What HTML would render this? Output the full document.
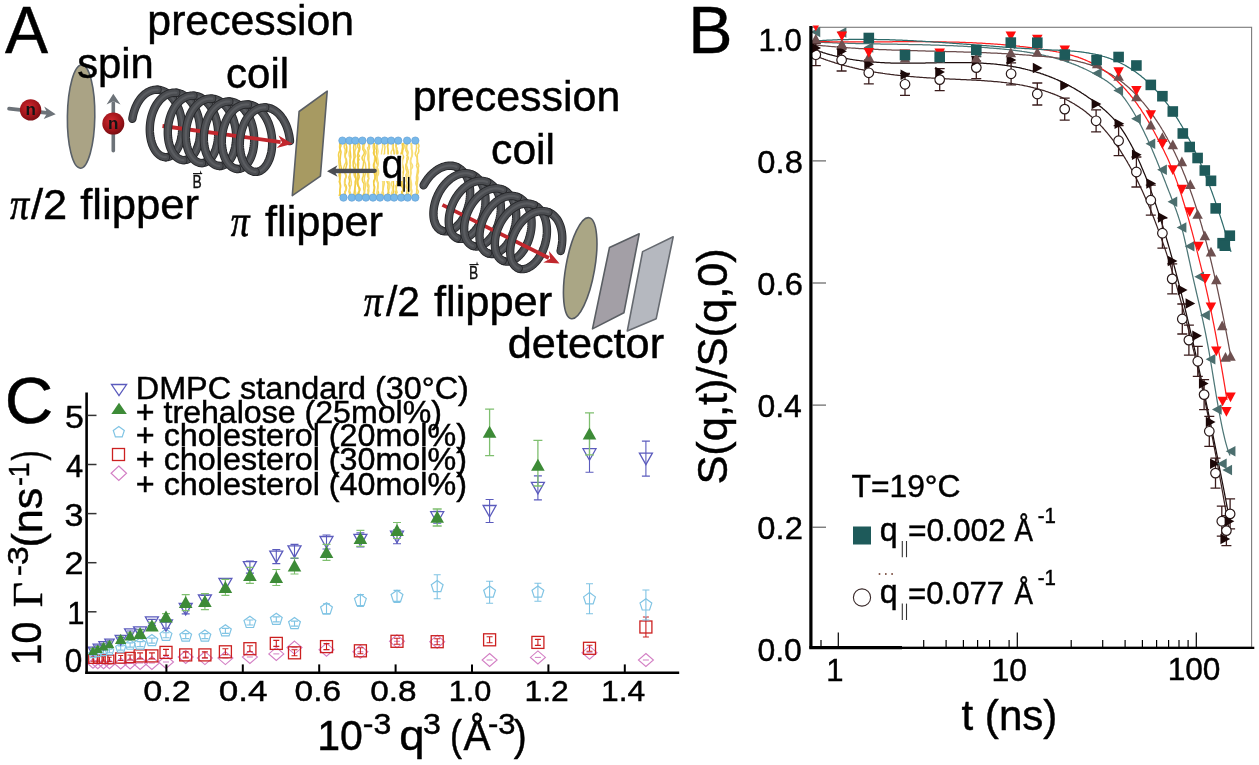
<!DOCTYPE html>
<html><head><meta charset="utf-8"><style>
html,body{margin:0;padding:0;background:#fff;}
body{width:1259px;height:765px;overflow:hidden;font-family:"Liberation Sans",sans-serif;}
svg{display:block;will-change:transform;}
</style></head><body>
<svg width="1259" height="765" viewBox="0 0 1259 765">
<defs>
<radialGradient id="ng" cx="0.42" cy="0.38" r="0.62"><stop offset="0" stop-color="#cf2a30"/><stop offset="0.65" stop-color="#a3151b"/><stop offset="1" stop-color="#7a0d12"/></radialGradient>
</defs>
<rect width="1259" height="765" fill="#fff"/>
<line x1="9" y1="108.6" x2="47" y2="112.9" stroke="#6d7379" stroke-width="3.6" stroke-linecap="round"/>
<polygon points="55.7,114.2 44.2,106.4 47.3,113 43.7,119" fill="#6d7379"/>
<circle cx="30.6" cy="109.9" r="10.7" fill="url(#ng)"/>
<text x="30.60" y="115.30" font-size="17" font-family="Liberation Sans" font-weight="bold" fill="#141414" text-anchor="middle">n</text>
<ellipse cx="81.1" cy="116.5" rx="13.7" ry="51.7" transform="rotate(0.8 81.1 116.5)" fill="#aaa385" stroke="#596068" stroke-width="1.6"/>
<line x1="113.3" y1="150.8" x2="113.3" y2="103" stroke="#6d7379" stroke-width="3.6" stroke-linecap="round"/>
<polygon points="113.3,93.7 106.6,104.4 113.3,101.3 120.5,104.4" fill="#6d7379"/>
<circle cx="113.3" cy="123.6" r="11" fill="url(#ng)"/>
<text x="113.30" y="129.00" font-size="17" font-family="Liberation Sans" font-weight="bold" fill="#141414" text-anchor="middle">n</text>
<text x="192.60" y="188.20" font-size="17.5" font-family="Liberation Sans" fill="#111" stroke="#111" stroke-width="0.35" textLength="9.2" lengthAdjust="spacingAndGlyphs">B</text>
<line x1="193.0" y1="173.6" x2="202.2" y2="173.6" stroke="#111" stroke-width="1.1"/>
<polygon points="199.79999999999998,174.0 200.6,170.2 201.6,174.0" fill="#111"/>
<text x="469.00" y="279.20" font-size="17.5" font-family="Liberation Sans" fill="#111" stroke="#111" stroke-width="0.35" textLength="9.2" lengthAdjust="spacingAndGlyphs">B</text>
<line x1="469.40000000000003" y1="264.59999999999997" x2="478.6" y2="264.59999999999997" stroke="#111" stroke-width="1.1"/>
<polygon points="476.20000000000005,265.0 477.0,261.2 478.0,265.0" fill="#111"/>
<g transform="translate(152.5,122) rotate(0)">
<path d="M5.04,-32.25 L6.62,-32.09 L8.20,-31.78 L9.76,-31.31 L11.30,-30.71 L12.81,-29.95 L14.29,-29.05 L15.73,-28.02 L17.12,-26.85 L18.46,-25.55 L19.75,-24.13 L20.98,-22.60 L22.14,-20.95 L23.23,-19.21 L24.24,-17.36 L25.18,-15.44 L26.04,-13.44 L26.81,-11.37 L27.49,-9.24 L28.09,-7.06 L28.59,-4.84 L29.00,-2.60 L29.32,-0.33 L29.54,1.94 L29.67,4.21 L29.70,6.46 L29.64,8.70 L29.49,10.90 L29.25,13.06 L28.91,15.16 L28.50,17.21 L28.00,19.18 L27.41,21.07 L26.76,22.88 L26.03,24.58 L25.23,26.18 L24.37,27.67 L23.44,29.04 L22.47,30.29 L21.44,31.40 L20.38,32.38 L19.27,33.22 L18.14,33.91 L16.98,34.46 L15.80,34.86 L14.61,35.11 L13.41,35.21" fill="none" stroke="#26272a" stroke-width="8.4" stroke-linecap="round" stroke-linejoin="round"/>
<path d="M5.04,-32.25 L6.62,-32.09 L8.20,-31.78 L9.76,-31.31 L11.30,-30.71 L12.81,-29.95 L14.29,-29.05 L15.73,-28.02 L17.12,-26.85 L18.46,-25.55 L19.75,-24.13 L20.98,-22.60 L22.14,-20.95 L23.23,-19.21 L24.24,-17.36 L25.18,-15.44 L26.04,-13.44 L26.81,-11.37 L27.49,-9.24 L28.09,-7.06 L28.59,-4.84 L29.00,-2.60 L29.32,-0.33 L29.54,1.94 L29.67,4.21 L29.70,6.46 L29.64,8.70 L29.49,10.90 L29.25,13.06 L28.91,15.16 L28.50,17.21 L28.00,19.18 L27.41,21.07 L26.76,22.88 L26.03,24.58 L25.23,26.18 L24.37,27.67 L23.44,29.04 L22.47,30.29 L21.44,31.40 L20.38,32.38 L19.27,33.22 L18.14,33.91 L16.98,34.46 L15.80,34.86 L14.61,35.11 L13.41,35.21" fill="none" stroke="#4a4c50" stroke-width="6.6000000000000005" stroke-linecap="round" stroke-linejoin="round"/>
<path d="M5.04,-32.25 L6.62,-32.09 L8.20,-31.78 L9.76,-31.31 L11.30,-30.71 L12.81,-29.95 L14.29,-29.05 L15.73,-28.02 L17.12,-26.85 L18.46,-25.55 L19.75,-24.13 L20.98,-22.60 L22.14,-20.95 L23.23,-19.21 L24.24,-17.36 L25.18,-15.44 L26.04,-13.44 L26.81,-11.37 L27.49,-9.24 L28.09,-7.06 L28.59,-4.84 L29.00,-2.60 L29.32,-0.33 L29.54,1.94 L29.67,4.21 L29.70,6.46 L29.64,8.70 L29.49,10.90 L29.25,13.06 L28.91,15.16 L28.50,17.21 L28.00,19.18 L27.41,21.07 L26.76,22.88 L26.03,24.58 L25.23,26.18 L24.37,27.67 L23.44,29.04 L22.47,30.29 L21.44,31.40 L20.38,32.38 L19.27,33.22 L18.14,33.91 L16.98,34.46 L15.80,34.86 L14.61,35.11 L13.41,35.21" fill="none" stroke="#5a5c60" stroke-width="2.22" stroke-linecap="round" stroke-linejoin="round"/>
<path d="M23.78,-29.25 L25.36,-29.02 L26.93,-28.64 L28.48,-28.11 L30.00,-27.43 L31.50,-26.61 L32.96,-25.65 L34.38,-24.55 L35.75,-23.32 L37.07,-21.97 L38.33,-20.49 L39.52,-18.90 L40.65,-17.21 L41.71,-15.42 L42.69,-13.54 L43.59,-11.58 L44.41,-9.54 L45.14,-7.44 L45.78,-5.29 L46.33,-3.09 L46.79,-0.86 L47.16,1.39 L47.43,3.66 L47.61,5.94 L47.69,8.20 L47.68,10.45 L47.58,12.67 L47.39,14.85 L47.10,16.99 L46.73,19.06 L46.27,21.08 L45.73,23.01 L45.12,24.86 L44.43,26.62 L43.66,28.28 L42.83,29.83 L41.94,31.26 L41.00,32.58 L40.00,33.76 L38.95,34.81 L37.87,35.73 L36.75,36.50 L35.60,37.13 L34.43,37.61 L33.25,37.94 L32.05,38.11 L30.86,38.14" fill="none" stroke="#26272a" stroke-width="8.4" stroke-linecap="round" stroke-linejoin="round"/>
<path d="M23.78,-29.25 L25.36,-29.02 L26.93,-28.64 L28.48,-28.11 L30.00,-27.43 L31.50,-26.61 L32.96,-25.65 L34.38,-24.55 L35.75,-23.32 L37.07,-21.97 L38.33,-20.49 L39.52,-18.90 L40.65,-17.21 L41.71,-15.42 L42.69,-13.54 L43.59,-11.58 L44.41,-9.54 L45.14,-7.44 L45.78,-5.29 L46.33,-3.09 L46.79,-0.86 L47.16,1.39 L47.43,3.66 L47.61,5.94 L47.69,8.20 L47.68,10.45 L47.58,12.67 L47.39,14.85 L47.10,16.99 L46.73,19.06 L46.27,21.08 L45.73,23.01 L45.12,24.86 L44.43,26.62 L43.66,28.28 L42.83,29.83 L41.94,31.26 L41.00,32.58 L40.00,33.76 L38.95,34.81 L37.87,35.73 L36.75,36.50 L35.60,37.13 L34.43,37.61 L33.25,37.94 L32.05,38.11 L30.86,38.14" fill="none" stroke="#4a4c50" stroke-width="6.6000000000000005" stroke-linecap="round" stroke-linejoin="round"/>
<path d="M23.78,-29.25 L25.36,-29.02 L26.93,-28.64 L28.48,-28.11 L30.00,-27.43 L31.50,-26.61 L32.96,-25.65 L34.38,-24.55 L35.75,-23.32 L37.07,-21.97 L38.33,-20.49 L39.52,-18.90 L40.65,-17.21 L41.71,-15.42 L42.69,-13.54 L43.59,-11.58 L44.41,-9.54 L45.14,-7.44 L45.78,-5.29 L46.33,-3.09 L46.79,-0.86 L47.16,1.39 L47.43,3.66 L47.61,5.94 L47.69,8.20 L47.68,10.45 L47.58,12.67 L47.39,14.85 L47.10,16.99 L46.73,19.06 L46.27,21.08 L45.73,23.01 L45.12,24.86 L44.43,26.62 L43.66,28.28 L42.83,29.83 L41.94,31.26 L41.00,32.58 L40.00,33.76 L38.95,34.81 L37.87,35.73 L36.75,36.50 L35.60,37.13 L34.43,37.61 L33.25,37.94 L32.05,38.11 L30.86,38.14" fill="none" stroke="#5a5c60" stroke-width="2.22" stroke-linecap="round" stroke-linejoin="round"/>
<path d="M40.93,-26.37 L42.51,-26.22 L44.09,-25.92 L45.65,-25.47 L47.19,-24.87 L48.71,-24.13 L50.19,-23.24 L51.63,-22.21 L53.03,-21.05 L54.37,-19.77 L55.66,-18.35 L56.89,-16.83 L58.06,-15.19 L59.15,-13.45 L60.17,-11.61 L61.12,-9.69 L61.98,-7.70 L62.76,-5.63 L63.45,-3.50 L64.05,-1.33 L64.56,0.88 L64.97,3.13 L65.30,5.39 L65.53,7.66 L65.66,9.93 L65.70,12.19 L65.65,14.43 L65.50,16.63 L65.26,18.79 L64.94,20.90 L64.53,22.95 L64.03,24.93 L63.46,26.83 L62.80,28.63 L62.08,30.35 L61.28,31.96 L60.43,33.45 L59.51,34.83 L58.54,36.08 L57.52,37.21 L56.45,38.20 L55.35,39.05 L54.22,39.75 L53.06,40.31 L51.88,40.72 L50.69,40.98 L49.50,41.09" fill="none" stroke="#26272a" stroke-width="8.4" stroke-linecap="round" stroke-linejoin="round"/>
<path d="M40.93,-26.37 L42.51,-26.22 L44.09,-25.92 L45.65,-25.47 L47.19,-24.87 L48.71,-24.13 L50.19,-23.24 L51.63,-22.21 L53.03,-21.05 L54.37,-19.77 L55.66,-18.35 L56.89,-16.83 L58.06,-15.19 L59.15,-13.45 L60.17,-11.61 L61.12,-9.69 L61.98,-7.70 L62.76,-5.63 L63.45,-3.50 L64.05,-1.33 L64.56,0.88 L64.97,3.13 L65.30,5.39 L65.53,7.66 L65.66,9.93 L65.70,12.19 L65.65,14.43 L65.50,16.63 L65.26,18.79 L64.94,20.90 L64.53,22.95 L64.03,24.93 L63.46,26.83 L62.80,28.63 L62.08,30.35 L61.28,31.96 L60.43,33.45 L59.51,34.83 L58.54,36.08 L57.52,37.21 L56.45,38.20 L55.35,39.05 L54.22,39.75 L53.06,40.31 L51.88,40.72 L50.69,40.98 L49.50,41.09" fill="none" stroke="#4a4c50" stroke-width="6.6000000000000005" stroke-linecap="round" stroke-linejoin="round"/>
<path d="M40.93,-26.37 L42.51,-26.22 L44.09,-25.92 L45.65,-25.47 L47.19,-24.87 L48.71,-24.13 L50.19,-23.24 L51.63,-22.21 L53.03,-21.05 L54.37,-19.77 L55.66,-18.35 L56.89,-16.83 L58.06,-15.19 L59.15,-13.45 L60.17,-11.61 L61.12,-9.69 L61.98,-7.70 L62.76,-5.63 L63.45,-3.50 L64.05,-1.33 L64.56,0.88 L64.97,3.13 L65.30,5.39 L65.53,7.66 L65.66,9.93 L65.70,12.19 L65.65,14.43 L65.50,16.63 L65.26,18.79 L64.94,20.90 L64.53,22.95 L64.03,24.93 L63.46,26.83 L62.80,28.63 L62.08,30.35 L61.28,31.96 L60.43,33.45 L59.51,34.83 L58.54,36.08 L57.52,37.21 L56.45,38.20 L55.35,39.05 L54.22,39.75 L53.06,40.31 L51.88,40.72 L50.69,40.98 L49.50,41.09" fill="none" stroke="#5a5c60" stroke-width="2.22" stroke-linecap="round" stroke-linejoin="round"/>
<path d="M59.67,-23.38 L61.25,-23.16 L62.82,-22.79 L64.37,-22.27 L65.90,-21.60 L67.40,-20.79 L68.86,-19.84 L70.29,-18.75 L71.66,-17.53 L72.98,-16.18 L74.24,-14.72 L75.44,-13.14 L76.58,-11.45 L77.64,-9.67 L78.62,-7.79 L79.53,-5.83 L80.35,-3.80 L81.09,-1.71 L81.74,0.44 L82.30,2.64 L82.76,4.87 L83.14,7.12 L83.42,9.39 L83.60,11.66 L83.69,13.93 L83.69,16.17 L83.59,18.40 L83.40,20.58 L83.12,22.72 L82.76,24.80 L82.31,26.82 L81.77,28.76 L81.16,30.62 L80.48,32.39 L79.72,34.05 L78.89,35.61 L78.01,37.05 L77.06,38.37 L76.07,39.56 L75.03,40.63 L73.94,41.55 L72.83,42.33 L71.68,42.97 L70.51,43.46 L69.33,43.80 L68.14,43.99 L66.94,44.02" fill="none" stroke="#26272a" stroke-width="8.4" stroke-linecap="round" stroke-linejoin="round"/>
<path d="M59.67,-23.38 L61.25,-23.16 L62.82,-22.79 L64.37,-22.27 L65.90,-21.60 L67.40,-20.79 L68.86,-19.84 L70.29,-18.75 L71.66,-17.53 L72.98,-16.18 L74.24,-14.72 L75.44,-13.14 L76.58,-11.45 L77.64,-9.67 L78.62,-7.79 L79.53,-5.83 L80.35,-3.80 L81.09,-1.71 L81.74,0.44 L82.30,2.64 L82.76,4.87 L83.14,7.12 L83.42,9.39 L83.60,11.66 L83.69,13.93 L83.69,16.17 L83.59,18.40 L83.40,20.58 L83.12,22.72 L82.76,24.80 L82.31,26.82 L81.77,28.76 L81.16,30.62 L80.48,32.39 L79.72,34.05 L78.89,35.61 L78.01,37.05 L77.06,38.37 L76.07,39.56 L75.03,40.63 L73.94,41.55 L72.83,42.33 L71.68,42.97 L70.51,43.46 L69.33,43.80 L68.14,43.99 L66.94,44.02" fill="none" stroke="#4a4c50" stroke-width="6.6000000000000005" stroke-linecap="round" stroke-linejoin="round"/>
<path d="M59.67,-23.38 L61.25,-23.16 L62.82,-22.79 L64.37,-22.27 L65.90,-21.60 L67.40,-20.79 L68.86,-19.84 L70.29,-18.75 L71.66,-17.53 L72.98,-16.18 L74.24,-14.72 L75.44,-13.14 L76.58,-11.45 L77.64,-9.67 L78.62,-7.79 L79.53,-5.83 L80.35,-3.80 L81.09,-1.71 L81.74,0.44 L82.30,2.64 L82.76,4.87 L83.14,7.12 L83.42,9.39 L83.60,11.66 L83.69,13.93 L83.69,16.17 L83.59,18.40 L83.40,20.58 L83.12,22.72 L82.76,24.80 L82.31,26.82 L81.77,28.76 L81.16,30.62 L80.48,32.39 L79.72,34.05 L78.89,35.61 L78.01,37.05 L77.06,38.37 L76.07,39.56 L75.03,40.63 L73.94,41.55 L72.83,42.33 L71.68,42.97 L70.51,43.46 L69.33,43.80 L68.14,43.99 L66.94,44.02" fill="none" stroke="#5a5c60" stroke-width="2.22" stroke-linecap="round" stroke-linejoin="round"/>
<path d="M76.82,-20.50 L78.41,-20.36 L79.98,-20.07 L81.55,-19.63 L83.09,-19.04 L84.60,-18.30 L86.09,-17.42 L87.53,-16.41 L88.93,-15.26 L90.28,-13.98 L91.58,-12.57 L92.81,-11.05 L93.98,-9.42 L95.08,-7.69 L96.11,-5.86 L97.06,-3.95 L97.92,-1.95 L98.71,0.11 L99.40,2.23 L100.01,4.40 L100.52,6.61 L100.95,8.85 L101.28,11.11 L101.51,13.39 L101.65,15.66 L101.70,17.92 L101.65,20.15 L101.51,22.36 L101.28,24.53 L100.96,26.64 L100.56,28.69 L100.07,30.67 L99.50,32.58 L98.85,34.39 L98.13,36.11 L97.34,37.73 L96.49,39.23 L95.57,40.62 L94.60,41.88 L93.59,43.02 L92.53,44.01 L91.43,44.87 L90.30,45.59 L89.14,46.16 L87.96,46.58 L86.77,46.84 L85.58,46.96 L84.38,46.93" fill="none" stroke="#26272a" stroke-width="8.4" stroke-linecap="round" stroke-linejoin="round"/>
<path d="M76.82,-20.50 L78.41,-20.36 L79.98,-20.07 L81.55,-19.63 L83.09,-19.04 L84.60,-18.30 L86.09,-17.42 L87.53,-16.41 L88.93,-15.26 L90.28,-13.98 L91.58,-12.57 L92.81,-11.05 L93.98,-9.42 L95.08,-7.69 L96.11,-5.86 L97.06,-3.95 L97.92,-1.95 L98.71,0.11 L99.40,2.23 L100.01,4.40 L100.52,6.61 L100.95,8.85 L101.28,11.11 L101.51,13.39 L101.65,15.66 L101.70,17.92 L101.65,20.15 L101.51,22.36 L101.28,24.53 L100.96,26.64 L100.56,28.69 L100.07,30.67 L99.50,32.58 L98.85,34.39 L98.13,36.11 L97.34,37.73 L96.49,39.23 L95.57,40.62 L94.60,41.88 L93.59,43.02 L92.53,44.01 L91.43,44.87 L90.30,45.59 L89.14,46.16 L87.96,46.58 L86.77,46.84 L85.58,46.96 L84.38,46.93" fill="none" stroke="#4a4c50" stroke-width="6.6000000000000005" stroke-linecap="round" stroke-linejoin="round"/>
<path d="M76.82,-20.50 L78.41,-20.36 L79.98,-20.07 L81.55,-19.63 L83.09,-19.04 L84.60,-18.30 L86.09,-17.42 L87.53,-16.41 L88.93,-15.26 L90.28,-13.98 L91.58,-12.57 L92.81,-11.05 L93.98,-9.42 L95.08,-7.69 L96.11,-5.86 L97.06,-3.95 L97.92,-1.95 L98.71,0.11 L99.40,2.23 L100.01,4.40 L100.52,6.61 L100.95,8.85 L101.28,11.11 L101.51,13.39 L101.65,15.66 L101.70,17.92 L101.65,20.15 L101.51,22.36 L101.28,24.53 L100.96,26.64 L100.56,28.69 L100.07,30.67 L99.50,32.58 L98.85,34.39 L98.13,36.11 L97.34,37.73 L96.49,39.23 L95.57,40.62 L94.60,41.88 L93.59,43.02 L92.53,44.01 L91.43,44.87 L90.30,45.59 L89.14,46.16 L87.96,46.58 L86.77,46.84 L85.58,46.96 L84.38,46.93" fill="none" stroke="#5a5c60" stroke-width="2.22" stroke-linecap="round" stroke-linejoin="round"/>
<path d="M95.56,-17.51 L97.14,-17.30 L98.71,-16.94 L100.27,-16.43 L101.80,-15.77 L103.30,-14.97 L104.76,-14.03 L106.19,-12.95 L107.57,-11.74 L108.89,-10.40 L110.16,-8.94 L111.36,-7.37 L112.50,-5.69 L113.57,-3.91 L114.56,-2.04 L115.47,-0.09 L116.30,1.94 L117.04,4.03 L117.70,6.17 L118.26,8.37 L118.73,10.59 L119.11,12.84 L119.40,15.11 L119.59,17.38 L119.69,19.65 L119.69,21.90 L119.60,24.13 L119.42,26.31 L119.15,28.46 L118.79,30.54 L118.34,32.56 L117.81,34.51 L117.21,36.38 L116.52,38.15 L115.77,39.82 L114.95,41.38 L114.07,42.83 L113.13,44.16 L112.14,45.37 L111.10,46.44 L110.02,47.37 L108.90,48.16 L107.76,48.81 L106.59,49.31 L105.41,49.66 L104.22,49.86 L103.02,49.91" fill="none" stroke="#26272a" stroke-width="8.4" stroke-linecap="round" stroke-linejoin="round"/>
<path d="M95.56,-17.51 L97.14,-17.30 L98.71,-16.94 L100.27,-16.43 L101.80,-15.77 L103.30,-14.97 L104.76,-14.03 L106.19,-12.95 L107.57,-11.74 L108.89,-10.40 L110.16,-8.94 L111.36,-7.37 L112.50,-5.69 L113.57,-3.91 L114.56,-2.04 L115.47,-0.09 L116.30,1.94 L117.04,4.03 L117.70,6.17 L118.26,8.37 L118.73,10.59 L119.11,12.84 L119.40,15.11 L119.59,17.38 L119.69,19.65 L119.69,21.90 L119.60,24.13 L119.42,26.31 L119.15,28.46 L118.79,30.54 L118.34,32.56 L117.81,34.51 L117.21,36.38 L116.52,38.15 L115.77,39.82 L114.95,41.38 L114.07,42.83 L113.13,44.16 L112.14,45.37 L111.10,46.44 L110.02,47.37 L108.90,48.16 L107.76,48.81 L106.59,49.31 L105.41,49.66 L104.22,49.86 L103.02,49.91" fill="none" stroke="#4a4c50" stroke-width="6.6000000000000005" stroke-linecap="round" stroke-linejoin="round"/>
<path d="M95.56,-17.51 L97.14,-17.30 L98.71,-16.94 L100.27,-16.43 L101.80,-15.77 L103.30,-14.97 L104.76,-14.03 L106.19,-12.95 L107.57,-11.74 L108.89,-10.40 L110.16,-8.94 L111.36,-7.37 L112.50,-5.69 L113.57,-3.91 L114.56,-2.04 L115.47,-0.09 L116.30,1.94 L117.04,4.03 L117.70,6.17 L118.26,8.37 L118.73,10.59 L119.11,12.84 L119.40,15.11 L119.59,17.38 L119.69,19.65 L119.69,21.90 L119.60,24.13 L119.42,26.31 L119.15,28.46 L118.79,30.54 L118.34,32.56 L117.81,34.51 L117.21,36.38 L116.52,38.15 L115.77,39.82 L114.95,41.38 L114.07,42.83 L113.13,44.16 L112.14,45.37 L111.10,46.44 L110.02,47.37 L108.90,48.16 L107.76,48.81 L106.59,49.31 L105.41,49.66 L104.22,49.86 L103.02,49.91" fill="none" stroke="#5a5c60" stroke-width="2.22" stroke-linecap="round" stroke-linejoin="round"/>
<path d="M112.71,-14.62 L114.30,-14.49 L115.87,-14.21 L117.44,-13.78 L118.98,-13.20 L120.50,-12.48 L121.99,-11.61 L123.43,-10.60 L124.84,-9.46 L126.19,-8.19 L127.49,-6.79 L128.73,-5.28 L129.90,-3.66 L131.01,-1.93 L132.04,-0.11 L132.99,1.80 L133.87,3.79 L134.65,5.84 L135.36,7.96 L135.97,10.13 L136.49,12.34 L136.92,14.58 L137.26,16.84 L137.50,19.11" fill="none" stroke="#26272a" stroke-width="8.4" stroke-linecap="round" stroke-linejoin="round"/>
<path d="M112.71,-14.62 L114.30,-14.49 L115.87,-14.21 L117.44,-13.78 L118.98,-13.20 L120.50,-12.48 L121.99,-11.61 L123.43,-10.60 L124.84,-9.46 L126.19,-8.19 L127.49,-6.79 L128.73,-5.28 L129.90,-3.66 L131.01,-1.93 L132.04,-0.11 L132.99,1.80 L133.87,3.79 L134.65,5.84 L135.36,7.96 L135.97,10.13 L136.49,12.34 L136.92,14.58 L137.26,16.84 L137.50,19.11" fill="none" stroke="#4a4c50" stroke-width="6.6000000000000005" stroke-linecap="round" stroke-linejoin="round"/>
<path d="M112.71,-14.62 L114.30,-14.49 L115.87,-14.21 L117.44,-13.78 L118.98,-13.20 L120.50,-12.48 L121.99,-11.61 L123.43,-10.60 L124.84,-9.46 L126.19,-8.19 L127.49,-6.79 L128.73,-5.28 L129.90,-3.66 L131.01,-1.93 L132.04,-0.11 L132.99,1.80 L133.87,3.79 L134.65,5.84 L135.36,7.96 L135.97,10.13 L136.49,12.34 L136.92,14.58 L137.26,16.84 L137.50,19.11" fill="none" stroke="#5a5c60" stroke-width="2.22" stroke-linecap="round" stroke-linejoin="round"/>
<line x1="10" y1="4" x2="128.12" y2="20.04" stroke="#c1272d" stroke-width="3.8"/>
<path d="M-20.11,-3.25 L-19.73,-5.44 L-19.26,-7.60 L-18.69,-9.73 L-18.04,-11.81 L-17.29,-13.84 L-16.46,-15.80 L-15.55,-17.69 L-14.56,-19.49 L-13.49,-21.21 L-12.36,-22.82 L-11.15,-24.33 L-9.88,-25.72 L-8.56,-27.00 L-7.18,-28.14 L-5.75,-29.16 L-4.29,-30.04 L-2.79,-30.77 L-1.26,-31.37 L0.30,-31.81 L1.87,-32.11 L3.45,-32.25 L5.04,-32.25" fill="none" stroke="#26272a" stroke-width="8.4" stroke-linecap="round" stroke-linejoin="round"/>
<path d="M-20.11,-3.25 L-19.73,-5.44 L-19.26,-7.60 L-18.69,-9.73 L-18.04,-11.81 L-17.29,-13.84 L-16.46,-15.80 L-15.55,-17.69 L-14.56,-19.49 L-13.49,-21.21 L-12.36,-22.82 L-11.15,-24.33 L-9.88,-25.72 L-8.56,-27.00 L-7.18,-28.14 L-5.75,-29.16 L-4.29,-30.04 L-2.79,-30.77 L-1.26,-31.37 L0.30,-31.81 L1.87,-32.11 L3.45,-32.25 L5.04,-32.25" fill="none" stroke="#4a4c50" stroke-width="6.6000000000000005" stroke-linecap="round" stroke-linejoin="round"/>
<path d="M-20.11,-3.25 L-19.73,-5.44 L-19.26,-7.60 L-18.69,-9.73 L-18.04,-11.81 L-17.29,-13.84 L-16.46,-15.80 L-15.55,-17.69 L-14.56,-19.49 L-13.49,-21.21 L-12.36,-22.82 L-11.15,-24.33 L-9.88,-25.72 L-8.56,-27.00 L-7.18,-28.14 L-5.75,-29.16 L-4.29,-30.04 L-2.79,-30.77 L-1.26,-31.37 L0.30,-31.81 L1.87,-32.11 L3.45,-32.25 L5.04,-32.25" fill="none" stroke="#5a5c60" stroke-width="2.22" stroke-linecap="round" stroke-linejoin="round"/>
<path d="M13.41,35.21 L12.22,35.15 L11.03,34.94 L9.85,34.59 L8.70,34.08 L7.57,33.43 L6.47,32.63 L5.41,31.70 L4.39,30.63 L3.42,29.43 L2.51,28.10 L1.65,26.66 L0.86,25.11 L0.14,23.45 L-0.50,21.70 L-1.07,19.86 L-1.56,17.94 L-1.97,15.95 L-2.29,13.90 L-2.52,11.80 L-2.65,9.65 L-2.70,7.48 L-2.65,5.28 L-2.51,3.08 L-2.28,0.87 L-1.95,-1.33 L-1.52,-3.51 L-1.01,-5.66 L-0.40,-7.76 L0.30,-9.82 L1.08,-11.82 L1.95,-13.75 L2.90,-15.60 L3.93,-17.36 L5.03,-19.03 L6.20,-20.60 L7.43,-22.05 L8.73,-23.39 L10.08,-24.61 L11.48,-25.69 L12.92,-26.64 L14.41,-27.46 L15.92,-28.13 L17.47,-28.65 L19.03,-29.03 L20.61,-29.25 L22.19,-29.33 L23.78,-29.25" fill="none" stroke="#26272a" stroke-width="8.4" stroke-linecap="round" stroke-linejoin="round"/>
<path d="M13.41,35.21 L12.22,35.15 L11.03,34.94 L9.85,34.59 L8.70,34.08 L7.57,33.43 L6.47,32.63 L5.41,31.70 L4.39,30.63 L3.42,29.43 L2.51,28.10 L1.65,26.66 L0.86,25.11 L0.14,23.45 L-0.50,21.70 L-1.07,19.86 L-1.56,17.94 L-1.97,15.95 L-2.29,13.90 L-2.52,11.80 L-2.65,9.65 L-2.70,7.48 L-2.65,5.28 L-2.51,3.08 L-2.28,0.87 L-1.95,-1.33 L-1.52,-3.51 L-1.01,-5.66 L-0.40,-7.76 L0.30,-9.82 L1.08,-11.82 L1.95,-13.75 L2.90,-15.60 L3.93,-17.36 L5.03,-19.03 L6.20,-20.60 L7.43,-22.05 L8.73,-23.39 L10.08,-24.61 L11.48,-25.69 L12.92,-26.64 L14.41,-27.46 L15.92,-28.13 L17.47,-28.65 L19.03,-29.03 L20.61,-29.25 L22.19,-29.33 L23.78,-29.25" fill="none" stroke="#4a4c50" stroke-width="6.6000000000000005" stroke-linecap="round" stroke-linejoin="round"/>
<path d="M13.41,35.21 L12.22,35.15 L11.03,34.94 L9.85,34.59 L8.70,34.08 L7.57,33.43 L6.47,32.63 L5.41,31.70 L4.39,30.63 L3.42,29.43 L2.51,28.10 L1.65,26.66 L0.86,25.11 L0.14,23.45 L-0.50,21.70 L-1.07,19.86 L-1.56,17.94 L-1.97,15.95 L-2.29,13.90 L-2.52,11.80 L-2.65,9.65 L-2.70,7.48 L-2.65,5.28 L-2.51,3.08 L-2.28,0.87 L-1.95,-1.33 L-1.52,-3.51 L-1.01,-5.66 L-0.40,-7.76 L0.30,-9.82 L1.08,-11.82 L1.95,-13.75 L2.90,-15.60 L3.93,-17.36 L5.03,-19.03 L6.20,-20.60 L7.43,-22.05 L8.73,-23.39 L10.08,-24.61 L11.48,-25.69 L12.92,-26.64 L14.41,-27.46 L15.92,-28.13 L17.47,-28.65 L19.03,-29.03 L20.61,-29.25 L22.19,-29.33 L23.78,-29.25" fill="none" stroke="#5a5c60" stroke-width="2.22" stroke-linecap="round" stroke-linejoin="round"/>
<path d="M30.86,38.14 L29.66,38.01 L28.48,37.74 L27.31,37.31 L26.17,36.74 L25.05,36.02 L23.97,35.15 L22.93,34.16 L21.93,33.02 L20.99,31.77 L20.10,30.39 L19.28,28.89 L18.52,27.29 L17.83,25.59 L17.22,23.79 L16.69,21.91 L16.24,19.96 L15.87,17.94 L15.60,15.87 L15.41,13.74 L15.31,11.58 L15.31,9.40 L15.40,7.20 L15.59,4.99 L15.87,2.78 L16.24,0.59 L16.71,-1.57 L17.27,-3.70 L17.92,-5.79 L18.65,-7.82 L19.48,-9.79 L20.38,-11.68 L21.37,-13.49 L22.43,-15.21 L23.56,-16.83 L24.76,-18.35 L26.03,-19.75 L27.35,-21.03 L28.72,-22.19 L30.15,-23.21 L31.61,-24.10 L33.11,-24.85 L34.64,-25.45 L36.19,-25.91 L37.76,-26.21 L39.34,-26.37 L40.93,-26.37" fill="none" stroke="#26272a" stroke-width="8.4" stroke-linecap="round" stroke-linejoin="round"/>
<path d="M30.86,38.14 L29.66,38.01 L28.48,37.74 L27.31,37.31 L26.17,36.74 L25.05,36.02 L23.97,35.15 L22.93,34.16 L21.93,33.02 L20.99,31.77 L20.10,30.39 L19.28,28.89 L18.52,27.29 L17.83,25.59 L17.22,23.79 L16.69,21.91 L16.24,19.96 L15.87,17.94 L15.60,15.87 L15.41,13.74 L15.31,11.58 L15.31,9.40 L15.40,7.20 L15.59,4.99 L15.87,2.78 L16.24,0.59 L16.71,-1.57 L17.27,-3.70 L17.92,-5.79 L18.65,-7.82 L19.48,-9.79 L20.38,-11.68 L21.37,-13.49 L22.43,-15.21 L23.56,-16.83 L24.76,-18.35 L26.03,-19.75 L27.35,-21.03 L28.72,-22.19 L30.15,-23.21 L31.61,-24.10 L33.11,-24.85 L34.64,-25.45 L36.19,-25.91 L37.76,-26.21 L39.34,-26.37 L40.93,-26.37" fill="none" stroke="#4a4c50" stroke-width="6.6000000000000005" stroke-linecap="round" stroke-linejoin="round"/>
<path d="M30.86,38.14 L29.66,38.01 L28.48,37.74 L27.31,37.31 L26.17,36.74 L25.05,36.02 L23.97,35.15 L22.93,34.16 L21.93,33.02 L20.99,31.77 L20.10,30.39 L19.28,28.89 L18.52,27.29 L17.83,25.59 L17.22,23.79 L16.69,21.91 L16.24,19.96 L15.87,17.94 L15.60,15.87 L15.41,13.74 L15.31,11.58 L15.31,9.40 L15.40,7.20 L15.59,4.99 L15.87,2.78 L16.24,0.59 L16.71,-1.57 L17.27,-3.70 L17.92,-5.79 L18.65,-7.82 L19.48,-9.79 L20.38,-11.68 L21.37,-13.49 L22.43,-15.21 L23.56,-16.83 L24.76,-18.35 L26.03,-19.75 L27.35,-21.03 L28.72,-22.19 L30.15,-23.21 L31.61,-24.10 L33.11,-24.85 L34.64,-25.45 L36.19,-25.91 L37.76,-26.21 L39.34,-26.37 L40.93,-26.37" fill="none" stroke="#5a5c60" stroke-width="2.22" stroke-linecap="round" stroke-linejoin="round"/>
<path d="M49.50,41.09 L48.30,41.04 L47.11,40.84 L45.93,40.50 L44.77,40.00 L43.64,39.36 L42.54,38.57 L41.48,37.65 L40.46,36.59 L39.48,35.39 L38.57,34.08 L37.71,32.64 L36.92,31.10 L36.19,29.45 L35.54,27.70 L34.96,25.87 L34.47,23.95 L34.06,21.97 L33.73,19.92 L33.50,17.82 L33.35,15.68 L33.30,13.51 L33.34,11.31 L33.48,9.11 L33.70,6.90 L34.03,4.70 L34.45,2.52 L34.96,0.37 L35.56,-1.74 L36.25,-3.80 L37.03,-5.80 L37.89,-7.74 L38.83,-9.59 L39.85,-11.36 L40.95,-13.04 L42.11,-14.61 L43.35,-16.08 L44.64,-17.42 L45.98,-18.65 L47.38,-19.74 L48.82,-20.70 L50.30,-21.53 L51.82,-22.21 L53.36,-22.74 L54.92,-23.13 L56.50,-23.36 L58.08,-23.45 L59.67,-23.38" fill="none" stroke="#26272a" stroke-width="8.4" stroke-linecap="round" stroke-linejoin="round"/>
<path d="M49.50,41.09 L48.30,41.04 L47.11,40.84 L45.93,40.50 L44.77,40.00 L43.64,39.36 L42.54,38.57 L41.48,37.65 L40.46,36.59 L39.48,35.39 L38.57,34.08 L37.71,32.64 L36.92,31.10 L36.19,29.45 L35.54,27.70 L34.96,25.87 L34.47,23.95 L34.06,21.97 L33.73,19.92 L33.50,17.82 L33.35,15.68 L33.30,13.51 L33.34,11.31 L33.48,9.11 L33.70,6.90 L34.03,4.70 L34.45,2.52 L34.96,0.37 L35.56,-1.74 L36.25,-3.80 L37.03,-5.80 L37.89,-7.74 L38.83,-9.59 L39.85,-11.36 L40.95,-13.04 L42.11,-14.61 L43.35,-16.08 L44.64,-17.42 L45.98,-18.65 L47.38,-19.74 L48.82,-20.70 L50.30,-21.53 L51.82,-22.21 L53.36,-22.74 L54.92,-23.13 L56.50,-23.36 L58.08,-23.45 L59.67,-23.38" fill="none" stroke="#4a4c50" stroke-width="6.6000000000000005" stroke-linecap="round" stroke-linejoin="round"/>
<path d="M49.50,41.09 L48.30,41.04 L47.11,40.84 L45.93,40.50 L44.77,40.00 L43.64,39.36 L42.54,38.57 L41.48,37.65 L40.46,36.59 L39.48,35.39 L38.57,34.08 L37.71,32.64 L36.92,31.10 L36.19,29.45 L35.54,27.70 L34.96,25.87 L34.47,23.95 L34.06,21.97 L33.73,19.92 L33.50,17.82 L33.35,15.68 L33.30,13.51 L33.34,11.31 L33.48,9.11 L33.70,6.90 L34.03,4.70 L34.45,2.52 L34.96,0.37 L35.56,-1.74 L36.25,-3.80 L37.03,-5.80 L37.89,-7.74 L38.83,-9.59 L39.85,-11.36 L40.95,-13.04 L42.11,-14.61 L43.35,-16.08 L44.64,-17.42 L45.98,-18.65 L47.38,-19.74 L48.82,-20.70 L50.30,-21.53 L51.82,-22.21 L53.36,-22.74 L54.92,-23.13 L56.50,-23.36 L58.08,-23.45 L59.67,-23.38" fill="none" stroke="#5a5c60" stroke-width="2.22" stroke-linecap="round" stroke-linejoin="round"/>
<path d="M66.94,44.02 L65.74,43.91 L64.56,43.64 L63.39,43.22 L62.24,42.66 L61.12,41.95 L60.04,41.10 L59.00,40.11 L58.00,38.99 L57.05,37.74 L56.16,36.36 L55.33,34.88 L54.57,33.28 L53.88,31.59 L53.26,29.80 L52.72,27.93 L52.27,25.98 L51.90,23.96 L51.61,21.89 L51.42,19.77 L51.32,17.61 L51.31,15.43 L51.39,13.23 L51.57,11.02 L51.84,8.81 L52.21,6.62 L52.67,4.46 L53.23,2.32 L53.87,0.23 L54.60,-1.80 L55.42,-3.77 L56.32,-5.67 L57.30,-7.49 L58.36,-9.22 L59.48,-10.85 L60.68,-12.37 L61.94,-13.78 L63.26,-15.07 L64.63,-16.23 L66.05,-17.27 L67.51,-18.16 L69.01,-18.92 L70.53,-19.53 L72.08,-20.00 L73.65,-20.32 L75.23,-20.48 L76.82,-20.50" fill="none" stroke="#26272a" stroke-width="8.4" stroke-linecap="round" stroke-linejoin="round"/>
<path d="M66.94,44.02 L65.74,43.91 L64.56,43.64 L63.39,43.22 L62.24,42.66 L61.12,41.95 L60.04,41.10 L59.00,40.11 L58.00,38.99 L57.05,37.74 L56.16,36.36 L55.33,34.88 L54.57,33.28 L53.88,31.59 L53.26,29.80 L52.72,27.93 L52.27,25.98 L51.90,23.96 L51.61,21.89 L51.42,19.77 L51.32,17.61 L51.31,15.43 L51.39,13.23 L51.57,11.02 L51.84,8.81 L52.21,6.62 L52.67,4.46 L53.23,2.32 L53.87,0.23 L54.60,-1.80 L55.42,-3.77 L56.32,-5.67 L57.30,-7.49 L58.36,-9.22 L59.48,-10.85 L60.68,-12.37 L61.94,-13.78 L63.26,-15.07 L64.63,-16.23 L66.05,-17.27 L67.51,-18.16 L69.01,-18.92 L70.53,-19.53 L72.08,-20.00 L73.65,-20.32 L75.23,-20.48 L76.82,-20.50" fill="none" stroke="#4a4c50" stroke-width="6.6000000000000005" stroke-linecap="round" stroke-linejoin="round"/>
<path d="M66.94,44.02 L65.74,43.91 L64.56,43.64 L63.39,43.22 L62.24,42.66 L61.12,41.95 L60.04,41.10 L59.00,40.11 L58.00,38.99 L57.05,37.74 L56.16,36.36 L55.33,34.88 L54.57,33.28 L53.88,31.59 L53.26,29.80 L52.72,27.93 L52.27,25.98 L51.90,23.96 L51.61,21.89 L51.42,19.77 L51.32,17.61 L51.31,15.43 L51.39,13.23 L51.57,11.02 L51.84,8.81 L52.21,6.62 L52.67,4.46 L53.23,2.32 L53.87,0.23 L54.60,-1.80 L55.42,-3.77 L56.32,-5.67 L57.30,-7.49 L58.36,-9.22 L59.48,-10.85 L60.68,-12.37 L61.94,-13.78 L63.26,-15.07 L64.63,-16.23 L66.05,-17.27 L67.51,-18.16 L69.01,-18.92 L70.53,-19.53 L72.08,-20.00 L73.65,-20.32 L75.23,-20.48 L76.82,-20.50" fill="none" stroke="#5a5c60" stroke-width="2.22" stroke-linecap="round" stroke-linejoin="round"/>
<path d="M84.38,46.93 L83.19,46.74 L82.01,46.41 L80.85,45.92 L79.72,45.29 L78.61,44.51 L77.55,43.59 L76.52,42.54 L75.55,41.36 L74.63,40.05 L73.77,38.63 L72.97,37.09 L72.24,35.45 L71.58,33.71 L71.00,31.88 L70.50,29.97 L70.08,27.99 L69.75,25.94 L69.51,23.85 L69.36,21.71 L69.30,19.54 L69.33,17.34 L69.46,15.14 L69.69,12.93 L70.00,10.73 L70.41,8.55 L70.92,6.40 L71.51,4.28 L72.20,2.22 L72.97,0.21 L73.83,-1.73 L74.77,-3.59 L75.78,-5.37 L76.87,-7.05 L78.03,-8.63 L79.26,-10.10 L80.55,-11.45 L81.89,-12.69 L83.28,-13.79 L84.72,-14.76 L86.20,-15.59 L87.71,-16.29 L89.25,-16.83 L90.81,-17.23 L92.39,-17.47 L93.97,-17.57 L95.56,-17.51" fill="none" stroke="#26272a" stroke-width="8.4" stroke-linecap="round" stroke-linejoin="round"/>
<path d="M84.38,46.93 L83.19,46.74 L82.01,46.41 L80.85,45.92 L79.72,45.29 L78.61,44.51 L77.55,43.59 L76.52,42.54 L75.55,41.36 L74.63,40.05 L73.77,38.63 L72.97,37.09 L72.24,35.45 L71.58,33.71 L71.00,31.88 L70.50,29.97 L70.08,27.99 L69.75,25.94 L69.51,23.85 L69.36,21.71 L69.30,19.54 L69.33,17.34 L69.46,15.14 L69.69,12.93 L70.00,10.73 L70.41,8.55 L70.92,6.40 L71.51,4.28 L72.20,2.22 L72.97,0.21 L73.83,-1.73 L74.77,-3.59 L75.78,-5.37 L76.87,-7.05 L78.03,-8.63 L79.26,-10.10 L80.55,-11.45 L81.89,-12.69 L83.28,-13.79 L84.72,-14.76 L86.20,-15.59 L87.71,-16.29 L89.25,-16.83 L90.81,-17.23 L92.39,-17.47 L93.97,-17.57 L95.56,-17.51" fill="none" stroke="#4a4c50" stroke-width="6.6000000000000005" stroke-linecap="round" stroke-linejoin="round"/>
<path d="M84.38,46.93 L83.19,46.74 L82.01,46.41 L80.85,45.92 L79.72,45.29 L78.61,44.51 L77.55,43.59 L76.52,42.54 L75.55,41.36 L74.63,40.05 L73.77,38.63 L72.97,37.09 L72.24,35.45 L71.58,33.71 L71.00,31.88 L70.50,29.97 L70.08,27.99 L69.75,25.94 L69.51,23.85 L69.36,21.71 L69.30,19.54 L69.33,17.34 L69.46,15.14 L69.69,12.93 L70.00,10.73 L70.41,8.55 L70.92,6.40 L71.51,4.28 L72.20,2.22 L72.97,0.21 L73.83,-1.73 L74.77,-3.59 L75.78,-5.37 L76.87,-7.05 L78.03,-8.63 L79.26,-10.10 L80.55,-11.45 L81.89,-12.69 L83.28,-13.79 L84.72,-14.76 L86.20,-15.59 L87.71,-16.29 L89.25,-16.83 L90.81,-17.23 L92.39,-17.47 L93.97,-17.57 L95.56,-17.51" fill="none" stroke="#5a5c60" stroke-width="2.22" stroke-linecap="round" stroke-linejoin="round"/>
<path d="M103.02,49.91 L101.83,49.80 L100.64,49.54 L99.47,49.14 L98.32,48.58 L97.20,47.88 L96.11,47.04 L95.07,46.06 L94.06,44.95 L93.11,43.71 L92.22,42.34 L91.39,40.86 L90.62,39.28 L89.92,37.59 L89.30,35.80 L88.76,33.94 L88.30,31.99 L87.92,29.98 L87.63,27.91 L87.43,25.80 L87.32,23.64 L87.30,21.46 L87.38,19.26 L87.56,17.05 L87.82,14.84 L88.18,12.65 L88.64,10.48 L89.18,8.35 L89.82,6.26 L90.55,4.22 L91.36,2.24 L92.25,0.34 L93.23,-1.49 L94.28,-3.22 L95.40,-4.86 L96.60,-6.39 L97.85,-7.81 L99.17,-9.10 L100.53,-10.28 L101.95,-11.32 L103.41,-12.23 L104.90,-12.99 L106.43,-13.62 L107.98,-14.09 L109.55,-14.42 L111.13,-14.60 L112.71,-14.62" fill="none" stroke="#26272a" stroke-width="8.4" stroke-linecap="round" stroke-linejoin="round"/>
<path d="M103.02,49.91 L101.83,49.80 L100.64,49.54 L99.47,49.14 L98.32,48.58 L97.20,47.88 L96.11,47.04 L95.07,46.06 L94.06,44.95 L93.11,43.71 L92.22,42.34 L91.39,40.86 L90.62,39.28 L89.92,37.59 L89.30,35.80 L88.76,33.94 L88.30,31.99 L87.92,29.98 L87.63,27.91 L87.43,25.80 L87.32,23.64 L87.30,21.46 L87.38,19.26 L87.56,17.05 L87.82,14.84 L88.18,12.65 L88.64,10.48 L89.18,8.35 L89.82,6.26 L90.55,4.22 L91.36,2.24 L92.25,0.34 L93.23,-1.49 L94.28,-3.22 L95.40,-4.86 L96.60,-6.39 L97.85,-7.81 L99.17,-9.10 L100.53,-10.28 L101.95,-11.32 L103.41,-12.23 L104.90,-12.99 L106.43,-13.62 L107.98,-14.09 L109.55,-14.42 L111.13,-14.60 L112.71,-14.62" fill="none" stroke="#4a4c50" stroke-width="6.6000000000000005" stroke-linecap="round" stroke-linejoin="round"/>
<path d="M103.02,49.91 L101.83,49.80 L100.64,49.54 L99.47,49.14 L98.32,48.58 L97.20,47.88 L96.11,47.04 L95.07,46.06 L94.06,44.95 L93.11,43.71 L92.22,42.34 L91.39,40.86 L90.62,39.28 L89.92,37.59 L89.30,35.80 L88.76,33.94 L88.30,31.99 L87.92,29.98 L87.63,27.91 L87.43,25.80 L87.32,23.64 L87.30,21.46 L87.38,19.26 L87.56,17.05 L87.82,14.84 L88.18,12.65 L88.64,10.48 L89.18,8.35 L89.82,6.26 L90.55,4.22 L91.36,2.24 L92.25,0.34 L93.23,-1.49 L94.28,-3.22 L95.40,-4.86 L96.60,-6.39 L97.85,-7.81 L99.17,-9.10 L100.53,-10.28 L101.95,-11.32 L103.41,-12.23 L104.90,-12.99 L106.43,-13.62 L107.98,-14.09 L109.55,-14.42 L111.13,-14.60 L112.71,-14.62" fill="none" stroke="#5a5c60" stroke-width="2.22" stroke-linecap="round" stroke-linejoin="round"/>
<polygon points="140.00,21.80 124.27,26.11 129.60,20.38 126.01,13.42" fill="#c1272d"/>
</g>
<polygon points="299.1,111.5 327.2,91.1 320.4,176.1 292.3,195.6" fill="#a79a62" stroke="#5b5f64" stroke-width="1.6" stroke-linejoin="round"/>
<path d="M339.9,143 Q339.2,146.6 340.1,150.2 Q337.7,153.9 338.9,157.7 Q338.7,161.9 339.3,166.0 Q339.7,170.5 340.5,175.0 Q340.6,178.5 339.2,181.9 Q341.7,185.7 339.9,189.5 Q340.7,192.7 339.0,196.0 " fill="none" stroke="#f4d24e" stroke-width="1.5"/>
<path d="M340.0,143 Q341.9,145.6 340.0,148.1 Q341.9,152.1 340.5,156.0 Q339.5,160.3 340.6,164.7 Q342.2,168.1 340.8,171.5 Q338.2,174.2 339.5,176.9 Q339.7,181.3 340.3,185.7 Q340.1,188.8 339.8,191.9 Q340.4,194.0 340.2,196.0 " fill="none" stroke="#f1cb45" stroke-width="1.5"/>
<path d="M345.7,143 Q347.5,147.4 346.7,151.7 Q344.0,155.6 346.4,159.4 Q347.7,163.8 345.8,168.3 Q344.2,172.2 346.3,176.1 Q344.6,179.8 344.8,183.4 Q348.1,187.6 344.9,191.8 Q345.2,193.9 345.0,196.0 " fill="none" stroke="#f1cb45" stroke-width="1.5"/>
<path d="M345.1,143 Q343.2,146.3 345.3,149.7 Q344.5,153.7 345.2,157.7 Q347.2,161.3 344.6,164.9 Q342.8,167.9 344.1,170.9 Q345.3,173.6 346.0,176.3 Q344.0,180.7 344.6,185.2 Q347.5,189.1 344.8,192.9 Q343.3,194.5 345.8,196.0 " fill="none" stroke="#f6d865" stroke-width="1.5"/>
<path d="M349.9,143 Q350.6,146.5 350.1,150.1 Q350.5,153.7 350.8,157.3 Q349.6,160.8 350.3,164.3 Q348.9,167.3 350.9,170.3 Q350.1,173.8 348.9,177.4 Q350.3,180.7 348.9,184.0 Q350.6,187.8 349.0,191.5 Q349.7,193.8 350.3,196.0 " fill="none" stroke="#f1cb45" stroke-width="1.5"/>
<path d="M350.3,143 Q350.2,146.1 350.4,149.1 Q347.9,153.5 350.0,157.9 Q349.3,161.7 350.5,165.4 Q348.7,168.3 350.8,171.2 Q349.1,175.3 350.8,179.5 Q351.8,182.2 351.2,185.0 Q348.4,188.8 350.3,192.7 Q349.1,194.3 349.9,196.0 " fill="none" stroke="#f6d865" stroke-width="1.5"/>
<path d="M355.1,143 Q355.6,145.7 356.0,148.4 Q353.7,152.2 355.7,156.1 Q353.0,160.5 355.6,164.9 Q355.5,167.9 354.7,170.8 Q352.8,174.9 356.0,179.0 Q356.8,182.1 355.3,185.2 Q354.3,189.4 355.8,193.7 Q355.7,194.8 355.3,196.0 " fill="none" stroke="#f6d865" stroke-width="1.5"/>
<path d="M354.3,143 Q353.1,147.1 353.9,151.2 Q353.8,154.5 354.1,157.8 Q352.5,162.2 353.3,166.5 Q356.2,170.9 355.2,175.3 Q356.5,178.7 355.1,182.0 Q355.5,185.0 354.9,187.9 Q354.3,191.8 353.8,195.6 Q352.9,195.8 353.4,196.0 " fill="none" stroke="#f1cb45" stroke-width="1.5"/>
<path d="M358.6,143 Q356.3,146.0 359.2,149.0 Q357.1,152.5 359.4,156.0 Q356.3,159.4 358.6,162.7 Q358.6,165.5 358.1,168.2 Q358.8,170.8 357.7,173.3 Q356.7,177.6 357.8,182.0 Q358.8,186.4 359.2,190.8 Q357.2,193.4 357.8,196.0 " fill="none" stroke="#f4d24e" stroke-width="1.5"/>
<path d="M358.7,143 Q360.8,147.1 359.3,151.2 Q356.2,155.3 359.0,159.5 Q356.5,163.7 358.3,167.9 Q358.8,170.9 358.6,174.0 Q360.1,177.4 357.7,180.9 Q356.8,183.5 358.0,186.1 Q361.1,188.7 359.4,191.4 Q358.7,193.7 358.3,196.0 " fill="none" stroke="#f1cb45" stroke-width="1.5"/>
<path d="M363.2,143 Q362.7,146.3 362.8,149.5 Q365.7,152.6 363.1,155.6 Q360.7,158.4 363.7,161.1 Q363.6,165.2 362.3,169.3 Q364.0,172.7 363.3,176.1 Q360.9,179.9 364.0,183.7 Q363.9,186.3 363.7,188.9 Q365.5,192.0 363.1,195.2 Q361.8,195.6 362.8,196.0 " fill="none" stroke="#f4d24e" stroke-width="1.5"/>
<path d="M365.0,143 Q363.1,145.9 364.0,148.9 Q367.3,152.0 365.1,155.2 Q363.1,159.4 365.4,163.7 Q366.1,168.1 365.7,172.4 Q364.4,176.0 364.2,179.6 Q365.1,182.7 365.6,185.8 Q364.8,189.8 364.4,193.7 Q365.1,194.8 365.1,196.0 " fill="none" stroke="#f6d865" stroke-width="1.5"/>
<path d="M368.2,143 Q369.9,145.5 367.5,148.1 Q369.1,152.3 368.9,156.5 Q368.6,160.9 368.8,165.3 Q369.6,167.9 368.3,170.4 Q366.3,174.4 368.7,178.3 Q366.0,182.7 367.9,187.0 Q369.9,190.7 367.7,194.3 Q367.0,195.1 368.5,196.0 " fill="none" stroke="#f6d865" stroke-width="1.5"/>
<path d="M368.4,143 Q370.6,146.7 368.5,150.4 Q367.8,154.8 367.9,159.3 Q370.1,163.6 369.3,168.0 Q368.7,171.3 368.6,174.6 Q369.3,179.0 367.7,183.3 Q370.3,186.6 367.7,189.9 Q368.3,193.0 368.8,196.0 " fill="none" stroke="#f6d865" stroke-width="1.5"/>
<path d="M374.0,143 Q372.1,147.2 374.5,151.4 Q374.0,154.2 374.8,157.0 Q374.1,161.2 374.5,165.4 Q375.7,169.3 374.1,173.1 Q376.4,176.8 374.7,180.4 Q372.8,183.6 374.6,186.7 Q374.3,189.6 373.4,192.5 Q375.8,194.2 373.8,196.0 " fill="none" stroke="#f6d865" stroke-width="1.5"/>
<path d="M374.2,143 Q374.6,145.9 375.0,148.8 Q371.9,152.6 375.2,156.4 Q376.5,159.1 374.8,161.7 Q372.0,166.0 375.1,170.2 Q375.0,174.5 374.8,178.8 Q372.8,181.5 373.7,184.1 Q375.6,188.4 373.5,192.7 Q375.1,194.3 373.3,196.0 " fill="none" stroke="#f1cb45" stroke-width="1.5"/>
<path d="M377.7,143 Q376.1,145.6 376.9,148.2 Q375.8,152.3 377.2,156.4 Q375.4,160.7 377.6,165.0 Q376.9,169.0 376.8,173.0 Q377.1,176.1 376.9,179.3 Q378.9,183.1 377.7,186.9 Q376.8,189.6 378.5,192.4 Q377.4,194.2 377.6,196.0 " fill="none" stroke="#f1cb45" stroke-width="1.5"/>
<path d="M377.5,143 Q376.9,147.4 378.1,151.8 Q376.5,155.8 377.9,159.8 Q379.1,163.6 377.1,167.4 Q379.8,171.4 377.9,175.4 Q375.6,179.0 377.5,182.6 Q378.6,185.8 377.9,189.0 Q375.9,192.5 377.8,196.0 " fill="none" stroke="#f8df78" stroke-width="1.5"/>
<path d="M382.5,143 Q383.3,147.3 381.7,151.6 Q380.7,155.9 382.1,160.3 Q383.0,164.2 382.6,168.2 Q382.3,172.0 382.1,175.8 Q380.3,178.6 382.9,181.5 Q382.7,185.5 383.0,189.5 Q381.3,192.7 382.2,195.9 Q380.2,196.0 382.5,196.0 " fill="none" stroke="#f8df78" stroke-width="1.5"/>
<path d="M383.7,143 Q385.6,146.5 384.6,150.1 Q385.3,153.5 382.9,156.9 Q386.2,160.3 383.0,163.8 Q384.6,167.5 383.8,171.2 Q381.8,175.5 384.1,179.8 Q384.6,183.5 383.5,187.1 Q381.9,191.6 383.9,196.0 " fill="none" stroke="#f6d865" stroke-width="1.5"/>
<path d="M388.7,143 Q387.1,146.6 388.1,150.2 Q388.1,154.4 388.3,158.7 Q388.4,162.8 388.5,167.0 Q387.8,171.2 389.5,175.3 Q388.7,178.4 388.8,181.5 Q390.7,185.4 389.1,189.3 Q387.2,191.9 389.0,194.5 Q390.0,195.2 388.2,196.0 " fill="none" stroke="#f8df78" stroke-width="1.5"/>
<path d="M388.1,143 Q386.5,146.4 388.1,149.8 Q388.1,152.4 388.3,155.0 Q388.4,158.4 389.0,161.8 Q386.2,166.1 388.6,170.3 Q385.8,174.1 387.8,177.8 Q385.9,180.8 388.1,183.8 Q387.2,188.1 388.8,192.5 Q386.2,194.2 388.8,196.0 " fill="none" stroke="#f4d24e" stroke-width="1.5"/>
<path d="M393.3,143 Q392.5,147.0 393.9,151.0 Q395.1,155.3 393.1,159.7 Q393.2,163.7 392.5,167.7 Q391.2,170.3 392.7,172.9 Q393.3,175.7 393.7,178.5 Q392.9,182.1 393.6,185.7 Q393.1,188.8 393.8,191.9 Q391.7,193.9 394.1,196.0 " fill="none" stroke="#f1cb45" stroke-width="1.5"/>
<path d="M392.4,143 Q392.6,146.2 392.6,149.5 Q389.9,152.4 391.8,155.4 Q390.6,159.4 392.4,163.5 Q391.0,166.4 391.8,169.3 Q390.8,172.6 391.5,175.9 Q390.8,178.6 392.4,181.3 Q390.0,184.0 392.3,186.6 Q393.4,189.9 391.5,193.2 Q391.9,194.6 391.5,196.0 " fill="none" stroke="#f8df78" stroke-width="1.5"/>
<path d="M396.9,143 Q395.3,146.3 396.5,149.6 Q398.9,152.3 397.1,155.0 Q395.8,159.1 397.8,163.3 Q398.3,167.6 397.8,172.0 Q397.2,175.5 395.9,179.0 Q399.3,182.1 396.5,185.3 Q396.6,187.9 396.1,190.5 Q394.9,193.3 397.2,196.0 " fill="none" stroke="#f4d24e" stroke-width="1.5"/>
<path d="M396.7,143 Q394.5,145.6 397.0,148.1 Q395.2,152.4 397.7,156.7 Q398.2,160.2 397.5,163.7 Q394.4,168.0 396.3,172.4 Q398.9,176.1 395.9,179.8 Q398.5,182.9 395.9,186.0 Q395.9,189.3 397.1,192.6 Q395.1,194.3 397.2,196.0 " fill="none" stroke="#f6d865" stroke-width="1.5"/>
<path d="M403.1,143 Q405.2,146.6 402.8,150.2 Q401.7,153.5 403.6,156.9 Q401.9,160.3 402.4,163.8 Q403.6,167.7 403.5,171.7 Q403.0,175.0 402.4,178.2 Q400.7,182.1 403.0,186.1 Q403.9,190.1 402.2,194.1 Q404.8,195.1 403.3,196.0 " fill="none" stroke="#f4d24e" stroke-width="1.5"/>
<path d="M402.1,143 Q403.3,147.3 401.8,151.6 Q400.0,154.8 401.9,158.1 Q400.2,162.5 402.3,166.9 Q400.0,169.6 402.4,172.3 Q399.9,175.3 401.4,178.3 Q402.6,182.1 401.2,185.9 Q404.5,188.8 401.6,191.8 Q401.7,193.9 402.7,196.0 " fill="none" stroke="#f1cb45" stroke-width="1.5"/>
<path d="M407.7,143 Q406.1,146.6 407.0,150.1 Q409.3,152.8 406.9,155.5 Q410.0,158.0 407.1,160.6 Q405.6,164.8 407.6,169.1 Q409.3,172.1 407.9,175.0 Q409.0,178.8 408.4,182.6 Q408.2,185.8 407.6,189.0 Q409.4,191.7 407.9,194.4 Q406.2,195.2 407.8,196.0 " fill="none" stroke="#f6d865" stroke-width="1.5"/>
<path d="M406.5,143 Q405.7,146.8 405.9,150.6 Q408.6,154.6 406.9,158.6 Q407.9,161.8 405.7,165.0 Q405.3,168.6 407.2,172.1 Q405.2,174.7 406.4,177.4 Q405.6,180.4 407.0,183.4 Q405.1,186.3 407.3,189.2 Q406.3,192.6 406.9,196.0 " fill="none" stroke="#f6d865" stroke-width="1.5"/>
<path d="M411.4,143 Q412.1,145.9 411.3,148.8 Q413.8,153.1 411.4,157.3 Q409.1,161.0 412.3,164.7 Q413.4,167.2 410.5,169.8 Q411.5,172.6 410.6,175.4 Q409.9,178.8 410.8,182.3 Q409.1,185.7 411.4,189.2 Q412.8,192.1 410.7,195.0 Q413.5,195.5 411.3,196.0 " fill="none" stroke="#f8df78" stroke-width="1.5"/>
<path d="M410.9,143 Q411.9,147.0 411.9,151.1 Q412.8,155.5 410.7,160.0 Q410.0,162.8 410.8,165.6 Q411.1,169.2 410.6,172.7 Q409.8,176.9 410.8,181.1 Q412.5,185.4 410.5,189.7 Q412.5,192.7 409.9,195.6 Q411.1,195.8 411.0,196.0 " fill="none" stroke="#f8df78" stroke-width="1.5"/>
<path d="M417.6,143 Q420.0,145.5 418.2,148.0 Q419.9,151.2 417.3,154.4 Q417.5,158.0 417.1,161.6 Q419.6,164.7 418.3,167.7 Q419.1,171.5 417.5,175.2 Q418.4,178.2 417.6,181.2 Q416.8,185.2 416.6,189.1 Q420.1,191.7 416.9,194.2 Q417.9,195.1 418.5,196.0 " fill="none" stroke="#f6d865" stroke-width="1.5"/>
<path d="M416.5,143 Q416.8,147.2 416.1,151.3 Q414.1,154.2 416.8,157.0 Q418.6,161.3 416.5,165.6 Q418.7,169.4 417.1,173.2 Q416.1,177.0 416.6,180.7 Q414.9,183.5 416.9,186.3 Q416.8,190.8 416.3,195.3 Q416.3,195.7 417.1,196.0 " fill="none" stroke="#f6d865" stroke-width="1.5"/>
<circle cx="342.4" cy="140.6" r="3.7" fill="#78b9ea" stroke="#5a9ad2" stroke-width="0.6"/>
<circle cx="349.4" cy="140.6" r="3.7" fill="#78b9ea" stroke="#5a9ad2" stroke-width="0.6"/>
<circle cx="355.3" cy="140.6" r="3.7" fill="#78b9ea" stroke="#5a9ad2" stroke-width="0.6"/>
<circle cx="362.4" cy="140.6" r="3.7" fill="#78b9ea" stroke="#5a9ad2" stroke-width="0.6"/>
<circle cx="370.6" cy="140.6" r="3.7" fill="#78b9ea" stroke="#5a9ad2" stroke-width="0.6"/>
<circle cx="378.2" cy="140.6" r="3.7" fill="#78b9ea" stroke="#5a9ad2" stroke-width="0.6"/>
<circle cx="384.7" cy="140.6" r="3.7" fill="#78b9ea" stroke="#5a9ad2" stroke-width="0.6"/>
<circle cx="391.2" cy="140.6" r="3.7" fill="#78b9ea" stroke="#5a9ad2" stroke-width="0.6"/>
<circle cx="398.2" cy="140.6" r="3.7" fill="#78b9ea" stroke="#5a9ad2" stroke-width="0.6"/>
<circle cx="407.1" cy="140.6" r="3.7" fill="#78b9ea" stroke="#5a9ad2" stroke-width="0.6"/>
<circle cx="415.3" cy="140.6" r="3.7" fill="#78b9ea" stroke="#5a9ad2" stroke-width="0.6"/>
<circle cx="343.5" cy="197.6" r="3.7" fill="#78b9ea" stroke="#5a9ad2" stroke-width="0.6"/>
<circle cx="351.8" cy="197.6" r="3.7" fill="#78b9ea" stroke="#5a9ad2" stroke-width="0.6"/>
<circle cx="358.8" cy="197.6" r="3.7" fill="#78b9ea" stroke="#5a9ad2" stroke-width="0.6"/>
<circle cx="365.9" cy="197.6" r="3.7" fill="#78b9ea" stroke="#5a9ad2" stroke-width="0.6"/>
<circle cx="373" cy="197.6" r="3.7" fill="#78b9ea" stroke="#5a9ad2" stroke-width="0.6"/>
<circle cx="380" cy="197.6" r="3.7" fill="#78b9ea" stroke="#5a9ad2" stroke-width="0.6"/>
<circle cx="387.6" cy="197.6" r="3.7" fill="#78b9ea" stroke="#5a9ad2" stroke-width="0.6"/>
<circle cx="394.1" cy="197.6" r="3.7" fill="#78b9ea" stroke="#5a9ad2" stroke-width="0.6"/>
<circle cx="401.2" cy="197.6" r="3.7" fill="#78b9ea" stroke="#5a9ad2" stroke-width="0.6"/>
<circle cx="407.6" cy="197.6" r="3.7" fill="#78b9ea" stroke="#5a9ad2" stroke-width="0.6"/>
<circle cx="415.3" cy="197.6" r="3.7" fill="#78b9ea" stroke="#5a9ad2" stroke-width="0.6"/>
<line x1="374.7" y1="170.8" x2="335" y2="171" stroke="#4b4d52" stroke-width="4.3" stroke-linecap="round"/>
<polygon points="327,171.2 337.5,165.3 334.5,171.1 337.5,176.8" fill="#4b4d52"/>
<rect x="380" y="154.5" width="22.4" height="26.5" fill="#fff"/>
<text x="381.41" y="178.40" font-family="Liberation Sans" font-size="40" fill="#000" stroke="#000" stroke-width="0.45" textLength="22.02" lengthAdjust="spacingAndGlyphs" >q</text>
<line x1="404.1" y1="177" x2="404.1" y2="191.8" stroke="#000" stroke-width="1.5"/>
<line x1="408.7" y1="177" x2="408.7" y2="191.8" stroke="#000" stroke-width="1.5"/>
<g transform="translate(441.5,195) rotate(19.5)">
<path d="M4.78,-31.48 L6.36,-31.34 L7.92,-31.05 L9.47,-30.61 L11.00,-30.03 L12.50,-29.30 L13.97,-28.44 L15.40,-27.45 L16.78,-26.33 L18.11,-25.08 L19.39,-23.71 L20.60,-22.23 L21.75,-20.64 L22.83,-18.96 L23.84,-17.18 L24.76,-15.32 L25.61,-13.39 L26.37,-11.39 L27.04,-9.34 L27.63,-7.24 L28.12,-5.10 L28.52,-2.93 L28.82,-0.74 L29.04,1.45 L29.15,3.64 L29.18,5.82 L29.11,7.98 L28.94,10.11 L28.69,12.19 L28.35,14.22 L27.92,16.20 L27.41,18.10 L26.82,19.92 L26.15,21.66 L25.41,23.31 L24.60,24.85 L23.72,26.29 L22.79,27.60 L21.80,28.80 L20.77,29.87 L19.69,30.81 L18.58,31.62 L17.43,32.28 L16.26,32.81 L15.07,33.18 L13.87,33.42 L12.66,33.50" fill="none" stroke="#26272a" stroke-width="8.4" stroke-linecap="round" stroke-linejoin="round"/>
<path d="M4.78,-31.48 L6.36,-31.34 L7.92,-31.05 L9.47,-30.61 L11.00,-30.03 L12.50,-29.30 L13.97,-28.44 L15.40,-27.45 L16.78,-26.33 L18.11,-25.08 L19.39,-23.71 L20.60,-22.23 L21.75,-20.64 L22.83,-18.96 L23.84,-17.18 L24.76,-15.32 L25.61,-13.39 L26.37,-11.39 L27.04,-9.34 L27.63,-7.24 L28.12,-5.10 L28.52,-2.93 L28.82,-0.74 L29.04,1.45 L29.15,3.64 L29.18,5.82 L29.11,7.98 L28.94,10.11 L28.69,12.19 L28.35,14.22 L27.92,16.20 L27.41,18.10 L26.82,19.92 L26.15,21.66 L25.41,23.31 L24.60,24.85 L23.72,26.29 L22.79,27.60 L21.80,28.80 L20.77,29.87 L19.69,30.81 L18.58,31.62 L17.43,32.28 L16.26,32.81 L15.07,33.18 L13.87,33.42 L12.66,33.50" fill="none" stroke="#4a4c50" stroke-width="6.6000000000000005" stroke-linecap="round" stroke-linejoin="round"/>
<path d="M4.78,-31.48 L6.36,-31.34 L7.92,-31.05 L9.47,-30.61 L11.00,-30.03 L12.50,-29.30 L13.97,-28.44 L15.40,-27.45 L16.78,-26.33 L18.11,-25.08 L19.39,-23.71 L20.60,-22.23 L21.75,-20.64 L22.83,-18.96 L23.84,-17.18 L24.76,-15.32 L25.61,-13.39 L26.37,-11.39 L27.04,-9.34 L27.63,-7.24 L28.12,-5.10 L28.52,-2.93 L28.82,-0.74 L29.04,1.45 L29.15,3.64 L29.18,5.82 L29.11,7.98 L28.94,10.11 L28.69,12.19 L28.35,14.22 L27.92,16.20 L27.41,18.10 L26.82,19.92 L26.15,21.66 L25.41,23.31 L24.60,24.85 L23.72,26.29 L22.79,27.60 L21.80,28.80 L20.77,29.87 L19.69,30.81 L18.58,31.62 L17.43,32.28 L16.26,32.81 L15.07,33.18 L13.87,33.42 L12.66,33.50" fill="none" stroke="#5a5c60" stroke-width="2.22" stroke-linecap="round" stroke-linejoin="round"/>
<path d="M22.52,-29.43 L24.09,-29.22 L25.65,-28.86 L27.19,-28.36 L28.70,-27.71 L30.19,-26.92 L31.64,-26.00 L33.05,-24.94 L34.41,-23.76 L35.71,-22.45 L36.96,-21.03 L38.15,-19.50 L39.26,-17.87 L40.31,-16.14 L41.28,-14.33 L42.17,-12.43 L42.97,-10.47 L43.69,-8.44 L44.33,-6.36 L44.87,-4.24 L45.32,-2.09 L45.67,0.09 L45.93,2.28 L46.10,4.47 L46.18,6.66 L46.15,8.83 L46.04,10.97 L45.84,13.08 L45.54,15.14 L45.16,17.15 L44.69,19.09 L44.14,20.96 L43.51,22.75 L42.81,24.44 L42.04,26.04 L41.20,27.53 L40.30,28.91 L39.34,30.18 L38.33,31.32 L37.27,32.33 L36.18,33.21 L35.05,33.95 L33.89,34.54 L32.71,35.00 L31.51,35.31 L30.31,35.47 L29.10,35.49" fill="none" stroke="#26272a" stroke-width="8.4" stroke-linecap="round" stroke-linejoin="round"/>
<path d="M22.52,-29.43 L24.09,-29.22 L25.65,-28.86 L27.19,-28.36 L28.70,-27.71 L30.19,-26.92 L31.64,-26.00 L33.05,-24.94 L34.41,-23.76 L35.71,-22.45 L36.96,-21.03 L38.15,-19.50 L39.26,-17.87 L40.31,-16.14 L41.28,-14.33 L42.17,-12.43 L42.97,-10.47 L43.69,-8.44 L44.33,-6.36 L44.87,-4.24 L45.32,-2.09 L45.67,0.09 L45.93,2.28 L46.10,4.47 L46.18,6.66 L46.15,8.83 L46.04,10.97 L45.84,13.08 L45.54,15.14 L45.16,17.15 L44.69,19.09 L44.14,20.96 L43.51,22.75 L42.81,24.44 L42.04,26.04 L41.20,27.53 L40.30,28.91 L39.34,30.18 L38.33,31.32 L37.27,32.33 L36.18,33.21 L35.05,33.95 L33.89,34.54 L32.71,35.00 L31.51,35.31 L30.31,35.47 L29.10,35.49" fill="none" stroke="#4a4c50" stroke-width="6.6000000000000005" stroke-linecap="round" stroke-linejoin="round"/>
<path d="M22.52,-29.43 L24.09,-29.22 L25.65,-28.86 L27.19,-28.36 L28.70,-27.71 L30.19,-26.92 L31.64,-26.00 L33.05,-24.94 L34.41,-23.76 L35.71,-22.45 L36.96,-21.03 L38.15,-19.50 L39.26,-17.87 L40.31,-16.14 L41.28,-14.33 L42.17,-12.43 L42.97,-10.47 L43.69,-8.44 L44.33,-6.36 L44.87,-4.24 L45.32,-2.09 L45.67,0.09 L45.93,2.28 L46.10,4.47 L46.18,6.66 L46.15,8.83 L46.04,10.97 L45.84,13.08 L45.54,15.14 L45.16,17.15 L44.69,19.09 L44.14,20.96 L43.51,22.75 L42.81,24.44 L42.04,26.04 L41.20,27.53 L40.30,28.91 L39.34,30.18 L38.33,31.32 L37.27,32.33 L36.18,33.21 L35.05,33.95 L33.89,34.54 L32.71,35.00 L31.51,35.31 L30.31,35.47 L29.10,35.49" fill="none" stroke="#5a5c60" stroke-width="2.22" stroke-linecap="round" stroke-linejoin="round"/>
<path d="M38.68,-27.49 L40.25,-27.35 L41.82,-27.07 L43.37,-26.64 L44.90,-26.07 L46.40,-25.36 L47.87,-24.51 L49.30,-23.52 L50.69,-22.41 L52.02,-21.17 L53.30,-19.81 L54.52,-18.33 L55.68,-16.76 L56.76,-15.08 L57.77,-13.31 L58.70,-11.45 L59.55,-9.53 L60.32,-7.53 L61.00,-5.48 L61.59,-3.38 L62.09,-1.24 L62.49,0.92 L62.81,3.11 L63.02,5.30 L63.15,7.49 L63.18,9.67 L63.11,11.83 L62.96,13.96 L62.71,16.05 L62.37,18.08 L61.95,20.06 L61.44,21.97 L60.86,23.80 L60.19,25.55 L59.46,27.20 L58.65,28.75 L57.78,30.19 L56.86,31.52 L55.87,32.72 L54.84,33.81 L53.77,34.75 L52.65,35.57 L51.51,36.24 L50.34,36.78 L49.15,37.16 L47.95,37.41 L46.75,37.50" fill="none" stroke="#26272a" stroke-width="8.4" stroke-linecap="round" stroke-linejoin="round"/>
<path d="M38.68,-27.49 L40.25,-27.35 L41.82,-27.07 L43.37,-26.64 L44.90,-26.07 L46.40,-25.36 L47.87,-24.51 L49.30,-23.52 L50.69,-22.41 L52.02,-21.17 L53.30,-19.81 L54.52,-18.33 L55.68,-16.76 L56.76,-15.08 L57.77,-13.31 L58.70,-11.45 L59.55,-9.53 L60.32,-7.53 L61.00,-5.48 L61.59,-3.38 L62.09,-1.24 L62.49,0.92 L62.81,3.11 L63.02,5.30 L63.15,7.49 L63.18,9.67 L63.11,11.83 L62.96,13.96 L62.71,16.05 L62.37,18.08 L61.95,20.06 L61.44,21.97 L60.86,23.80 L60.19,25.55 L59.46,27.20 L58.65,28.75 L57.78,30.19 L56.86,31.52 L55.87,32.72 L54.84,33.81 L53.77,34.75 L52.65,35.57 L51.51,36.24 L50.34,36.78 L49.15,37.16 L47.95,37.41 L46.75,37.50" fill="none" stroke="#4a4c50" stroke-width="6.6000000000000005" stroke-linecap="round" stroke-linejoin="round"/>
<path d="M38.68,-27.49 L40.25,-27.35 L41.82,-27.07 L43.37,-26.64 L44.90,-26.07 L46.40,-25.36 L47.87,-24.51 L49.30,-23.52 L50.69,-22.41 L52.02,-21.17 L53.30,-19.81 L54.52,-18.33 L55.68,-16.76 L56.76,-15.08 L57.77,-13.31 L58.70,-11.45 L59.55,-9.53 L60.32,-7.53 L61.00,-5.48 L61.59,-3.38 L62.09,-1.24 L62.49,0.92 L62.81,3.11 L63.02,5.30 L63.15,7.49 L63.18,9.67 L63.11,11.83 L62.96,13.96 L62.71,16.05 L62.37,18.08 L61.95,20.06 L61.44,21.97 L60.86,23.80 L60.19,25.55 L59.46,27.20 L58.65,28.75 L57.78,30.19 L56.86,31.52 L55.87,32.72 L54.84,33.81 L53.77,34.75 L52.65,35.57 L51.51,36.24 L50.34,36.78 L49.15,37.16 L47.95,37.41 L46.75,37.50" fill="none" stroke="#5a5c60" stroke-width="2.22" stroke-linecap="round" stroke-linejoin="round"/>
<path d="M56.41,-25.44 L57.98,-25.24 L59.54,-24.89 L61.08,-24.39 L62.60,-23.76 L64.09,-22.98 L65.54,-22.06 L66.95,-21.02 L68.32,-19.84 L69.63,-18.55 L70.88,-17.13 L72.07,-15.61 L73.19,-13.99 L74.24,-12.26 L75.21,-10.45 L76.11,-8.57 L76.92,-6.61 L77.65,-4.58 L78.29,-2.51 L78.83,-0.39 L79.29,1.76 L79.65,3.94 L79.92,6.13 L80.09,8.32 L80.17,10.51 L80.16,12.68 L80.05,14.83 L79.85,16.94 L79.56,19.00 L79.19,21.01 L78.73,22.96 L78.18,24.83 L77.56,26.63 L76.86,28.33 L76.09,29.93 L75.26,31.43 L74.36,32.82 L73.40,34.10 L72.40,35.24 L71.35,36.26 L70.25,37.15 L69.13,37.90 L67.97,38.51 L66.79,38.97 L65.60,39.29 L64.39,39.47 L63.18,39.49" fill="none" stroke="#26272a" stroke-width="8.4" stroke-linecap="round" stroke-linejoin="round"/>
<path d="M56.41,-25.44 L57.98,-25.24 L59.54,-24.89 L61.08,-24.39 L62.60,-23.76 L64.09,-22.98 L65.54,-22.06 L66.95,-21.02 L68.32,-19.84 L69.63,-18.55 L70.88,-17.13 L72.07,-15.61 L73.19,-13.99 L74.24,-12.26 L75.21,-10.45 L76.11,-8.57 L76.92,-6.61 L77.65,-4.58 L78.29,-2.51 L78.83,-0.39 L79.29,1.76 L79.65,3.94 L79.92,6.13 L80.09,8.32 L80.17,10.51 L80.16,12.68 L80.05,14.83 L79.85,16.94 L79.56,19.00 L79.19,21.01 L78.73,22.96 L78.18,24.83 L77.56,26.63 L76.86,28.33 L76.09,29.93 L75.26,31.43 L74.36,32.82 L73.40,34.10 L72.40,35.24 L71.35,36.26 L70.25,37.15 L69.13,37.90 L67.97,38.51 L66.79,38.97 L65.60,39.29 L64.39,39.47 L63.18,39.49" fill="none" stroke="#4a4c50" stroke-width="6.6000000000000005" stroke-linecap="round" stroke-linejoin="round"/>
<path d="M56.41,-25.44 L57.98,-25.24 L59.54,-24.89 L61.08,-24.39 L62.60,-23.76 L64.09,-22.98 L65.54,-22.06 L66.95,-21.02 L68.32,-19.84 L69.63,-18.55 L70.88,-17.13 L72.07,-15.61 L73.19,-13.99 L74.24,-12.26 L75.21,-10.45 L76.11,-8.57 L76.92,-6.61 L77.65,-4.58 L78.29,-2.51 L78.83,-0.39 L79.29,1.76 L79.65,3.94 L79.92,6.13 L80.09,8.32 L80.17,10.51 L80.16,12.68 L80.05,14.83 L79.85,16.94 L79.56,19.00 L79.19,21.01 L78.73,22.96 L78.18,24.83 L77.56,26.63 L76.86,28.33 L76.09,29.93 L75.26,31.43 L74.36,32.82 L73.40,34.10 L72.40,35.24 L71.35,36.26 L70.25,37.15 L69.13,37.90 L67.97,38.51 L66.79,38.97 L65.60,39.29 L64.39,39.47 L63.18,39.49" fill="none" stroke="#5a5c60" stroke-width="2.22" stroke-linecap="round" stroke-linejoin="round"/>
<path d="M72.57,-23.49 L74.14,-23.37 L75.71,-23.10 L77.26,-22.68 L78.79,-22.12 L80.30,-21.41 L81.77,-20.57 L83.20,-19.59 L84.59,-18.49 L85.93,-17.26 L87.22,-15.90 L88.44,-14.44 L89.60,-12.87 L90.69,-11.20 L91.70,-9.43 L92.64,-7.58 L93.50,-5.66 L94.27,-3.67 L94.96,-1.62 L95.55,0.47 L96.06,2.61 L96.47,4.77 L96.79,6.96 L97.01,9.15 L97.14,11.34 L97.18,13.52 L97.12,15.69 L96.97,17.82 L96.73,19.91 L96.40,21.95 L95.98,23.93 L95.48,25.84 L94.90,27.68 L94.24,29.43 L93.51,31.09 L92.71,32.65 L91.85,34.10 L90.92,35.43 L89.94,36.65 L88.91,37.74 L87.84,38.69 L86.73,39.52 L85.59,40.20 L84.42,40.74 L83.24,41.14 L82.04,41.39 L80.83,41.50 L79.62,41.46" fill="none" stroke="#26272a" stroke-width="8.4" stroke-linecap="round" stroke-linejoin="round"/>
<path d="M72.57,-23.49 L74.14,-23.37 L75.71,-23.10 L77.26,-22.68 L78.79,-22.12 L80.30,-21.41 L81.77,-20.57 L83.20,-19.59 L84.59,-18.49 L85.93,-17.26 L87.22,-15.90 L88.44,-14.44 L89.60,-12.87 L90.69,-11.20 L91.70,-9.43 L92.64,-7.58 L93.50,-5.66 L94.27,-3.67 L94.96,-1.62 L95.55,0.47 L96.06,2.61 L96.47,4.77 L96.79,6.96 L97.01,9.15 L97.14,11.34 L97.18,13.52 L97.12,15.69 L96.97,17.82 L96.73,19.91 L96.40,21.95 L95.98,23.93 L95.48,25.84 L94.90,27.68 L94.24,29.43 L93.51,31.09 L92.71,32.65 L91.85,34.10 L90.92,35.43 L89.94,36.65 L88.91,37.74 L87.84,38.69 L86.73,39.52 L85.59,40.20 L84.42,40.74 L83.24,41.14 L82.04,41.39 L80.83,41.50 L79.62,41.46" fill="none" stroke="#4a4c50" stroke-width="6.6000000000000005" stroke-linecap="round" stroke-linejoin="round"/>
<path d="M72.57,-23.49 L74.14,-23.37 L75.71,-23.10 L77.26,-22.68 L78.79,-22.12 L80.30,-21.41 L81.77,-20.57 L83.20,-19.59 L84.59,-18.49 L85.93,-17.26 L87.22,-15.90 L88.44,-14.44 L89.60,-12.87 L90.69,-11.20 L91.70,-9.43 L92.64,-7.58 L93.50,-5.66 L94.27,-3.67 L94.96,-1.62 L95.55,0.47 L96.06,2.61 L96.47,4.77 L96.79,6.96 L97.01,9.15 L97.14,11.34 L97.18,13.52 L97.12,15.69 L96.97,17.82 L96.73,19.91 L96.40,21.95 L95.98,23.93 L95.48,25.84 L94.90,27.68 L94.24,29.43 L93.51,31.09 L92.71,32.65 L91.85,34.10 L90.92,35.43 L89.94,36.65 L88.91,37.74 L87.84,38.69 L86.73,39.52 L85.59,40.20 L84.42,40.74 L83.24,41.14 L82.04,41.39 L80.83,41.50 L79.62,41.46" fill="none" stroke="#5a5c60" stroke-width="2.22" stroke-linecap="round" stroke-linejoin="round"/>
<path d="M90.30,-21.45 L91.87,-21.26 L93.43,-20.92 L94.98,-20.43 L96.50,-19.81 L97.99,-19.04 L99.44,-18.13 L100.86,-17.09 L102.22,-15.93 L103.54,-14.64 L104.79,-13.24 L105.99,-11.72 L107.12,-10.10 L108.17,-8.38 L109.15,-6.58 L110.05,-4.70 L110.87,-2.74 L111.60,-0.72 L112.24,1.35 L112.80,3.46 L113.26,5.61 L113.63,7.79 L113.90,9.98 L114.08,12.17 L114.17,14.36 L114.16,16.53 L114.06,18.68 L113.87,20.80 L113.59,22.86 L113.22,24.88 L112.76,26.83 L112.22,28.71 L111.60,30.51 L110.91,32.21 L110.15,33.83 L109.32,35.33 L108.42,36.73 L107.47,38.01 L106.47,39.17 L105.42,40.20 L104.33,41.09 L103.20,41.85 L102.05,42.47 L100.87,42.95 L99.68,43.28 L98.47,43.46 L97.27,43.50" fill="none" stroke="#26272a" stroke-width="8.4" stroke-linecap="round" stroke-linejoin="round"/>
<path d="M90.30,-21.45 L91.87,-21.26 L93.43,-20.92 L94.98,-20.43 L96.50,-19.81 L97.99,-19.04 L99.44,-18.13 L100.86,-17.09 L102.22,-15.93 L103.54,-14.64 L104.79,-13.24 L105.99,-11.72 L107.12,-10.10 L108.17,-8.38 L109.15,-6.58 L110.05,-4.70 L110.87,-2.74 L111.60,-0.72 L112.24,1.35 L112.80,3.46 L113.26,5.61 L113.63,7.79 L113.90,9.98 L114.08,12.17 L114.17,14.36 L114.16,16.53 L114.06,18.68 L113.87,20.80 L113.59,22.86 L113.22,24.88 L112.76,26.83 L112.22,28.71 L111.60,30.51 L110.91,32.21 L110.15,33.83 L109.32,35.33 L108.42,36.73 L107.47,38.01 L106.47,39.17 L105.42,40.20 L104.33,41.09 L103.20,41.85 L102.05,42.47 L100.87,42.95 L99.68,43.28 L98.47,43.46 L97.27,43.50" fill="none" stroke="#4a4c50" stroke-width="6.6000000000000005" stroke-linecap="round" stroke-linejoin="round"/>
<path d="M90.30,-21.45 L91.87,-21.26 L93.43,-20.92 L94.98,-20.43 L96.50,-19.81 L97.99,-19.04 L99.44,-18.13 L100.86,-17.09 L102.22,-15.93 L103.54,-14.64 L104.79,-13.24 L105.99,-11.72 L107.12,-10.10 L108.17,-8.38 L109.15,-6.58 L110.05,-4.70 L110.87,-2.74 L111.60,-0.72 L112.24,1.35 L112.80,3.46 L113.26,5.61 L113.63,7.79 L113.90,9.98 L114.08,12.17 L114.17,14.36 L114.16,16.53 L114.06,18.68 L113.87,20.80 L113.59,22.86 L113.22,24.88 L112.76,26.83 L112.22,28.71 L111.60,30.51 L110.91,32.21 L110.15,33.83 L109.32,35.33 L108.42,36.73 L107.47,38.01 L106.47,39.17 L105.42,40.20 L104.33,41.09 L103.20,41.85 L102.05,42.47 L100.87,42.95 L99.68,43.28 L98.47,43.46 L97.27,43.50" fill="none" stroke="#5a5c60" stroke-width="2.22" stroke-linecap="round" stroke-linejoin="round"/>
<path d="M106.46,-19.50 L108.03,-19.38 L109.60,-19.12 L111.15,-18.71 L112.69,-18.16 L114.20,-17.46 L115.67,-16.63 L117.11,-15.66 L118.50,-14.57 L119.84,-13.34 L121.13,-12.00 L122.36,-10.54 L123.52,-8.98 L124.62,-7.31 L125.64,-5.56 L126.58,-3.71 L127.44,-1.79 L128.22,0.19 L128.91,2.24 L129.51,4.33 L130.02,6.46 L130.44,8.62 L130.77,10.81 L131.00,13.00" fill="none" stroke="#26272a" stroke-width="8.4" stroke-linecap="round" stroke-linejoin="round"/>
<path d="M106.46,-19.50 L108.03,-19.38 L109.60,-19.12 L111.15,-18.71 L112.69,-18.16 L114.20,-17.46 L115.67,-16.63 L117.11,-15.66 L118.50,-14.57 L119.84,-13.34 L121.13,-12.00 L122.36,-10.54 L123.52,-8.98 L124.62,-7.31 L125.64,-5.56 L126.58,-3.71 L127.44,-1.79 L128.22,0.19 L128.91,2.24 L129.51,4.33 L130.02,6.46 L130.44,8.62 L130.77,10.81 L131.00,13.00" fill="none" stroke="#4a4c50" stroke-width="6.6000000000000005" stroke-linecap="round" stroke-linejoin="round"/>
<path d="M106.46,-19.50 L108.03,-19.38 L109.60,-19.12 L111.15,-18.71 L112.69,-18.16 L114.20,-17.46 L115.67,-16.63 L117.11,-15.66 L118.50,-14.57 L119.84,-13.34 L121.13,-12.00 L122.36,-10.54 L123.52,-8.98 L124.62,-7.31 L125.64,-5.56 L126.58,-3.71 L127.44,-1.79 L128.22,0.19 L128.91,2.24 L129.51,4.33 L130.02,6.46 L130.44,8.62 L130.77,10.81 L131.00,13.00" fill="none" stroke="#5a5c60" stroke-width="2.22" stroke-linecap="round" stroke-linejoin="round"/>
<line x1="4.2" y1="9" x2="122.20" y2="23.50" stroke="#c1272d" stroke-width="3.8"/>
<path d="M-20.13,-3.16 L-19.76,-5.29 L-19.29,-7.40 L-18.74,-9.47 L-18.10,-11.50 L-17.36,-13.48 L-16.54,-15.39 L-15.64,-17.23 L-14.66,-18.99 L-13.61,-20.66 L-12.48,-22.23 L-11.29,-23.71 L-10.03,-25.07 L-8.71,-26.31 L-7.35,-27.43 L-5.93,-28.43 L-4.48,-29.29 L-2.99,-30.01 L-1.47,-30.60 L0.08,-31.04 L1.64,-31.33 L3.21,-31.48 L4.78,-31.48" fill="none" stroke="#26272a" stroke-width="8.4" stroke-linecap="round" stroke-linejoin="round"/>
<path d="M-20.13,-3.16 L-19.76,-5.29 L-19.29,-7.40 L-18.74,-9.47 L-18.10,-11.50 L-17.36,-13.48 L-16.54,-15.39 L-15.64,-17.23 L-14.66,-18.99 L-13.61,-20.66 L-12.48,-22.23 L-11.29,-23.71 L-10.03,-25.07 L-8.71,-26.31 L-7.35,-27.43 L-5.93,-28.43 L-4.48,-29.29 L-2.99,-30.01 L-1.47,-30.60 L0.08,-31.04 L1.64,-31.33 L3.21,-31.48 L4.78,-31.48" fill="none" stroke="#4a4c50" stroke-width="6.6000000000000005" stroke-linecap="round" stroke-linejoin="round"/>
<path d="M-20.13,-3.16 L-19.76,-5.29 L-19.29,-7.40 L-18.74,-9.47 L-18.10,-11.50 L-17.36,-13.48 L-16.54,-15.39 L-15.64,-17.23 L-14.66,-18.99 L-13.61,-20.66 L-12.48,-22.23 L-11.29,-23.71 L-10.03,-25.07 L-8.71,-26.31 L-7.35,-27.43 L-5.93,-28.43 L-4.48,-29.29 L-2.99,-30.01 L-1.47,-30.60 L0.08,-31.04 L1.64,-31.33 L3.21,-31.48 L4.78,-31.48" fill="none" stroke="#5a5c60" stroke-width="2.22" stroke-linecap="round" stroke-linejoin="round"/>
<path d="M12.66,33.50 L11.46,33.44 L10.26,33.23 L9.07,32.87 L7.90,32.37 L6.76,31.73 L5.65,30.95 L4.58,30.03 L3.55,28.99 L2.57,27.81 L1.65,26.52 L0.78,25.11 L-0.02,23.60 L-0.75,21.98 L-1.41,20.27 L-1.99,18.48 L-2.49,16.61 L-2.90,14.67 L-3.23,12.67 L-3.47,10.63 L-3.62,8.54 L-3.68,6.42 L-3.64,4.28 L-3.51,2.13 L-3.29,-0.02 L-2.97,-2.16 L-2.55,-4.28 L-2.05,-6.37 L-1.45,-8.42 L-0.76,-10.43 L0.01,-12.37 L0.87,-14.25 L1.80,-16.06 L2.82,-17.78 L3.91,-19.41 L5.07,-20.93 L6.29,-22.35 L7.58,-23.66 L8.92,-24.85 L10.31,-25.91 L11.74,-26.84 L13.21,-27.64 L14.72,-28.30 L16.25,-28.82 L17.80,-29.19 L19.37,-29.42 L20.94,-29.50 L22.52,-29.43" fill="none" stroke="#26272a" stroke-width="8.4" stroke-linecap="round" stroke-linejoin="round"/>
<path d="M12.66,33.50 L11.46,33.44 L10.26,33.23 L9.07,32.87 L7.90,32.37 L6.76,31.73 L5.65,30.95 L4.58,30.03 L3.55,28.99 L2.57,27.81 L1.65,26.52 L0.78,25.11 L-0.02,23.60 L-0.75,21.98 L-1.41,20.27 L-1.99,18.48 L-2.49,16.61 L-2.90,14.67 L-3.23,12.67 L-3.47,10.63 L-3.62,8.54 L-3.68,6.42 L-3.64,4.28 L-3.51,2.13 L-3.29,-0.02 L-2.97,-2.16 L-2.55,-4.28 L-2.05,-6.37 L-1.45,-8.42 L-0.76,-10.43 L0.01,-12.37 L0.87,-14.25 L1.80,-16.06 L2.82,-17.78 L3.91,-19.41 L5.07,-20.93 L6.29,-22.35 L7.58,-23.66 L8.92,-24.85 L10.31,-25.91 L11.74,-26.84 L13.21,-27.64 L14.72,-28.30 L16.25,-28.82 L17.80,-29.19 L19.37,-29.42 L20.94,-29.50 L22.52,-29.43" fill="none" stroke="#4a4c50" stroke-width="6.6000000000000005" stroke-linecap="round" stroke-linejoin="round"/>
<path d="M12.66,33.50 L11.46,33.44 L10.26,33.23 L9.07,32.87 L7.90,32.37 L6.76,31.73 L5.65,30.95 L4.58,30.03 L3.55,28.99 L2.57,27.81 L1.65,26.52 L0.78,25.11 L-0.02,23.60 L-0.75,21.98 L-1.41,20.27 L-1.99,18.48 L-2.49,16.61 L-2.90,14.67 L-3.23,12.67 L-3.47,10.63 L-3.62,8.54 L-3.68,6.42 L-3.64,4.28 L-3.51,2.13 L-3.29,-0.02 L-2.97,-2.16 L-2.55,-4.28 L-2.05,-6.37 L-1.45,-8.42 L-0.76,-10.43 L0.01,-12.37 L0.87,-14.25 L1.80,-16.06 L2.82,-17.78 L3.91,-19.41 L5.07,-20.93 L6.29,-22.35 L7.58,-23.66 L8.92,-24.85 L10.31,-25.91 L11.74,-26.84 L13.21,-27.64 L14.72,-28.30 L16.25,-28.82 L17.80,-29.19 L19.37,-29.42 L20.94,-29.50 L22.52,-29.43" fill="none" stroke="#5a5c60" stroke-width="2.22" stroke-linecap="round" stroke-linejoin="round"/>
<path d="M29.10,35.49 L27.90,35.36 L26.70,35.08 L25.52,34.66 L24.37,34.09 L23.24,33.38 L22.15,32.54 L21.09,31.56 L20.09,30.46 L19.13,29.23 L18.24,27.88 L17.40,26.42 L16.63,24.86 L15.94,23.20 L15.31,21.45 L14.77,19.62 L14.31,17.71 L13.93,15.75 L13.65,13.73 L13.45,11.66 L13.34,9.55 L13.33,7.43 L13.41,5.28 L13.58,3.13 L13.85,0.98 L14.21,-1.15 L14.67,-3.26 L15.22,-5.33 L15.86,-7.36 L16.58,-9.34 L17.40,-11.26 L18.29,-13.10 L19.27,-14.87 L20.32,-16.55 L21.44,-18.13 L22.63,-19.61 L23.88,-20.98 L25.19,-22.23 L26.56,-23.36 L27.97,-24.36 L29.42,-25.23 L30.91,-25.97 L32.43,-26.56 L33.97,-27.01 L35.53,-27.32 L37.10,-27.48 L38.68,-27.49" fill="none" stroke="#26272a" stroke-width="8.4" stroke-linecap="round" stroke-linejoin="round"/>
<path d="M29.10,35.49 L27.90,35.36 L26.70,35.08 L25.52,34.66 L24.37,34.09 L23.24,33.38 L22.15,32.54 L21.09,31.56 L20.09,30.46 L19.13,29.23 L18.24,27.88 L17.40,26.42 L16.63,24.86 L15.94,23.20 L15.31,21.45 L14.77,19.62 L14.31,17.71 L13.93,15.75 L13.65,13.73 L13.45,11.66 L13.34,9.55 L13.33,7.43 L13.41,5.28 L13.58,3.13 L13.85,0.98 L14.21,-1.15 L14.67,-3.26 L15.22,-5.33 L15.86,-7.36 L16.58,-9.34 L17.40,-11.26 L18.29,-13.10 L19.27,-14.87 L20.32,-16.55 L21.44,-18.13 L22.63,-19.61 L23.88,-20.98 L25.19,-22.23 L26.56,-23.36 L27.97,-24.36 L29.42,-25.23 L30.91,-25.97 L32.43,-26.56 L33.97,-27.01 L35.53,-27.32 L37.10,-27.48 L38.68,-27.49" fill="none" stroke="#4a4c50" stroke-width="6.6000000000000005" stroke-linecap="round" stroke-linejoin="round"/>
<path d="M29.10,35.49 L27.90,35.36 L26.70,35.08 L25.52,34.66 L24.37,34.09 L23.24,33.38 L22.15,32.54 L21.09,31.56 L20.09,30.46 L19.13,29.23 L18.24,27.88 L17.40,26.42 L16.63,24.86 L15.94,23.20 L15.31,21.45 L14.77,19.62 L14.31,17.71 L13.93,15.75 L13.65,13.73 L13.45,11.66 L13.34,9.55 L13.33,7.43 L13.41,5.28 L13.58,3.13 L13.85,0.98 L14.21,-1.15 L14.67,-3.26 L15.22,-5.33 L15.86,-7.36 L16.58,-9.34 L17.40,-11.26 L18.29,-13.10 L19.27,-14.87 L20.32,-16.55 L21.44,-18.13 L22.63,-19.61 L23.88,-20.98 L25.19,-22.23 L26.56,-23.36 L27.97,-24.36 L29.42,-25.23 L30.91,-25.97 L32.43,-26.56 L33.97,-27.01 L35.53,-27.32 L37.10,-27.48 L38.68,-27.49" fill="none" stroke="#5a5c60" stroke-width="2.22" stroke-linecap="round" stroke-linejoin="round"/>
<path d="M46.75,37.50 L45.54,37.45 L44.34,37.25 L43.15,36.90 L41.98,36.41 L40.84,35.78 L39.73,35.01 L38.65,34.10 L37.62,33.06 L36.64,31.90 L35.71,30.61 L34.84,29.21 L34.04,27.71 L33.30,26.10 L32.64,24.39 L32.05,22.61 L31.55,20.74 L31.12,18.81 L30.79,16.81 L30.54,14.77 L30.39,12.68 L30.32,10.57 L30.35,8.43 L30.48,6.28 L30.70,4.13 L31.01,1.99 L31.42,-0.13 L31.91,-2.23 L32.51,-4.28 L33.19,-6.29 L33.95,-8.24 L34.80,-10.13 L35.74,-11.94 L36.75,-13.66 L37.83,-15.30 L38.99,-16.83 L40.21,-18.26 L41.49,-19.58 L42.82,-20.77 L44.21,-21.84 L45.64,-22.78 L47.11,-23.59 L48.61,-24.26 L50.14,-24.79 L51.70,-25.17 L53.26,-25.41 L54.83,-25.50 L56.41,-25.44" fill="none" stroke="#26272a" stroke-width="8.4" stroke-linecap="round" stroke-linejoin="round"/>
<path d="M46.75,37.50 L45.54,37.45 L44.34,37.25 L43.15,36.90 L41.98,36.41 L40.84,35.78 L39.73,35.01 L38.65,34.10 L37.62,33.06 L36.64,31.90 L35.71,30.61 L34.84,29.21 L34.04,27.71 L33.30,26.10 L32.64,24.39 L32.05,22.61 L31.55,20.74 L31.12,18.81 L30.79,16.81 L30.54,14.77 L30.39,12.68 L30.32,10.57 L30.35,8.43 L30.48,6.28 L30.70,4.13 L31.01,1.99 L31.42,-0.13 L31.91,-2.23 L32.51,-4.28 L33.19,-6.29 L33.95,-8.24 L34.80,-10.13 L35.74,-11.94 L36.75,-13.66 L37.83,-15.30 L38.99,-16.83 L40.21,-18.26 L41.49,-19.58 L42.82,-20.77 L44.21,-21.84 L45.64,-22.78 L47.11,-23.59 L48.61,-24.26 L50.14,-24.79 L51.70,-25.17 L53.26,-25.41 L54.83,-25.50 L56.41,-25.44" fill="none" stroke="#4a4c50" stroke-width="6.6000000000000005" stroke-linecap="round" stroke-linejoin="round"/>
<path d="M46.75,37.50 L45.54,37.45 L44.34,37.25 L43.15,36.90 L41.98,36.41 L40.84,35.78 L39.73,35.01 L38.65,34.10 L37.62,33.06 L36.64,31.90 L35.71,30.61 L34.84,29.21 L34.04,27.71 L33.30,26.10 L32.64,24.39 L32.05,22.61 L31.55,20.74 L31.12,18.81 L30.79,16.81 L30.54,14.77 L30.39,12.68 L30.32,10.57 L30.35,8.43 L30.48,6.28 L30.70,4.13 L31.01,1.99 L31.42,-0.13 L31.91,-2.23 L32.51,-4.28 L33.19,-6.29 L33.95,-8.24 L34.80,-10.13 L35.74,-11.94 L36.75,-13.66 L37.83,-15.30 L38.99,-16.83 L40.21,-18.26 L41.49,-19.58 L42.82,-20.77 L44.21,-21.84 L45.64,-22.78 L47.11,-23.59 L48.61,-24.26 L50.14,-24.79 L51.70,-25.17 L53.26,-25.41 L54.83,-25.50 L56.41,-25.44" fill="none" stroke="#5a5c60" stroke-width="2.22" stroke-linecap="round" stroke-linejoin="round"/>
<path d="M63.18,39.49 L61.98,39.37 L60.78,39.10 L59.60,38.69 L58.45,38.13 L57.32,37.44 L56.22,36.60 L55.17,35.63 L54.16,34.54 L53.20,33.31 L52.30,31.98 L51.46,30.52 L50.68,28.97 L49.98,27.32 L49.35,25.57 L48.81,23.75 L48.34,21.85 L47.96,19.88 L47.66,17.87 L47.46,15.80 L47.35,13.70 L47.33,11.57 L47.40,9.43 L47.57,7.28 L47.83,5.13 L48.19,3.00 L48.64,0.89 L49.18,-1.19 L49.81,-3.23 L50.53,-5.21 L51.34,-7.13 L52.23,-8.98 L53.20,-10.75 L54.24,-12.44 L55.36,-14.02 L56.55,-15.51 L57.80,-16.89 L59.10,-18.15 L60.46,-19.29 L61.87,-20.30 L63.32,-21.18 L64.81,-21.92 L66.32,-22.52 L67.86,-22.98 L69.42,-23.30 L70.99,-23.47 L72.57,-23.49" fill="none" stroke="#26272a" stroke-width="8.4" stroke-linecap="round" stroke-linejoin="round"/>
<path d="M63.18,39.49 L61.98,39.37 L60.78,39.10 L59.60,38.69 L58.45,38.13 L57.32,37.44 L56.22,36.60 L55.17,35.63 L54.16,34.54 L53.20,33.31 L52.30,31.98 L51.46,30.52 L50.68,28.97 L49.98,27.32 L49.35,25.57 L48.81,23.75 L48.34,21.85 L47.96,19.88 L47.66,17.87 L47.46,15.80 L47.35,13.70 L47.33,11.57 L47.40,9.43 L47.57,7.28 L47.83,5.13 L48.19,3.00 L48.64,0.89 L49.18,-1.19 L49.81,-3.23 L50.53,-5.21 L51.34,-7.13 L52.23,-8.98 L53.20,-10.75 L54.24,-12.44 L55.36,-14.02 L56.55,-15.51 L57.80,-16.89 L59.10,-18.15 L60.46,-19.29 L61.87,-20.30 L63.32,-21.18 L64.81,-21.92 L66.32,-22.52 L67.86,-22.98 L69.42,-23.30 L70.99,-23.47 L72.57,-23.49" fill="none" stroke="#4a4c50" stroke-width="6.6000000000000005" stroke-linecap="round" stroke-linejoin="round"/>
<path d="M63.18,39.49 L61.98,39.37 L60.78,39.10 L59.60,38.69 L58.45,38.13 L57.32,37.44 L56.22,36.60 L55.17,35.63 L54.16,34.54 L53.20,33.31 L52.30,31.98 L51.46,30.52 L50.68,28.97 L49.98,27.32 L49.35,25.57 L48.81,23.75 L48.34,21.85 L47.96,19.88 L47.66,17.87 L47.46,15.80 L47.35,13.70 L47.33,11.57 L47.40,9.43 L47.57,7.28 L47.83,5.13 L48.19,3.00 L48.64,0.89 L49.18,-1.19 L49.81,-3.23 L50.53,-5.21 L51.34,-7.13 L52.23,-8.98 L53.20,-10.75 L54.24,-12.44 L55.36,-14.02 L56.55,-15.51 L57.80,-16.89 L59.10,-18.15 L60.46,-19.29 L61.87,-20.30 L63.32,-21.18 L64.81,-21.92 L66.32,-22.52 L67.86,-22.98 L69.42,-23.30 L70.99,-23.47 L72.57,-23.49" fill="none" stroke="#5a5c60" stroke-width="2.22" stroke-linecap="round" stroke-linejoin="round"/>
<path d="M79.62,41.46 L78.42,41.27 L77.23,40.93 L76.06,40.45 L74.92,39.83 L73.80,39.06 L72.72,38.17 L71.69,37.14 L70.70,35.98 L69.77,34.71 L68.90,33.31 L68.09,31.81 L67.35,30.21 L66.68,28.51 L66.09,26.73 L65.58,24.87 L65.15,22.94 L64.81,20.95 L64.56,18.91 L64.39,16.83 L64.32,14.71 L64.35,12.58 L64.47,10.43 L64.68,8.28 L64.98,6.13 L65.38,4.01 L65.88,1.91 L66.46,-0.15 L67.14,-2.16 L67.90,-4.11 L68.74,-6.00 L69.67,-7.82 L70.68,-9.55 L71.76,-11.19 L72.91,-12.73 L74.12,-14.17 L75.40,-15.49 L76.73,-16.69 L78.11,-17.77 L79.54,-18.72 L81.01,-19.54 L82.51,-20.22 L84.04,-20.76 L85.59,-21.15 L87.15,-21.40 L88.73,-21.50 L90.30,-21.45" fill="none" stroke="#26272a" stroke-width="8.4" stroke-linecap="round" stroke-linejoin="round"/>
<path d="M79.62,41.46 L78.42,41.27 L77.23,40.93 L76.06,40.45 L74.92,39.83 L73.80,39.06 L72.72,38.17 L71.69,37.14 L70.70,35.98 L69.77,34.71 L68.90,33.31 L68.09,31.81 L67.35,30.21 L66.68,28.51 L66.09,26.73 L65.58,24.87 L65.15,22.94 L64.81,20.95 L64.56,18.91 L64.39,16.83 L64.32,14.71 L64.35,12.58 L64.47,10.43 L64.68,8.28 L64.98,6.13 L65.38,4.01 L65.88,1.91 L66.46,-0.15 L67.14,-2.16 L67.90,-4.11 L68.74,-6.00 L69.67,-7.82 L70.68,-9.55 L71.76,-11.19 L72.91,-12.73 L74.12,-14.17 L75.40,-15.49 L76.73,-16.69 L78.11,-17.77 L79.54,-18.72 L81.01,-19.54 L82.51,-20.22 L84.04,-20.76 L85.59,-21.15 L87.15,-21.40 L88.73,-21.50 L90.30,-21.45" fill="none" stroke="#4a4c50" stroke-width="6.6000000000000005" stroke-linecap="round" stroke-linejoin="round"/>
<path d="M79.62,41.46 L78.42,41.27 L77.23,40.93 L76.06,40.45 L74.92,39.83 L73.80,39.06 L72.72,38.17 L71.69,37.14 L70.70,35.98 L69.77,34.71 L68.90,33.31 L68.09,31.81 L67.35,30.21 L66.68,28.51 L66.09,26.73 L65.58,24.87 L65.15,22.94 L64.81,20.95 L64.56,18.91 L64.39,16.83 L64.32,14.71 L64.35,12.58 L64.47,10.43 L64.68,8.28 L64.98,6.13 L65.38,4.01 L65.88,1.91 L66.46,-0.15 L67.14,-2.16 L67.90,-4.11 L68.74,-6.00 L69.67,-7.82 L70.68,-9.55 L71.76,-11.19 L72.91,-12.73 L74.12,-14.17 L75.40,-15.49 L76.73,-16.69 L78.11,-17.77 L79.54,-18.72 L81.01,-19.54 L82.51,-20.22 L84.04,-20.76 L85.59,-21.15 L87.15,-21.40 L88.73,-21.50 L90.30,-21.45" fill="none" stroke="#5a5c60" stroke-width="2.22" stroke-linecap="round" stroke-linejoin="round"/>
<path d="M97.27,43.50 L96.06,43.39 L94.86,43.13 L93.68,42.72 L92.52,42.18 L91.39,41.49 L90.29,40.66 L89.24,39.70 L88.22,38.62 L87.26,37.40 L86.36,36.07 L85.51,34.63 L84.74,33.08 L84.03,31.43 L83.40,29.69 L82.84,27.87 L82.37,25.98 L81.98,24.02 L81.68,22.01 L81.47,19.94 L81.35,17.84 L81.32,15.72 L81.39,13.58 L81.55,11.43 L81.81,9.28 L82.16,7.14 L82.60,5.03 L83.14,2.95 L83.76,0.91 L84.48,-1.07 L85.28,-3.00 L86.16,-4.86 L87.13,-6.63 L88.17,-8.32 L89.28,-9.92 L90.46,-11.41 L91.71,-12.80 L93.01,-14.07 L94.37,-15.21 L95.77,-16.23 L97.22,-17.12 L98.70,-17.87 L100.22,-18.49 L101.76,-18.96 L103.32,-19.28 L104.89,-19.46 L106.46,-19.50" fill="none" stroke="#26272a" stroke-width="8.4" stroke-linecap="round" stroke-linejoin="round"/>
<path d="M97.27,43.50 L96.06,43.39 L94.86,43.13 L93.68,42.72 L92.52,42.18 L91.39,41.49 L90.29,40.66 L89.24,39.70 L88.22,38.62 L87.26,37.40 L86.36,36.07 L85.51,34.63 L84.74,33.08 L84.03,31.43 L83.40,29.69 L82.84,27.87 L82.37,25.98 L81.98,24.02 L81.68,22.01 L81.47,19.94 L81.35,17.84 L81.32,15.72 L81.39,13.58 L81.55,11.43 L81.81,9.28 L82.16,7.14 L82.60,5.03 L83.14,2.95 L83.76,0.91 L84.48,-1.07 L85.28,-3.00 L86.16,-4.86 L87.13,-6.63 L88.17,-8.32 L89.28,-9.92 L90.46,-11.41 L91.71,-12.80 L93.01,-14.07 L94.37,-15.21 L95.77,-16.23 L97.22,-17.12 L98.70,-17.87 L100.22,-18.49 L101.76,-18.96 L103.32,-19.28 L104.89,-19.46 L106.46,-19.50" fill="none" stroke="#4a4c50" stroke-width="6.6000000000000005" stroke-linecap="round" stroke-linejoin="round"/>
<path d="M97.27,43.50 L96.06,43.39 L94.86,43.13 L93.68,42.72 L92.52,42.18 L91.39,41.49 L90.29,40.66 L89.24,39.70 L88.22,38.62 L87.26,37.40 L86.36,36.07 L85.51,34.63 L84.74,33.08 L84.03,31.43 L83.40,29.69 L82.84,27.87 L82.37,25.98 L81.98,24.02 L81.68,22.01 L81.47,19.94 L81.35,17.84 L81.32,15.72 L81.39,13.58 L81.55,11.43 L81.81,9.28 L82.16,7.14 L82.60,5.03 L83.14,2.95 L83.76,0.91 L84.48,-1.07 L85.28,-3.00 L86.16,-4.86 L87.13,-6.63 L88.17,-8.32 L89.28,-9.92 L90.46,-11.41 L91.71,-12.80 L93.01,-14.07 L94.37,-15.21 L95.77,-16.23 L97.22,-17.12 L98.70,-17.87 L100.22,-18.49 L101.76,-18.96 L103.32,-19.28 L104.89,-19.46 L106.46,-19.50" fill="none" stroke="#5a5c60" stroke-width="2.22" stroke-linecap="round" stroke-linejoin="round"/>
<polygon points="134.10,25.10 118.43,29.61 123.68,23.81 120.00,16.90" fill="#c1272d"/>
</g>
<ellipse cx="580.2" cy="268.2" rx="14.4" ry="51.3" transform="rotate(10 580.2 268.2)" fill="#aaa685" stroke="#555a60" stroke-width="1.6"/>
<polygon points="609.5,247.4 639.2,233.8 623.9,312.8 592.5,328.9" fill="#a39fa6" stroke="#5a5e63" stroke-width="1.6" stroke-linejoin="round"/>
<polygon points="642.6,251.6 673.2,236.8 656.2,318.7 627.3,331" fill="#b5b8bf" stroke="#666a70" stroke-width="1.6" stroke-linejoin="round"/>
<text x="5.00" y="52.70" font-family="Liberation Sans" font-size="67" fill="#000" stroke="#000" stroke-width="0.45" textLength="43.11" lengthAdjust="spacingAndGlyphs" >A</text>
<text x="77.21" y="77.90" font-family="Liberation Sans" font-size="42" fill="#000" stroke="#000" stroke-width="0.45" textLength="76.65" lengthAdjust="spacingAndGlyphs" >spin</text>
<text x="147.36" y="34.90" font-family="Liberation Sans" font-size="42" fill="#000" stroke="#000" stroke-width="0.45" textLength="206.68" lengthAdjust="spacingAndGlyphs" >precession</text>
<text x="226.10" y="87.80" font-family="Liberation Sans" font-size="42" fill="#000" stroke="#000" stroke-width="0.45" textLength="62.93" lengthAdjust="spacingAndGlyphs" >coil</text>
<text x="412.65" y="110.70" font-family="Liberation Sans" font-size="42" fill="#000" stroke="#000" stroke-width="0.45" textLength="207.70" lengthAdjust="spacingAndGlyphs" >precession</text>
<text x="491.09" y="163.60" font-family="Liberation Sans" font-size="42" fill="#000" stroke="#000" stroke-width="0.45" textLength="63.98" lengthAdjust="spacingAndGlyphs" >coil</text>
<text x="8.40" y="218.90" font-family="Liberation Serif" font-size="44" fill="#000" stroke="#000" stroke-width="0.6" textLength="19.69" lengthAdjust="spacingAndGlyphs" transform="matrix(1,0,-0.1228,1,26.881,0)">π</text>
<text x="31.00" y="218.90" font-family="Liberation Sans" font-size="42" fill="#000" stroke="#000" stroke-width="0.45" textLength="36.20" lengthAdjust="spacingAndGlyphs" >/2</text>
<text x="80.20" y="218.90" font-family="Liberation Sans" font-size="42" fill="#000" stroke="#000" stroke-width="0.45" textLength="118.82" lengthAdjust="spacingAndGlyphs" >flipper</text>
<text x="229.30" y="235.70" font-family="Liberation Serif" font-size="44" fill="#000" stroke="#000" stroke-width="0.6" textLength="19.19" lengthAdjust="spacingAndGlyphs" transform="matrix(1,0,-0.1228,1,28.944,0)">π</text>
<text x="265.00" y="235.60" font-family="Liberation Sans" font-size="42" fill="#000" stroke="#000" stroke-width="0.45" textLength="118.02" lengthAdjust="spacingAndGlyphs" >flipper</text>
<text x="362.20" y="316.40" font-family="Liberation Serif" font-size="44" fill="#000" stroke="#000" stroke-width="0.6" textLength="19.29" lengthAdjust="spacingAndGlyphs" transform="matrix(1,0,-0.1228,1,38.854,0)">π</text>
<text x="386.00" y="316.20" font-family="Liberation Sans" font-size="42" fill="#000" stroke="#000" stroke-width="0.45" textLength="34.08" lengthAdjust="spacingAndGlyphs" >/2</text>
<text x="434.00" y="315.80" font-family="Liberation Sans" font-size="42" fill="#000" stroke="#000" stroke-width="0.45" textLength="118.22" lengthAdjust="spacingAndGlyphs" >flipper</text>
<text x="507.77" y="357.50" font-family="Liberation Sans" font-size="42" fill="#000" stroke="#000" stroke-width="0.45" textLength="156.32" lengthAdjust="spacingAndGlyphs" >detector</text>
<text x="688.17" y="52.60" font-family="Liberation Sans" font-size="66" fill="#000" stroke="#000" stroke-width="0.45" textLength="44.28" lengthAdjust="spacingAndGlyphs" >B</text>
<rect x="811" y="27.3" width="440.6" height="620" fill="none" stroke="#7a7a7a" stroke-width="1.1"/>
<clipPath id="bclip"><rect x="812" y="25.5" width="430" height="621"/></clipPath>
<g clip-path="url(#bclip)">
<path d="M812.0,54.4 L813.0,54.8 L814.0,55.3 L815.0,55.7 L816.0,56.1 L817.0,56.5 L818.0,56.8 L819.0,57.2 L820.0,57.6 L821.0,58.0 L822.0,58.4 L823.0,58.7 L824.0,59.1 L825.0,59.4 L826.0,59.8 L827.0,60.1 L828.0,60.5 L829.0,60.8 L830.0,61.2 L831.0,61.5 L832.0,61.8 L833.0,62.1 L834.0,62.4 L835.0,62.8 L836.0,63.1 L837.0,63.4 L838.0,63.7 L839.0,64.0 L840.0,64.3 L841.0,64.5 L842.0,64.8 L843.0,65.1 L844.0,65.4 L845.0,65.7 L846.0,65.9 L847.0,66.2 L848.0,66.4 L849.0,66.7 L850.0,67.0 L851.0,67.2 L852.0,67.4 L853.0,67.7 L854.0,67.9 L855.0,68.2 L856.0,68.4 L857.0,68.6 L858.0,68.8 L859.0,69.1 L860.0,69.3 L861.0,69.5 L862.0,69.7 L863.0,69.9 L864.0,70.1 L865.0,70.3 L866.0,70.5 L867.0,70.7 L868.0,70.9 L869.0,71.1 L870.0,71.3 L871.0,71.4 L872.0,71.6 L873.0,71.8 L874.0,72.0 L875.0,72.1 L876.0,72.3 L877.0,72.5 L878.0,72.6 L879.0,72.8 L880.0,72.9 L881.0,73.1 L882.0,73.2 L883.0,73.4 L884.0,73.5 L885.0,73.7 L886.0,73.8 L887.0,74.0 L888.0,74.1 L889.0,74.2 L890.0,74.3 L891.0,74.5 L892.0,74.6 L893.0,74.7 L894.0,74.8 L895.0,75.0 L896.0,75.1 L897.0,75.2 L898.0,75.3 L899.0,75.4 L900.0,75.5 L901.0,75.6 L902.0,75.7 L903.0,75.8 L904.0,75.9 L905.0,76.0 L906.0,76.1 L907.0,76.2 L908.0,76.3 L909.0,76.4 L910.0,76.5 L911.0,76.6 L912.0,76.7 L913.0,76.7 L914.0,76.8 L915.0,76.9 L916.0,77.0 L917.0,77.1 L918.0,77.1 L919.0,77.2 L920.0,77.3 L921.0,77.3 L922.0,77.4 L923.0,77.5 L924.0,77.6 L925.0,77.6 L926.0,77.7 L927.0,77.8 L928.0,77.8 L929.0,77.9 L930.0,77.9 L931.0,78.0 L932.0,78.1 L933.0,78.1 L934.0,78.2 L935.0,78.2 L936.0,78.3 L937.0,78.3 L938.0,78.4 L939.0,78.4 L940.0,78.5 L941.0,78.5 L942.0,78.6 L943.0,78.6 L944.0,78.7 L945.0,78.7 L946.0,78.8 L947.0,78.8 L948.0,78.9 L949.0,78.9 L950.0,79.0 L951.0,79.0 L952.0,79.1 L953.0,79.1 L954.0,79.2 L955.0,79.2 L956.0,79.3 L957.0,79.3 L958.0,79.3 L959.0,79.4 L960.0,79.4 L961.0,79.5 L962.0,79.5 L963.0,79.6 L964.0,79.6 L965.0,79.7 L966.0,79.7 L967.0,79.8 L968.0,79.8 L969.0,79.8 L970.0,79.9 L971.0,79.9 L972.0,80.0 L973.0,80.0 L974.0,80.1 L975.0,80.1 L976.0,80.2 L977.0,80.3 L978.0,80.3 L979.0,80.4 L980.0,80.4 L981.0,80.5 L982.0,80.6 L983.0,80.6 L984.0,80.7 L985.0,80.8 L986.0,80.8 L987.0,80.9 L988.0,81.0 L989.0,81.0 L990.0,81.1 L991.0,81.2 L992.0,81.3 L993.0,81.4 L994.0,81.5 L995.0,81.5 L996.0,81.6 L997.0,81.7 L998.0,81.8 L999.0,81.9 L1000.0,82.0 L1001.0,82.1 L1002.0,82.3 L1003.0,82.4 L1004.0,82.5 L1005.0,82.6 L1006.0,82.7 L1007.0,82.9 L1008.0,83.0 L1009.0,83.1 L1010.0,83.3 L1011.0,83.4 L1012.0,83.5 L1013.0,83.7 L1014.0,83.8 L1015.0,84.0 L1016.0,84.2 L1017.0,84.3 L1018.0,84.5 L1019.0,84.7 L1020.0,84.9 L1021.0,85.0 L1022.0,85.2 L1023.0,85.4 L1024.0,85.6 L1025.0,85.8 L1026.0,86.0 L1027.0,86.2 L1028.0,86.5 L1029.0,86.7 L1030.0,86.9 L1031.0,87.2 L1032.0,87.4 L1033.0,87.6 L1034.0,87.9 L1035.0,88.1 L1036.0,88.4 L1037.0,88.7 L1038.0,89.0 L1039.0,89.2 L1040.0,89.5 L1041.0,89.8 L1042.0,90.1 L1043.0,90.4 L1044.0,90.7 L1045.0,91.0 L1046.0,91.4 L1047.0,91.7 L1048.0,92.0 L1049.0,92.4 L1050.0,92.7 L1051.0,93.1 L1052.0,93.4 L1053.0,93.8 L1054.0,94.2 L1055.0,94.6 L1056.0,95.0 L1057.0,95.4 L1058.0,95.8 L1059.0,96.2 L1060.0,96.7 L1061.0,97.1 L1062.0,97.5 L1063.0,98.0 L1064.0,98.5 L1065.0,99.0 L1066.0,99.5 L1067.0,100.0 L1068.0,100.5 L1069.0,101.0 L1070.0,101.6 L1071.0,102.1 L1072.0,102.7 L1073.0,103.3 L1074.0,103.8 L1075.0,104.5 L1076.0,105.1 L1077.0,105.7 L1078.0,106.4 L1079.0,107.0 L1080.0,107.7 L1081.0,108.4 L1082.0,109.1 L1083.0,109.8 L1084.0,110.6 L1085.0,111.3 L1086.0,112.1 L1087.0,112.9 L1088.0,113.7 L1089.0,114.5 L1090.0,115.4 L1091.0,116.2 L1092.0,117.1 L1093.0,118.0 L1094.0,118.9 L1095.0,119.8 L1096.0,120.8 L1097.0,121.8 L1098.0,122.8 L1099.0,123.8 L1100.0,124.8 L1101.0,125.9 L1102.0,126.9 L1103.0,128.0 L1104.0,129.2 L1105.0,130.3 L1106.0,131.5 L1107.0,132.6 L1108.0,133.9 L1109.0,135.1 L1110.0,136.3 L1111.0,137.6 L1112.0,138.9 L1113.0,140.2 L1114.0,141.6 L1115.0,143.0 L1116.0,144.4 L1117.0,145.8 L1118.0,147.2 L1119.0,148.7 L1120.0,150.2 L1121.0,151.7 L1122.0,153.3 L1123.0,154.9 L1124.0,156.5 L1125.0,158.1 L1126.0,159.8 L1127.0,161.4 L1128.0,163.2 L1129.0,164.9 L1130.0,166.7 L1131.0,168.5 L1132.0,170.3 L1133.0,172.2 L1134.0,174.1 L1135.0,176.0 L1136.0,177.9 L1137.0,179.9 L1138.0,181.9 L1139.0,184.0 L1140.0,186.1 L1141.0,188.2 L1142.0,190.3 L1143.0,192.5 L1144.0,194.7 L1145.0,196.9 L1146.0,199.2 L1147.0,201.5 L1148.0,203.8 L1149.0,206.2 L1150.0,208.6 L1151.0,211.0 L1152.0,213.5 L1153.0,216.0 L1154.0,218.5 L1155.0,221.1 L1156.0,223.7 L1157.0,226.4 L1158.0,229.1 L1159.0,231.8 L1160.0,234.6 L1161.0,237.4 L1162.0,240.2 L1163.0,243.1 L1164.0,246.0 L1165.0,248.9 L1166.0,251.9 L1167.0,254.9 L1168.0,258.0 L1169.0,261.1 L1170.0,264.2 L1171.0,267.4 L1172.0,270.6 L1173.0,273.9 L1174.0,277.2 L1175.0,280.6 L1176.0,283.9 L1177.0,287.4 L1178.0,290.8 L1179.0,294.3 L1180.0,297.9 L1181.0,301.5 L1182.0,305.1 L1183.0,308.8 L1184.0,312.5 L1185.0,316.3 L1186.0,320.1 L1187.0,324.0 L1188.0,327.9 L1189.0,331.8 L1190.0,335.8 L1191.0,339.9 L1192.0,343.9 L1193.0,348.1 L1194.0,352.2 L1195.0,356.5 L1196.0,360.7 L1197.0,365.1 L1198.0,369.4 L1199.0,373.8 L1200.0,378.3 L1201.0,382.8 L1202.0,387.3 L1203.0,391.9 L1204.0,396.6 L1205.0,401.3 L1206.0,406.0 L1207.0,410.8 L1208.0,415.7 L1209.0,420.6 L1210.0,425.5 L1211.0,430.5 L1212.0,435.6 L1213.0,440.7 L1214.0,445.9 L1215.0,451.1 L1216.0,456.3 L1217.0,461.6 L1218.0,467.0 L1219.0,472.4 L1220.0,477.9 L1221.0,483.4 L1222.0,489.0 L1223.0,494.6 L1224.0,500.3 L1225.0,506.0 L1226.0,511.8 L1227.0,517.7 L1228.0,523.6 L1229.0,529.6" fill="none" stroke="#3c2424" stroke-width="1.25"/>
<path d="M812.0,48.6 L813.0,49.0 L814.0,49.4 L815.0,49.8 L816.0,50.1 L817.0,50.5 L818.0,50.9 L819.0,51.2 L820.0,51.6 L821.0,51.9 L822.0,52.2 L823.0,52.6 L824.0,52.9 L825.0,53.2 L826.0,53.5 L827.0,53.8 L828.0,54.1 L829.0,54.4 L830.0,54.7 L831.0,54.9 L832.0,55.2 L833.0,55.5 L834.0,55.7 L835.0,56.0 L836.0,56.2 L837.0,56.5 L838.0,56.7 L839.0,56.9 L840.0,57.2 L841.0,57.4 L842.0,57.6 L843.0,57.8 L844.0,58.0 L845.0,58.2 L846.0,58.4 L847.0,58.6 L848.0,58.8 L849.0,59.0 L850.0,59.2 L851.0,59.3 L852.0,59.5 L853.0,59.7 L854.0,59.8 L855.0,60.0 L856.0,60.1 L857.0,60.3 L858.0,60.4 L859.0,60.5 L860.0,60.7 L861.0,60.8 L862.0,60.9 L863.0,61.0 L864.0,61.2 L865.0,61.3 L866.0,61.4 L867.0,61.5 L868.0,61.6 L869.0,61.7 L870.0,61.8 L871.0,61.8 L872.0,61.9 L873.0,62.0 L874.0,62.1 L875.0,62.2 L876.0,62.2 L877.0,62.3 L878.0,62.4 L879.0,62.4 L880.0,62.5 L881.0,62.6 L882.0,62.6 L883.0,62.7 L884.0,62.7 L885.0,62.8 L886.0,62.8 L887.0,62.8 L888.0,62.9 L889.0,62.9 L890.0,62.9 L891.0,63.0 L892.0,63.0 L893.0,63.0 L894.0,63.0 L895.0,63.1 L896.0,63.1 L897.0,63.1 L898.0,63.1 L899.0,63.1 L900.0,63.1 L901.0,63.1 L902.0,63.2 L903.0,63.2 L904.0,63.2 L905.0,63.2 L906.0,63.2 L907.0,63.2 L908.0,63.2 L909.0,63.2 L910.0,63.2 L911.0,63.1 L912.0,63.1 L913.0,63.1 L914.0,63.1 L915.0,63.1 L916.0,63.1 L917.0,63.1 L918.0,63.1 L919.0,63.1 L920.0,63.0 L921.0,63.0 L922.0,63.0 L923.0,63.0 L924.0,63.0 L925.0,63.0 L926.0,62.9 L927.0,62.9 L928.0,62.9 L929.0,62.9 L930.0,62.9 L931.0,62.8 L932.0,62.8 L933.0,62.8 L934.0,62.8 L935.0,62.8 L936.0,62.8 L937.0,62.7 L938.0,62.7 L939.0,62.7 L940.0,62.7 L941.0,62.7 L942.0,62.7 L943.0,62.6 L944.0,62.6 L945.0,62.6 L946.0,62.6 L947.0,62.6 L948.0,62.6 L949.0,62.6 L950.0,62.6 L951.0,62.5 L952.0,62.5 L953.0,62.5 L954.0,62.5 L955.0,62.5 L956.0,62.5 L957.0,62.5 L958.0,62.5 L959.0,62.5 L960.0,62.5 L961.0,62.5 L962.0,62.5 L963.0,62.6 L964.0,62.6 L965.0,62.6 L966.0,62.6 L967.0,62.6 L968.0,62.6 L969.0,62.6 L970.0,62.7 L971.0,62.7 L972.0,62.7 L973.0,62.8 L974.0,62.8 L975.0,62.8 L976.0,62.9 L977.0,62.9 L978.0,62.9 L979.0,63.0 L980.0,63.0 L981.0,63.1 L982.0,63.1 L983.0,63.2 L984.0,63.3 L985.0,63.3 L986.0,63.4 L987.0,63.5 L988.0,63.5 L989.0,63.6 L990.0,63.7 L991.0,63.8 L992.0,63.9 L993.0,63.9 L994.0,64.0 L995.0,64.1 L996.0,64.2 L997.0,64.3 L998.0,64.5 L999.0,64.6 L1000.0,64.7 L1001.0,64.8 L1002.0,64.9 L1003.0,65.1 L1004.0,65.2 L1005.0,65.3 L1006.0,65.5 L1007.0,65.6 L1008.0,65.8 L1009.0,65.9 L1010.0,66.1 L1011.0,66.2 L1012.0,66.4 L1013.0,66.6 L1014.0,66.8 L1015.0,66.9 L1016.0,67.1 L1017.0,67.3 L1018.0,67.5 L1019.0,67.7 L1020.0,67.9 L1021.0,68.1 L1022.0,68.4 L1023.0,68.6 L1024.0,68.8 L1025.0,69.0 L1026.0,69.3 L1027.0,69.5 L1028.0,69.8 L1029.0,70.0 L1030.0,70.3 L1031.0,70.6 L1032.0,70.8 L1033.0,71.1 L1034.0,71.4 L1035.0,71.7 L1036.0,72.0 L1037.0,72.3 L1038.0,72.6 L1039.0,72.9 L1040.0,73.2 L1041.0,73.6 L1042.0,73.9 L1043.0,74.2 L1044.0,74.6 L1045.0,74.9 L1046.0,75.3 L1047.0,75.7 L1048.0,76.0 L1049.0,76.4 L1050.0,76.8 L1051.0,77.2 L1052.0,77.6 L1053.0,78.0 L1054.0,78.4 L1055.0,78.8 L1056.0,79.3 L1057.0,79.7 L1058.0,80.1 L1059.0,80.6 L1060.0,81.1 L1061.0,81.5 L1062.0,82.0 L1063.0,82.5 L1064.0,83.0 L1065.0,83.5 L1066.0,84.0 L1067.0,84.5 L1068.0,85.0 L1069.0,85.5 L1070.0,86.1 L1071.0,86.6 L1072.0,87.2 L1073.0,87.7 L1074.0,88.3 L1075.0,88.9 L1076.0,89.5 L1077.0,90.1 L1078.0,90.7 L1079.0,91.3 L1080.0,91.9 L1081.0,92.5 L1082.0,93.2 L1083.0,93.8 L1084.0,94.5 L1085.0,95.1 L1086.0,95.8 L1087.0,96.5 L1088.0,97.2 L1089.0,97.9 L1090.0,98.6 L1091.0,99.3 L1092.0,100.0 L1093.0,100.8 L1094.0,101.5 L1095.0,102.3 L1096.0,103.0 L1097.0,103.8 L1098.0,104.6 L1099.0,105.4 L1100.0,106.2 L1101.0,107.0 L1102.0,107.8 L1103.0,108.7 L1104.0,109.5 L1105.0,110.4 L1106.0,111.3 L1107.0,112.2 L1108.0,113.1 L1109.0,114.1 L1110.0,115.1 L1111.0,116.1 L1112.0,117.1 L1113.0,118.2 L1114.0,119.3 L1115.0,120.4 L1116.0,121.6 L1117.0,122.8 L1118.0,124.1 L1119.0,125.4 L1120.0,126.8 L1121.0,128.2 L1122.0,129.6 L1123.0,131.1 L1124.0,132.6 L1125.0,134.2 L1126.0,135.8 L1127.0,137.5 L1128.0,139.2 L1129.0,141.0 L1130.0,142.8 L1131.0,144.6 L1132.0,146.5 L1133.0,148.4 L1134.0,150.4 L1135.0,152.4 L1136.0,154.5 L1137.0,156.6 L1138.0,158.8 L1139.0,161.0 L1140.0,163.2 L1141.0,165.5 L1142.0,167.9 L1143.0,170.2 L1144.0,172.7 L1145.0,175.1 L1146.0,177.6 L1147.0,180.2 L1148.0,182.8 L1149.0,185.4 L1150.0,188.1 L1151.0,190.9 L1152.0,193.6 L1153.0,196.4 L1154.0,199.3 L1155.0,202.2 L1156.0,205.1 L1157.0,208.1 L1158.0,211.1 L1159.0,214.2 L1160.0,217.3 L1161.0,220.5 L1162.0,223.7 L1163.0,226.9 L1164.0,230.2 L1165.0,233.5 L1166.0,236.9 L1167.0,240.3 L1168.0,243.7 L1169.0,247.2 L1170.0,250.7 L1171.0,254.3 L1172.0,257.9 L1173.0,261.6 L1174.0,265.3 L1175.0,269.0 L1176.0,272.8 L1177.0,276.6 L1178.0,280.4 L1179.0,284.3 L1180.0,288.2 L1181.0,292.2 L1182.0,296.1 L1183.0,300.2 L1184.0,304.2 L1185.0,308.3 L1186.0,312.5 L1187.0,316.6 L1188.0,320.8 L1189.0,325.0 L1190.0,329.3 L1191.0,333.6 L1192.0,337.9 L1193.0,342.3 L1194.0,346.7 L1195.0,351.1 L1196.0,355.5 L1197.0,360.0 L1198.0,364.5 L1199.0,369.0 L1200.0,373.6 L1201.0,378.2 L1202.0,382.8 L1203.0,387.5 L1204.0,392.1 L1205.0,396.8 L1206.0,401.6 L1207.0,406.3 L1208.0,411.1 L1209.0,415.9 L1210.0,420.7 L1211.0,425.6 L1212.0,430.5 L1213.0,435.4 L1214.0,440.3 L1215.0,445.3 L1216.0,450.2 L1217.0,455.2 L1218.0,460.2 L1219.0,465.3 L1220.0,470.3 L1221.0,475.4 L1222.0,480.5 L1223.0,485.6 L1224.0,490.7 L1225.0,495.9 L1226.0,501.1 L1227.0,506.3 L1228.0,511.5 L1229.0,516.7" fill="none" stroke="#1c0d0d" stroke-width="1.25"/>
<path d="M812.0,41.8 L813.0,41.9 L814.0,41.9 L815.0,42.0 L816.0,42.1 L817.0,42.1 L818.0,42.1 L819.0,42.2 L820.0,42.2 L821.0,42.3 L822.0,42.3 L823.0,42.4 L824.0,42.4 L825.0,42.5 L826.0,42.5 L827.0,42.5 L828.0,42.6 L829.0,42.6 L830.0,42.7 L831.0,42.7 L832.0,42.7 L833.0,42.8 L834.0,42.8 L835.0,42.9 L836.0,42.9 L837.0,42.9 L838.0,43.0 L839.0,43.0 L840.0,43.0 L841.0,43.1 L842.0,43.1 L843.0,43.1 L844.0,43.1 L845.0,43.2 L846.0,43.2 L847.0,43.2 L848.0,43.3 L849.0,43.3 L850.0,43.3 L851.0,43.3 L852.0,43.4 L853.0,43.4 L854.0,43.4 L855.0,43.4 L856.0,43.5 L857.0,43.5 L858.0,43.5 L859.0,43.5 L860.0,43.6 L861.0,43.6 L862.0,43.6 L863.0,43.6 L864.0,43.6 L865.0,43.7 L866.0,43.7 L867.0,43.7 L868.0,43.7 L869.0,43.7 L870.0,43.8 L871.0,43.8 L872.0,43.8 L873.0,43.8 L874.0,43.8 L875.0,43.9 L876.0,43.9 L877.0,43.9 L878.0,43.9 L879.0,43.9 L880.0,43.9 L881.0,44.0 L882.0,44.0 L883.0,44.0 L884.0,44.0 L885.0,44.0 L886.0,44.1 L887.0,44.1 L888.0,44.1 L889.0,44.1 L890.0,44.1 L891.0,44.1 L892.0,44.2 L893.0,44.2 L894.0,44.2 L895.0,44.2 L896.0,44.2 L897.0,44.2 L898.0,44.3 L899.0,44.3 L900.0,44.3 L901.0,44.3 L902.0,44.3 L903.0,44.3 L904.0,44.4 L905.0,44.4 L906.0,44.4 L907.0,44.4 L908.0,44.4 L909.0,44.5 L910.0,44.5 L911.0,44.5 L912.0,44.5 L913.0,44.5 L914.0,44.6 L915.0,44.6 L916.0,44.6 L917.0,44.6 L918.0,44.7 L919.0,44.7 L920.0,44.7 L921.0,44.7 L922.0,44.7 L923.0,44.8 L924.0,44.8 L925.0,44.8 L926.0,44.8 L927.0,44.9 L928.0,44.9 L929.0,44.9 L930.0,44.9 L931.0,45.0 L932.0,45.0 L933.0,45.0 L934.0,45.1 L935.0,45.1 L936.0,45.1 L937.0,45.2 L938.0,45.2 L939.0,45.2 L940.0,45.3 L941.0,45.3 L942.0,45.3 L943.0,45.4 L944.0,45.4 L945.0,45.4 L946.0,45.5 L947.0,45.5 L948.0,45.5 L949.0,45.6 L950.0,45.6 L951.0,45.7 L952.0,45.7 L953.0,45.7 L954.0,45.8 L955.0,45.8 L956.0,45.9 L957.0,45.9 L958.0,46.0 L959.0,46.0 L960.0,46.1 L961.0,46.1 L962.0,46.2 L963.0,46.2 L964.0,46.3 L965.0,46.3 L966.0,46.4 L967.0,46.4 L968.0,46.5 L969.0,46.5 L970.0,46.6 L971.0,46.7 L972.0,46.7 L973.0,46.8 L974.0,46.8 L975.0,46.9 L976.0,47.0 L977.0,47.0 L978.0,47.1 L979.0,47.2 L980.0,47.2 L981.0,47.3 L982.0,47.4 L983.0,47.4 L984.0,47.5 L985.0,47.6 L986.0,47.7 L987.0,47.7 L988.0,47.8 L989.0,47.9 L990.0,48.0 L991.0,48.0 L992.0,48.1 L993.0,48.2 L994.0,48.3 L995.0,48.4 L996.0,48.5 L997.0,48.6 L998.0,48.7 L999.0,48.7 L1000.0,48.8 L1001.0,48.9 L1002.0,49.0 L1003.0,49.1 L1004.0,49.2 L1005.0,49.3 L1006.0,49.4 L1007.0,49.5 L1008.0,49.6 L1009.0,49.7 L1010.0,49.9 L1011.0,50.0 L1012.0,50.1 L1013.0,50.2 L1014.0,50.3 L1015.0,50.4 L1016.0,50.6 L1017.0,50.7 L1018.0,50.8 L1019.0,50.9 L1020.0,51.1 L1021.0,51.2 L1022.0,51.4 L1023.0,51.5 L1024.0,51.6 L1025.0,51.8 L1026.0,51.9 L1027.0,52.1 L1028.0,52.3 L1029.0,52.4 L1030.0,52.6 L1031.0,52.8 L1032.0,52.9 L1033.0,53.1 L1034.0,53.3 L1035.0,53.5 L1036.0,53.7 L1037.0,53.8 L1038.0,54.0 L1039.0,54.2 L1040.0,54.4 L1041.0,54.6 L1042.0,54.9 L1043.0,55.1 L1044.0,55.3 L1045.0,55.5 L1046.0,55.8 L1047.0,56.0 L1048.0,56.2 L1049.0,56.5 L1050.0,56.7 L1051.0,57.0 L1052.0,57.2 L1053.0,57.5 L1054.0,57.8 L1055.0,58.0 L1056.0,58.3 L1057.0,58.6 L1058.0,58.9 L1059.0,59.2 L1060.0,59.5 L1061.0,59.8 L1062.0,60.1 L1063.0,60.4 L1064.0,60.7 L1065.0,61.1 L1066.0,61.4 L1067.0,61.8 L1068.0,62.1 L1069.0,62.5 L1070.0,62.8 L1071.0,63.2 L1072.0,63.6 L1073.0,63.9 L1074.0,64.3 L1075.0,64.7 L1076.0,65.1 L1077.0,65.5 L1078.0,65.9 L1079.0,66.4 L1080.0,66.8 L1081.0,67.2 L1082.0,67.7 L1083.0,68.1 L1084.0,68.6 L1085.0,69.0 L1086.0,69.5 L1087.0,70.0 L1088.0,70.5 L1089.0,71.0 L1090.0,71.5 L1091.0,72.0 L1092.0,72.5 L1093.0,73.0 L1094.0,73.5 L1095.0,74.1 L1096.0,74.6 L1097.0,75.2 L1098.0,75.7 L1099.0,76.3 L1100.0,76.9 L1101.0,77.5 L1102.0,78.1 L1103.0,78.7 L1104.0,79.3 L1105.0,80.0 L1106.0,80.6 L1107.0,81.3 L1108.0,82.0 L1109.0,82.8 L1110.0,83.5 L1111.0,84.3 L1112.0,85.1 L1113.0,86.0 L1114.0,86.9 L1115.0,87.8 L1116.0,88.7 L1117.0,89.7 L1118.0,90.8 L1119.0,91.9 L1120.0,93.0 L1121.0,94.2 L1122.0,95.4 L1123.0,96.6 L1124.0,97.9 L1125.0,99.2 L1126.0,100.6 L1127.0,102.0 L1128.0,103.5 L1129.0,105.0 L1130.0,106.5 L1131.0,108.1 L1132.0,109.7 L1133.0,111.3 L1134.0,113.0 L1135.0,114.7 L1136.0,116.5 L1137.0,118.3 L1138.0,120.1 L1139.0,122.0 L1140.0,123.9 L1141.0,125.8 L1142.0,127.8 L1143.0,129.8 L1144.0,131.8 L1145.0,133.9 L1146.0,136.0 L1147.0,138.1 L1148.0,140.3 L1149.0,142.5 L1150.0,144.8 L1151.0,147.0 L1152.0,149.3 L1153.0,151.7 L1154.0,154.0 L1155.0,156.4 L1156.0,158.8 L1157.0,161.2 L1158.0,163.7 L1159.0,166.2 L1160.0,168.7 L1161.0,171.2 L1162.0,173.7 L1163.0,176.2 L1164.0,178.7 L1165.0,181.3 L1166.0,183.9 L1167.0,186.4 L1168.0,189.0 L1169.0,191.6 L1170.0,194.1 L1171.0,196.7 L1172.0,199.3 L1173.0,201.9 L1174.0,204.5 L1175.0,207.1 L1176.0,209.8 L1177.0,212.6 L1178.0,215.5 L1179.0,218.6 L1180.0,221.8 L1181.0,225.2 L1182.0,228.8 L1183.0,232.6 L1184.0,236.7 L1185.0,241.0 L1186.0,245.4 L1187.0,249.9 L1188.0,254.5 L1189.0,259.1 L1190.0,263.7 L1191.0,268.3 L1192.0,272.8 L1193.0,277.3 L1194.0,281.8 L1195.0,286.1 L1196.0,290.5 L1197.0,294.8 L1198.0,299.1 L1199.0,303.4 L1200.0,307.7 L1201.0,312.1 L1202.0,316.6 L1203.0,321.2 L1204.0,325.9 L1205.0,330.7 L1206.0,335.7 L1207.0,340.8 L1208.0,346.2 L1209.0,351.7 L1210.0,357.5 L1211.0,363.4 L1212.0,369.5 L1213.0,375.7 L1214.0,381.8 L1215.0,387.9 L1216.0,394.0 L1217.0,399.9 L1218.0,405.6 L1219.0,411.2 L1220.0,416.5 L1221.0,421.7 L1222.0,426.6 L1223.0,431.3 L1224.0,435.7 L1225.0,439.8 L1226.0,443.6 L1227.0,447.1 L1228.0,450.2 L1229.0,453.0 L1230.0,455.4" fill="none" stroke="#4d7676" stroke-width="1.25"/>
<path d="M812.0,44.6 L813.0,44.7 L814.0,44.8 L815.0,44.9 L816.0,45.1 L817.0,45.2 L818.0,45.3 L819.0,45.4 L820.0,45.5 L821.0,45.6 L822.0,45.7 L823.0,45.8 L824.0,45.9 L825.0,45.9 L826.0,46.0 L827.0,46.1 L828.0,46.2 L829.0,46.3 L830.0,46.4 L831.0,46.5 L832.0,46.6 L833.0,46.7 L834.0,46.7 L835.0,46.8 L836.0,46.9 L837.0,47.0 L838.0,47.1 L839.0,47.1 L840.0,47.2 L841.0,47.3 L842.0,47.4 L843.0,47.4 L844.0,47.5 L845.0,47.6 L846.0,47.6 L847.0,47.7 L848.0,47.8 L849.0,47.9 L850.0,47.9 L851.0,48.0 L852.0,48.1 L853.0,48.1 L854.0,48.2 L855.0,48.2 L856.0,48.3 L857.0,48.4 L858.0,48.4 L859.0,48.5 L860.0,48.5 L861.0,48.6 L862.0,48.6 L863.0,48.7 L864.0,48.8 L865.0,48.8 L866.0,48.9 L867.0,48.9 L868.0,49.0 L869.0,49.0 L870.0,49.1 L871.0,49.1 L872.0,49.2 L873.0,49.2 L874.0,49.2 L875.0,49.3 L876.0,49.3 L877.0,49.4 L878.0,49.4 L879.0,49.5 L880.0,49.5 L881.0,49.5 L882.0,49.6 L883.0,49.6 L884.0,49.7 L885.0,49.7 L886.0,49.7 L887.0,49.8 L888.0,49.8 L889.0,49.9 L890.0,49.9 L891.0,49.9 L892.0,50.0 L893.0,50.0 L894.0,50.0 L895.0,50.1 L896.0,50.1 L897.0,50.1 L898.0,50.2 L899.0,50.2 L900.0,50.2 L901.0,50.3 L902.0,50.3 L903.0,50.3 L904.0,50.4 L905.0,50.4 L906.0,50.4 L907.0,50.4 L908.0,50.5 L909.0,50.5 L910.0,50.5 L911.0,50.6 L912.0,50.6 L913.0,50.6 L914.0,50.6 L915.0,50.7 L916.0,50.7 L917.0,50.7 L918.0,50.8 L919.0,50.8 L920.0,50.8 L921.0,50.8 L922.0,50.9 L923.0,50.9 L924.0,50.9 L925.0,50.9 L926.0,51.0 L927.0,51.0 L928.0,51.0 L929.0,51.0 L930.0,51.1 L931.0,51.1 L932.0,51.1 L933.0,51.1 L934.0,51.2 L935.0,51.2 L936.0,51.2 L937.0,51.2 L938.0,51.3 L939.0,51.3 L940.0,51.3 L941.0,51.3 L942.0,51.4 L943.0,51.4 L944.0,51.4 L945.0,51.4 L946.0,51.5 L947.0,51.5 L948.0,51.5 L949.0,51.5 L950.0,51.6 L951.0,51.6 L952.0,51.6 L953.0,51.7 L954.0,51.7 L955.0,51.7 L956.0,51.7 L957.0,51.8 L958.0,51.8 L959.0,51.8 L960.0,51.9 L961.0,51.9 L962.0,51.9 L963.0,51.9 L964.0,52.0 L965.0,52.0 L966.0,52.0 L967.0,52.1 L968.0,52.1 L969.0,52.1 L970.0,52.2 L971.0,52.2 L972.0,52.2 L973.0,52.3 L974.0,52.3 L975.0,52.3 L976.0,52.4 L977.0,52.4 L978.0,52.4 L979.0,52.5 L980.0,52.5 L981.0,52.5 L982.0,52.6 L983.0,52.6 L984.0,52.7 L985.0,52.7 L986.0,52.7 L987.0,52.8 L988.0,52.8 L989.0,52.9 L990.0,52.9 L991.0,53.0 L992.0,53.0 L993.0,53.0 L994.0,53.1 L995.0,53.1 L996.0,53.2 L997.0,53.2 L998.0,53.3 L999.0,53.3 L1000.0,53.4 L1001.0,53.4 L1002.0,53.5 L1003.0,53.5 L1004.0,53.6 L1005.0,53.6 L1006.0,53.7 L1007.0,53.8 L1008.0,53.8 L1009.0,53.9 L1010.0,53.9 L1011.0,54.0 L1012.0,54.0 L1013.0,54.1 L1014.0,54.2 L1015.0,54.2 L1016.0,54.3 L1017.0,54.4 L1018.0,54.4 L1019.0,54.5 L1020.0,54.6 L1021.0,54.6 L1022.0,54.7 L1023.0,54.8 L1024.0,54.8 L1025.0,54.9 L1026.0,55.0 L1027.0,55.1 L1028.0,55.1 L1029.0,55.2 L1030.0,55.3 L1031.0,55.4 L1032.0,55.5 L1033.0,55.5 L1034.0,55.6 L1035.0,55.7 L1036.0,55.8 L1037.0,55.9 L1038.0,56.0 L1039.0,56.1 L1040.0,56.1 L1041.0,56.2 L1042.0,56.3 L1043.0,56.4 L1044.0,56.5 L1045.0,56.6 L1046.0,56.7 L1047.0,56.8 L1048.0,56.9 L1049.0,57.0 L1050.0,57.1 L1051.0,57.2 L1052.0,57.3 L1053.0,57.4 L1054.0,57.5 L1055.0,57.7 L1056.0,57.8 L1057.0,57.9 L1058.0,58.0 L1059.0,58.1 L1060.0,58.3 L1061.0,58.4 L1062.0,58.5 L1063.0,58.7 L1064.0,58.8 L1065.0,58.9 L1066.0,59.1 L1067.0,59.3 L1068.0,59.4 L1069.0,59.6 L1070.0,59.8 L1071.0,59.9 L1072.0,60.1 L1073.0,60.3 L1074.0,60.5 L1075.0,60.7 L1076.0,60.9 L1077.0,61.1 L1078.0,61.4 L1079.0,61.6 L1080.0,61.8 L1081.0,62.1 L1082.0,62.3 L1083.0,62.6 L1084.0,62.9 L1085.0,63.2 L1086.0,63.5 L1087.0,63.8 L1088.0,64.1 L1089.0,64.4 L1090.0,64.7 L1091.0,65.1 L1092.0,65.4 L1093.0,65.8 L1094.0,66.2 L1095.0,66.5 L1096.0,66.9 L1097.0,67.4 L1098.0,67.8 L1099.0,68.2 L1100.0,68.6 L1101.0,69.1 L1102.0,69.6 L1103.0,70.1 L1104.0,70.5 L1105.0,71.1 L1106.0,71.6 L1107.0,72.1 L1108.0,72.7 L1109.0,73.2 L1110.0,73.8 L1111.0,74.4 L1112.0,75.0 L1113.0,75.6 L1114.0,76.3 L1115.0,76.9 L1116.0,77.6 L1117.0,78.3 L1118.0,79.0 L1119.0,79.7 L1120.0,80.4 L1121.0,81.2 L1122.0,82.0 L1123.0,82.7 L1124.0,83.5 L1125.0,84.4 L1126.0,85.2 L1127.0,86.1 L1128.0,86.9 L1129.0,87.8 L1130.0,88.7 L1131.0,89.7 L1132.0,90.6 L1133.0,91.6 L1134.0,92.6 L1135.0,93.6 L1136.0,94.6 L1137.0,95.7 L1138.0,96.8 L1139.0,97.9 L1140.0,99.0 L1141.0,100.1 L1142.0,101.3 L1143.0,102.4 L1144.0,103.6 L1145.0,104.9 L1146.0,106.1 L1147.0,107.4 L1148.0,108.7 L1149.0,110.0 L1150.0,111.3 L1151.0,112.7 L1152.0,114.1 L1153.0,115.5 L1154.0,116.9 L1155.0,118.4 L1156.0,119.8 L1157.0,121.3 L1158.0,122.9 L1159.0,124.4 L1160.0,126.0 L1161.0,127.6 L1162.0,129.3 L1163.0,130.9 L1164.0,132.6 L1165.0,134.3 L1166.0,136.1 L1167.0,137.8 L1168.0,139.7 L1169.0,141.5 L1170.0,143.4 L1171.0,145.3 L1172.0,147.2 L1173.0,149.2 L1174.0,151.2 L1175.0,153.3 L1176.0,155.4 L1177.0,157.5 L1178.0,159.7 L1179.0,161.9 L1180.0,164.2 L1181.0,166.5 L1182.0,168.8 L1183.0,171.2 L1184.0,173.7 L1185.0,176.1 L1186.0,178.7 L1187.0,181.3 L1188.0,183.9 L1189.0,186.6 L1190.0,189.4 L1191.0,192.2 L1192.0,195.0 L1193.0,197.9 L1194.0,200.9 L1195.0,203.9 L1196.0,207.0 L1197.0,210.2 L1198.0,213.4 L1199.0,216.6 L1200.0,220.0 L1201.0,223.4 L1202.0,226.8 L1203.0,230.3 L1204.0,233.9 L1205.0,237.6 L1206.0,241.3 L1207.0,245.1 L1208.0,249.0 L1209.0,252.9 L1210.0,256.9 L1211.0,261.0 L1212.0,265.2 L1213.0,269.4 L1214.0,273.7 L1215.0,278.1 L1216.0,282.5 L1217.0,287.0 L1218.0,291.6 L1219.0,296.3 L1220.0,301.0 L1221.0,305.8 L1222.0,310.7 L1223.0,315.7 L1224.0,320.7 L1225.0,325.8 L1226.0,330.9 L1227.0,336.1 L1228.0,341.4 L1229.0,346.8 L1230.0,352.2 L1231.0,357.7" fill="none" stroke="#6a4c4c" stroke-width="1.25"/>
<path d="M812.0,41.4 L813.0,41.4 L814.0,41.4 L815.0,41.5 L816.0,41.5 L817.0,41.5 L818.0,41.5 L819.0,41.6 L820.0,41.6 L821.0,41.6 L822.0,41.6 L823.0,41.6 L824.0,41.7 L825.0,41.7 L826.0,41.7 L827.0,41.7 L828.0,41.7 L829.0,41.7 L830.0,41.8 L831.0,41.8 L832.0,41.8 L833.0,41.8 L834.0,41.8 L835.0,41.8 L836.0,41.8 L837.0,41.8 L838.0,41.8 L839.0,41.9 L840.0,41.9 L841.0,41.9 L842.0,41.9 L843.0,41.9 L844.0,41.9 L845.0,41.9 L846.0,41.9 L847.0,41.9 L848.0,41.9 L849.0,41.9 L850.0,41.9 L851.0,41.9 L852.0,41.9 L853.0,41.9 L854.0,41.9 L855.0,41.9 L856.0,41.9 L857.0,41.9 L858.0,41.9 L859.0,41.9 L860.0,41.9 L861.0,41.9 L862.0,41.9 L863.0,41.9 L864.0,41.9 L865.0,41.9 L866.0,41.9 L867.0,41.9 L868.0,41.9 L869.0,41.9 L870.0,41.9 L871.0,41.9 L872.0,41.9 L873.0,41.9 L874.0,41.9 L875.0,41.8 L876.0,41.8 L877.0,41.8 L878.0,41.8 L879.0,41.8 L880.0,41.8 L881.0,41.8 L882.0,41.8 L883.0,41.8 L884.0,41.8 L885.0,41.8 L886.0,41.8 L887.0,41.8 L888.0,41.8 L889.0,41.8 L890.0,41.8 L891.0,41.8 L892.0,41.8 L893.0,41.7 L894.0,41.7 L895.0,41.7 L896.0,41.7 L897.0,41.7 L898.0,41.7 L899.0,41.7 L900.0,41.7 L901.0,41.7 L902.0,41.7 L903.0,41.7 L904.0,41.7 L905.0,41.7 L906.0,41.7 L907.0,41.7 L908.0,41.7 L909.0,41.7 L910.0,41.7 L911.0,41.7 L912.0,41.7 L913.0,41.7 L914.0,41.7 L915.0,41.7 L916.0,41.7 L917.0,41.7 L918.0,41.7 L919.0,41.7 L920.0,41.7 L921.0,41.7 L922.0,41.7 L923.0,41.7 L924.0,41.7 L925.0,41.7 L926.0,41.7 L927.0,41.7 L928.0,41.7 L929.0,41.7 L930.0,41.7 L931.0,41.7 L932.0,41.7 L933.0,41.8 L934.0,41.8 L935.0,41.8 L936.0,41.8 L937.0,41.8 L938.0,41.8 L939.0,41.8 L940.0,41.8 L941.0,41.9 L942.0,41.9 L943.0,41.9 L944.0,41.9 L945.0,41.9 L946.0,41.9 L947.0,42.0 L948.0,42.0 L949.0,42.0 L950.0,42.0 L951.0,42.0 L952.0,42.1 L953.0,42.1 L954.0,42.1 L955.0,42.1 L956.0,42.2 L957.0,42.2 L958.0,42.2 L959.0,42.2 L960.0,42.3 L961.0,42.3 L962.0,42.3 L963.0,42.4 L964.0,42.4 L965.0,42.4 L966.0,42.5 L967.0,42.5 L968.0,42.6 L969.0,42.6 L970.0,42.6 L971.0,42.7 L972.0,42.7 L973.0,42.8 L974.0,42.8 L975.0,42.9 L976.0,42.9 L977.0,43.0 L978.0,43.0 L979.0,43.1 L980.0,43.1 L981.0,43.2 L982.0,43.2 L983.0,43.3 L984.0,43.3 L985.0,43.4 L986.0,43.5 L987.0,43.5 L988.0,43.6 L989.0,43.6 L990.0,43.7 L991.0,43.8 L992.0,43.8 L993.0,43.9 L994.0,44.0 L995.0,44.1 L996.0,44.1 L997.0,44.2 L998.0,44.3 L999.0,44.4 L1000.0,44.4 L1001.0,44.5 L1002.0,44.6 L1003.0,44.7 L1004.0,44.8 L1005.0,44.9 L1006.0,44.9 L1007.0,45.0 L1008.0,45.1 L1009.0,45.2 L1010.0,45.3 L1011.0,45.4 L1012.0,45.5 L1013.0,45.6 L1014.0,45.7 L1015.0,45.8 L1016.0,45.9 L1017.0,46.0 L1018.0,46.1 L1019.0,46.2 L1020.0,46.4 L1021.0,46.5 L1022.0,46.6 L1023.0,46.7 L1024.0,46.8 L1025.0,46.9 L1026.0,47.1 L1027.0,47.2 L1028.0,47.3 L1029.0,47.4 L1030.0,47.6 L1031.0,47.7 L1032.0,47.8 L1033.0,48.0 L1034.0,48.1 L1035.0,48.3 L1036.0,48.4 L1037.0,48.5 L1038.0,48.7 L1039.0,48.8 L1040.0,49.0 L1041.0,49.1 L1042.0,49.3 L1043.0,49.4 L1044.0,49.6 L1045.0,49.8 L1046.0,49.9 L1047.0,50.1 L1048.0,50.2 L1049.0,50.4 L1050.0,50.6 L1051.0,50.8 L1052.0,50.9 L1053.0,51.1 L1054.0,51.3 L1055.0,51.5 L1056.0,51.7 L1057.0,51.9 L1058.0,52.0 L1059.0,52.2 L1060.0,52.5 L1061.0,52.7 L1062.0,52.9 L1063.0,53.1 L1064.0,53.3 L1065.0,53.6 L1066.0,53.8 L1067.0,54.0 L1068.0,54.3 L1069.0,54.5 L1070.0,54.8 L1071.0,55.1 L1072.0,55.4 L1073.0,55.7 L1074.0,56.0 L1075.0,56.3 L1076.0,56.6 L1077.0,56.9 L1078.0,57.2 L1079.0,57.6 L1080.0,57.9 L1081.0,58.3 L1082.0,58.7 L1083.0,59.1 L1084.0,59.5 L1085.0,59.9 L1086.0,60.3 L1087.0,60.7 L1088.0,61.2 L1089.0,61.7 L1090.0,62.1 L1091.0,62.6 L1092.0,63.1 L1093.0,63.6 L1094.0,64.1 L1095.0,64.7 L1096.0,65.2 L1097.0,65.8 L1098.0,66.4 L1099.0,67.0 L1100.0,67.6 L1101.0,68.2 L1102.0,68.9 L1103.0,69.6 L1104.0,70.2 L1105.0,70.9 L1106.0,71.7 L1107.0,72.4 L1108.0,73.1 L1109.0,73.9 L1110.0,74.7 L1111.0,75.5 L1112.0,76.3 L1113.0,77.2 L1114.0,78.0 L1115.0,78.9 L1116.0,79.8 L1117.0,80.8 L1118.0,81.7 L1119.0,82.7 L1120.0,83.7 L1121.0,84.7 L1122.0,85.7 L1123.0,86.7 L1124.0,87.8 L1125.0,88.9 L1126.0,90.0 L1127.0,91.2 L1128.0,92.3 L1129.0,93.5 L1130.0,94.7 L1131.0,96.0 L1132.0,97.2 L1133.0,98.5 L1134.0,99.8 L1135.0,101.2 L1136.0,102.5 L1137.0,103.9 L1138.0,105.3 L1139.0,106.8 L1140.0,108.2 L1141.0,109.7 L1142.0,111.3 L1143.0,112.8 L1144.0,114.4 L1145.0,116.0 L1146.0,117.6 L1147.0,119.2 L1148.0,120.9 L1149.0,122.6 L1150.0,124.4 L1151.0,126.1 L1152.0,127.9 L1153.0,129.7 L1154.0,131.5 L1155.0,133.4 L1156.0,135.2 L1157.0,137.1 L1158.0,139.0 L1159.0,140.9 L1160.0,142.8 L1161.0,144.8 L1162.0,146.7 L1163.0,148.7 L1164.0,150.8 L1165.0,152.9 L1166.0,155.0 L1167.0,157.1 L1168.0,159.3 L1169.0,161.6 L1170.0,163.9 L1171.0,166.3 L1172.0,168.7 L1173.0,171.2 L1174.0,173.8 L1175.0,176.4 L1176.0,179.1 L1177.0,181.9 L1178.0,184.7 L1179.0,187.7 L1180.0,190.7 L1181.0,193.8 L1182.0,196.9 L1183.0,200.2 L1184.0,203.5 L1185.0,206.8 L1186.0,210.2 L1187.0,213.7 L1188.0,217.2 L1189.0,220.7 L1190.0,224.4 L1191.0,228.0 L1192.0,231.7 L1193.0,235.4 L1194.0,239.2 L1195.0,243.1 L1196.0,246.9 L1197.0,250.8 L1198.0,254.8 L1199.0,258.8 L1200.0,262.8 L1201.0,266.8 L1202.0,270.9 L1203.0,275.1 L1204.0,279.3 L1205.0,283.6 L1206.0,287.9 L1207.0,292.3 L1208.0,296.8 L1209.0,301.4 L1210.0,306.1 L1211.0,310.8 L1212.0,315.7 L1213.0,320.7 L1214.0,325.7 L1215.0,330.9 L1216.0,336.2 L1217.0,341.6 L1218.0,347.0 L1219.0,352.6 L1220.0,358.2 L1221.0,364.0 L1222.0,369.8 L1223.0,375.7 L1224.0,381.7 L1225.0,387.7 L1226.0,393.9 L1227.0,400.0" fill="none" stroke="#ff1e1e" stroke-width="1.25"/>
<path d="M812.0,41.2 L813.0,41.1 L814.0,41.0 L815.0,41.0 L816.0,40.9 L817.0,40.8 L818.0,40.8 L819.0,40.7 L820.0,40.6 L821.0,40.6 L822.0,40.5 L823.0,40.4 L824.0,40.4 L825.0,40.3 L826.0,40.3 L827.0,40.2 L828.0,40.2 L829.0,40.1 L830.0,40.1 L831.0,40.0 L832.0,40.0 L833.0,39.9 L834.0,39.9 L835.0,39.8 L836.0,39.8 L837.0,39.8 L838.0,39.7 L839.0,39.7 L840.0,39.7 L841.0,39.6 L842.0,39.6 L843.0,39.6 L844.0,39.5 L845.0,39.5 L846.0,39.5 L847.0,39.5 L848.0,39.5 L849.0,39.4 L850.0,39.4 L851.0,39.4 L852.0,39.4 L853.0,39.4 L854.0,39.4 L855.0,39.4 L856.0,39.3 L857.0,39.3 L858.0,39.3 L859.0,39.3 L860.0,39.3 L861.0,39.3 L862.0,39.3 L863.0,39.3 L864.0,39.3 L865.0,39.3 L866.0,39.3 L867.0,39.3 L868.0,39.3 L869.0,39.3 L870.0,39.4 L871.0,39.4 L872.0,39.4 L873.0,39.4 L874.0,39.4 L875.0,39.4 L876.0,39.4 L877.0,39.5 L878.0,39.5 L879.0,39.5 L880.0,39.5 L881.0,39.5 L882.0,39.6 L883.0,39.6 L884.0,39.6 L885.0,39.6 L886.0,39.7 L887.0,39.7 L888.0,39.7 L889.0,39.7 L890.0,39.8 L891.0,39.8 L892.0,39.8 L893.0,39.9 L894.0,39.9 L895.0,39.9 L896.0,40.0 L897.0,40.0 L898.0,40.1 L899.0,40.1 L900.0,40.1 L901.0,40.2 L902.0,40.2 L903.0,40.3 L904.0,40.3 L905.0,40.4 L906.0,40.4 L907.0,40.4 L908.0,40.5 L909.0,40.5 L910.0,40.6 L911.0,40.6 L912.0,40.7 L913.0,40.7 L914.0,40.8 L915.0,40.8 L916.0,40.9 L917.0,41.0 L918.0,41.0 L919.0,41.1 L920.0,41.1 L921.0,41.2 L922.0,41.2 L923.0,41.3 L924.0,41.4 L925.0,41.4 L926.0,41.5 L927.0,41.5 L928.0,41.6 L929.0,41.7 L930.0,41.7 L931.0,41.8 L932.0,41.8 L933.0,41.9 L934.0,42.0 L935.0,42.0 L936.0,42.1 L937.0,42.2 L938.0,42.2 L939.0,42.3 L940.0,42.4 L941.0,42.4 L942.0,42.5 L943.0,42.6 L944.0,42.6 L945.0,42.7 L946.0,42.8 L947.0,42.8 L948.0,42.9 L949.0,43.0 L950.0,43.1 L951.0,43.1 L952.0,43.2 L953.0,43.3 L954.0,43.3 L955.0,43.4 L956.0,43.5 L957.0,43.6 L958.0,43.6 L959.0,43.7 L960.0,43.8 L961.0,43.8 L962.0,43.9 L963.0,44.0 L964.0,44.1 L965.0,44.1 L966.0,44.2 L967.0,44.3 L968.0,44.4 L969.0,44.4 L970.0,44.5 L971.0,44.6 L972.0,44.7 L973.0,44.7 L974.0,44.8 L975.0,44.9 L976.0,45.0 L977.0,45.0 L978.0,45.1 L979.0,45.2 L980.0,45.3 L981.0,45.3 L982.0,45.4 L983.0,45.5 L984.0,45.6 L985.0,45.6 L986.0,45.7 L987.0,45.8 L988.0,45.9 L989.0,45.9 L990.0,46.0 L991.0,46.1 L992.0,46.2 L993.0,46.2 L994.0,46.3 L995.0,46.4 L996.0,46.5 L997.0,46.5 L998.0,46.6 L999.0,46.7 L1000.0,46.8 L1001.0,46.8 L1002.0,46.9 L1003.0,47.0 L1004.0,47.0 L1005.0,47.1 L1006.0,47.2 L1007.0,47.3 L1008.0,47.3 L1009.0,47.4 L1010.0,47.5 L1011.0,47.5 L1012.0,47.6 L1013.0,47.7 L1014.0,47.7 L1015.0,47.8 L1016.0,47.9 L1017.0,48.0 L1018.0,48.0 L1019.0,48.1 L1020.0,48.2 L1021.0,48.2 L1022.0,48.3 L1023.0,48.3 L1024.0,48.4 L1025.0,48.5 L1026.0,48.5 L1027.0,48.6 L1028.0,48.7 L1029.0,48.7 L1030.0,48.8 L1031.0,48.8 L1032.0,48.9 L1033.0,49.0 L1034.0,49.0 L1035.0,49.1 L1036.0,49.1 L1037.0,49.2 L1038.0,49.2 L1039.0,49.3 L1040.0,49.4 L1041.0,49.4 L1042.0,49.5 L1043.0,49.5 L1044.0,49.6 L1045.0,49.6 L1046.0,49.7 L1047.0,49.7 L1048.0,49.8 L1049.0,49.8 L1050.0,49.9 L1051.0,49.9 L1052.0,50.0 L1053.0,50.0 L1054.0,50.0 L1055.0,50.1 L1056.0,50.1 L1057.0,50.2 L1058.0,50.2 L1059.0,50.3 L1060.0,50.3 L1061.0,50.4 L1062.0,50.4 L1063.0,50.5 L1064.0,50.5 L1065.0,50.6 L1066.0,50.7 L1067.0,50.7 L1068.0,50.8 L1069.0,50.8 L1070.0,50.9 L1071.0,51.0 L1072.0,51.1 L1073.0,51.1 L1074.0,51.2 L1075.0,51.3 L1076.0,51.4 L1077.0,51.5 L1078.0,51.6 L1079.0,51.7 L1080.0,51.8 L1081.0,51.9 L1082.0,52.1 L1083.0,52.2 L1084.0,52.3 L1085.0,52.5 L1086.0,52.6 L1087.0,52.8 L1088.0,52.9 L1089.0,53.1 L1090.0,53.3 L1091.0,53.5 L1092.0,53.6 L1093.0,53.8 L1094.0,54.0 L1095.0,54.2 L1096.0,54.5 L1097.0,54.7 L1098.0,54.9 L1099.0,55.2 L1100.0,55.4 L1101.0,55.7 L1102.0,56.0 L1103.0,56.3 L1104.0,56.5 L1105.0,56.9 L1106.0,57.2 L1107.0,57.5 L1108.0,57.8 L1109.0,58.2 L1110.0,58.5 L1111.0,58.9 L1112.0,59.3 L1113.0,59.7 L1114.0,60.1 L1115.0,60.5 L1116.0,60.9 L1117.0,61.3 L1118.0,61.8 L1119.0,62.3 L1120.0,62.7 L1121.0,63.2 L1122.0,63.7 L1123.0,64.3 L1124.0,64.8 L1125.0,65.3 L1126.0,65.9 L1127.0,66.5 L1128.0,67.1 L1129.0,67.7 L1130.0,68.3 L1131.0,68.9 L1132.0,69.6 L1133.0,70.2 L1134.0,70.9 L1135.0,71.6 L1136.0,72.3 L1137.0,73.1 L1138.0,73.8 L1139.0,74.6 L1140.0,75.3 L1141.0,76.1 L1142.0,77.0 L1143.0,77.8 L1144.0,78.6 L1145.0,79.5 L1146.0,80.4 L1147.0,81.3 L1148.0,82.2 L1149.0,83.2 L1150.0,84.1 L1151.0,85.1 L1152.0,86.1 L1153.0,87.1 L1154.0,88.2 L1155.0,89.2 L1156.0,90.3 L1157.0,91.4 L1158.0,92.5 L1159.0,93.7 L1160.0,94.8 L1161.0,96.0 L1162.0,97.2 L1163.0,98.5 L1164.0,99.7 L1165.0,101.0 L1166.0,102.3 L1167.0,103.6 L1168.0,104.9 L1169.0,106.3 L1170.0,107.7 L1171.0,109.1 L1172.0,110.5 L1173.0,112.0 L1174.0,113.5 L1175.0,115.0 L1176.0,116.5 L1177.0,118.1 L1178.0,119.7 L1179.0,121.3 L1180.0,123.0 L1181.0,124.6 L1182.0,126.3 L1183.0,128.1 L1184.0,129.8 L1185.0,131.6 L1186.0,133.4 L1187.0,135.3 L1188.0,137.2 L1189.0,139.1 L1190.0,141.0 L1191.0,143.0 L1192.0,145.0 L1193.0,147.0 L1194.0,149.1 L1195.0,151.2 L1196.0,153.4 L1197.0,155.5 L1198.0,157.7 L1199.0,160.0 L1200.0,162.2 L1201.0,164.5 L1202.0,166.9 L1203.0,169.3 L1204.0,171.7 L1205.0,174.1 L1206.0,176.6 L1207.0,179.1 L1208.0,181.7 L1209.0,184.3 L1210.0,186.9 L1211.0,189.6 L1212.0,192.3 L1213.0,195.1 L1214.0,197.9 L1215.0,200.7 L1216.0,203.6 L1217.0,206.5 L1218.0,209.5 L1219.0,212.5 L1220.0,215.5 L1221.0,218.6 L1222.0,221.7 L1223.0,224.9 L1224.0,228.1 L1225.0,231.3 L1226.0,234.6 L1227.0,238.0 L1228.0,241.4 L1229.0,244.8 L1230.0,248.3 L1231.0,251.8" fill="none" stroke="#2e6b6b" stroke-width="1.25"/>
<path d="M815.8,43.7 V65.7 M810.8,43.7 H820.8 M810.8,65.7 H820.8" stroke="#3a1c1c" stroke-width="1.3" fill="none"/>
<path d="M841.6,49 V71 M836.6,49 H846.6 M836.6,71 H846.6" stroke="#3a1c1c" stroke-width="1.3" fill="none"/>
<path d="M868.8,61.8 V83.8 M863.8,61.8 H873.8 M863.8,83.8 H873.8" stroke="#3a1c1c" stroke-width="1.3" fill="none"/>
<path d="M905,73.3 V95.3 M900,73.3 H910 M900,95.3 H910" stroke="#3a1c1c" stroke-width="1.3" fill="none"/>
<path d="M939.7,68.6 V90.6 M934.7,68.6 H944.7 M934.7,90.6 H944.7" stroke="#3a1c1c" stroke-width="1.3" fill="none"/>
<path d="M976.3,56.599999999999994 V78.6 M971.3,56.599999999999994 H981.3 M971.3,78.6 H981.3" stroke="#3a1c1c" stroke-width="1.3" fill="none"/>
<path d="M1011.1,62.8 V84.8 M1006.1,62.8 H1016.1 M1006.1,84.8 H1016.1" stroke="#3a1c1c" stroke-width="1.3" fill="none"/>
<path d="M1037.3,83 V105 M1032.3,83 H1042.3 M1032.3,105 H1042.3" stroke="#3a1c1c" stroke-width="1.3" fill="none"/>
<path d="M1064.7,98.1 V120.1 M1059.7,98.1 H1069.7 M1059.7,120.1 H1069.7" stroke="#3a1c1c" stroke-width="1.3" fill="none"/>
<path d="M1096.1,109.8 V131.8 M1091.1,109.8 H1101.1 M1091.1,131.8 H1101.1" stroke="#3a1c1c" stroke-width="1.3" fill="none"/>
<path d="M1118.6,125.69999999999999 V155.7 M1113.6,125.69999999999999 H1123.6 M1113.6,155.7 H1123.6" stroke="#3a1c1c" stroke-width="1.3" fill="none"/>
<path d="M1136.4,157 V187 M1131.4,157 H1141.4 M1131.4,187 H1141.4" stroke="#3a1c1c" stroke-width="1.3" fill="none"/>
<path d="M1150.8,185.2 V215.2 M1145.8,185.2 H1155.8 M1145.8,215.2 H1155.8" stroke="#3a1c1c" stroke-width="1.3" fill="none"/>
<path d="M1162.4,218.2 V248.2 M1157.4,218.2 H1167.4 M1157.4,248.2 H1167.4" stroke="#3a1c1c" stroke-width="1.3" fill="none"/>
<path d="M1172.2,263.9 V293.9 M1167.2,263.9 H1177.2 M1167.2,293.9 H1177.2" stroke="#3a1c1c" stroke-width="1.3" fill="none"/>
<path d="M1182.3,304 V334 M1177.3,304 H1187.3 M1177.3,334 H1187.3" stroke="#3a1c1c" stroke-width="1.3" fill="none"/>
<path d="M1188.9,325.1 V355.1 M1183.9,325.1 H1193.9 M1183.9,355.1 H1193.9" stroke="#3a1c1c" stroke-width="1.3" fill="none"/>
<path d="M1197.8,346.3 V376.3 M1192.8,346.3 H1202.8 M1192.8,376.3 H1202.8" stroke="#3a1c1c" stroke-width="1.3" fill="none"/>
<path d="M1204.1,379.6 V409.6 M1199.1,379.6 H1209.1 M1199.1,409.6 H1209.1" stroke="#3a1c1c" stroke-width="1.3" fill="none"/>
<path d="M1209.3,416.3 V446.3 M1204.3,416.3 H1214.3 M1204.3,446.3 H1214.3" stroke="#3a1c1c" stroke-width="1.3" fill="none"/>
<path d="M1215.5,458.1 V488.1 M1210.5,458.1 H1220.5 M1210.5,488.1 H1220.5" stroke="#3a1c1c" stroke-width="1.3" fill="none"/>
<path d="M1221.8,506.20000000000005 V536.2 M1216.8,506.20000000000005 H1226.8 M1216.8,536.2 H1226.8" stroke="#3a1c1c" stroke-width="1.3" fill="none"/>
<path d="M1230.1,498.9 V528.9 M1225.1,498.9 H1235.1 M1225.1,528.9 H1235.1" stroke="#3a1c1c" stroke-width="1.3" fill="none"/>
<path d="M1226.4,515.6 V545.6 M1221.4,515.6 H1231.4 M1221.4,545.6 H1231.4" stroke="#3a1c1c" stroke-width="1.3" fill="none"/>
<circle cx="815.8" cy="54.7" r="4.8" fill="#fff" stroke="#2a1a1a" stroke-width="1.2"/>
<circle cx="841.6" cy="60" r="4.8" fill="#fff" stroke="#2a1a1a" stroke-width="1.2"/>
<circle cx="868.8" cy="72.8" r="4.8" fill="#fff" stroke="#2a1a1a" stroke-width="1.2"/>
<circle cx="905" cy="84.3" r="4.8" fill="#fff" stroke="#2a1a1a" stroke-width="1.2"/>
<circle cx="939.7" cy="79.6" r="4.8" fill="#fff" stroke="#2a1a1a" stroke-width="1.2"/>
<circle cx="976.3" cy="67.6" r="4.8" fill="#fff" stroke="#2a1a1a" stroke-width="1.2"/>
<circle cx="1011.1" cy="73.8" r="4.8" fill="#fff" stroke="#2a1a1a" stroke-width="1.2"/>
<circle cx="1037.3" cy="94" r="4.8" fill="#fff" stroke="#2a1a1a" stroke-width="1.2"/>
<circle cx="1064.7" cy="109.1" r="4.8" fill="#fff" stroke="#2a1a1a" stroke-width="1.2"/>
<circle cx="1096.1" cy="120.8" r="4.8" fill="#fff" stroke="#2a1a1a" stroke-width="1.2"/>
<circle cx="1118.6" cy="140.7" r="4.8" fill="#fff" stroke="#2a1a1a" stroke-width="1.2"/>
<circle cx="1136.4" cy="172" r="4.8" fill="#fff" stroke="#2a1a1a" stroke-width="1.2"/>
<circle cx="1150.8" cy="200.2" r="4.8" fill="#fff" stroke="#2a1a1a" stroke-width="1.2"/>
<circle cx="1162.4" cy="233.2" r="4.8" fill="#fff" stroke="#2a1a1a" stroke-width="1.2"/>
<circle cx="1172.2" cy="278.9" r="4.8" fill="#fff" stroke="#2a1a1a" stroke-width="1.2"/>
<circle cx="1182.3" cy="319" r="4.8" fill="#fff" stroke="#2a1a1a" stroke-width="1.2"/>
<circle cx="1188.9" cy="340.1" r="4.8" fill="#fff" stroke="#2a1a1a" stroke-width="1.2"/>
<circle cx="1197.8" cy="361.3" r="4.8" fill="#fff" stroke="#2a1a1a" stroke-width="1.2"/>
<circle cx="1204.1" cy="394.6" r="4.8" fill="#fff" stroke="#2a1a1a" stroke-width="1.2"/>
<circle cx="1209.3" cy="431.3" r="4.8" fill="#fff" stroke="#2a1a1a" stroke-width="1.2"/>
<circle cx="1215.5" cy="473.1" r="4.8" fill="#fff" stroke="#2a1a1a" stroke-width="1.2"/>
<circle cx="1221.8" cy="521.2" r="4.8" fill="#fff" stroke="#2a1a1a" stroke-width="1.2"/>
<circle cx="1230.1" cy="513.9" r="4.8" fill="#fff" stroke="#2a1a1a" stroke-width="1.2"/>
<circle cx="1226.4" cy="530.6" r="4.8" fill="#fff" stroke="#2a1a1a" stroke-width="1.2"/>
<polygon points="821.05,48.00 811.34,42.75 811.34,53.25" fill="#1c0808" stroke="none" stroke-width="0" stroke-linejoin="miter"/>
<polygon points="846.85,51.30 837.14,46.05 837.14,56.55" fill="#1c0808" stroke="none" stroke-width="0" stroke-linejoin="miter"/>
<polygon points="874.05,64.20 864.34,58.95 864.34,69.45" fill="#1c0808" stroke="none" stroke-width="0" stroke-linejoin="miter"/>
<polygon points="910.25,74.70 900.54,69.45 900.54,79.95" fill="#1c0808" stroke="none" stroke-width="0" stroke-linejoin="miter"/>
<polygon points="944.95,72.00 935.24,66.75 935.24,77.25" fill="#1c0808" stroke="none" stroke-width="0" stroke-linejoin="miter"/>
<polygon points="981.55,61.00 971.84,55.75 971.84,66.25" fill="#1c0808" stroke="none" stroke-width="0" stroke-linejoin="miter"/>
<polygon points="1016.35,60.10 1006.64,54.85 1006.64,65.35" fill="#1c0808" stroke="none" stroke-width="0" stroke-linejoin="miter"/>
<polygon points="1042.55,67.90 1032.84,62.65 1032.84,73.15" fill="#1c0808" stroke="none" stroke-width="0" stroke-linejoin="miter"/>
<polygon points="1069.95,85.60 1060.24,80.35 1060.24,90.85" fill="#1c0808" stroke="none" stroke-width="0" stroke-linejoin="miter"/>
<polygon points="1101.35,103.90 1091.64,98.65 1091.64,109.15" fill="#1c0808" stroke="none" stroke-width="0" stroke-linejoin="miter"/>
<polygon points="1124.25,123.70 1114.54,118.45 1114.54,128.95" fill="#1c0808" stroke="none" stroke-width="0" stroke-linejoin="miter"/>
<polygon points="1141.65,154.80 1131.94,149.55 1131.94,160.05" fill="#1c0808" stroke="none" stroke-width="0" stroke-linejoin="miter"/>
<polygon points="1156.05,183.60 1146.34,178.35 1146.34,188.85" fill="#1c0808" stroke="none" stroke-width="0" stroke-linejoin="miter"/>
<polygon points="1167.65,217.50 1157.94,212.25 1157.94,222.75" fill="#1c0808" stroke="none" stroke-width="0" stroke-linejoin="miter"/>
<polygon points="1177.45,261.10 1167.74,255.85 1167.74,266.35" fill="#1c0808" stroke="none" stroke-width="0" stroke-linejoin="miter"/>
<polygon points="1187.55,290.00 1177.84,284.75 1177.84,295.25" fill="#1c0808" stroke="none" stroke-width="0" stroke-linejoin="miter"/>
<polygon points="1195.25,303.40 1185.54,298.15 1185.54,308.65" fill="#1c0808" stroke="none" stroke-width="0" stroke-linejoin="miter"/>
<polygon points="1201.95,335.70 1192.24,330.45 1192.24,340.95" fill="#1c0808" stroke="none" stroke-width="0" stroke-linejoin="miter"/>
<polygon points="1208.65,383.50 1198.94,378.25 1198.94,388.75" fill="#1c0808" stroke="none" stroke-width="0" stroke-linejoin="miter"/>
<polygon points="1215.55,421.90 1205.84,416.65 1205.84,427.15" fill="#1c0808" stroke="none" stroke-width="0" stroke-linejoin="miter"/>
<polygon points="1219.75,463.70 1210.04,458.45 1210.04,468.95" fill="#1c0808" stroke="none" stroke-width="0" stroke-linejoin="miter"/>
<polygon points="1230.15,539.00 1220.44,533.75 1220.44,544.25" fill="#1c0808" stroke="none" stroke-width="0" stroke-linejoin="miter"/>
<polygon points="1234.35,521.20 1224.64,515.95 1224.64,526.45" fill="#1c0808" stroke="none" stroke-width="0" stroke-linejoin="miter"/>
<polygon points="810.55,32.00 820.26,26.75 820.26,37.25" fill="#4b6e6e" stroke="none" stroke-width="0" stroke-linejoin="miter"/>
<polygon points="836.65,32.50 846.36,27.25 846.36,37.75" fill="#4b6e6e" stroke="none" stroke-width="0" stroke-linejoin="miter"/>
<polygon points="863.55,47.60 873.26,42.35 873.26,52.85" fill="#4b6e6e" stroke="none" stroke-width="0" stroke-linejoin="miter"/>
<polygon points="899.75,56.00 909.46,50.75 909.46,61.25" fill="#4b6e6e" stroke="none" stroke-width="0" stroke-linejoin="miter"/>
<polygon points="934.45,58.00 944.16,52.75 944.16,63.25" fill="#4b6e6e" stroke="none" stroke-width="0" stroke-linejoin="miter"/>
<polygon points="971.05,52.00 980.76,46.75 980.76,57.25" fill="#4b6e6e" stroke="none" stroke-width="0" stroke-linejoin="miter"/>
<polygon points="1005.55,44.00 1015.26,38.75 1015.26,49.25" fill="#4b6e6e" stroke="none" stroke-width="0" stroke-linejoin="miter"/>
<polygon points="1032.05,44.00 1041.76,38.75 1041.76,49.25" fill="#4b6e6e" stroke="none" stroke-width="0" stroke-linejoin="miter"/>
<polygon points="1059.55,58.00 1069.26,52.75 1069.26,63.25" fill="#4b6e6e" stroke="none" stroke-width="0" stroke-linejoin="miter"/>
<polygon points="1091.95,73.30 1101.66,68.05 1101.66,78.55" fill="#4b6e6e" stroke="none" stroke-width="0" stroke-linejoin="miter"/>
<polygon points="1113.35,90.50 1123.06,85.25 1123.06,95.75" fill="#4b6e6e" stroke="none" stroke-width="0" stroke-linejoin="miter"/>
<polygon points="1131.15,118.70 1140.86,113.45 1140.86,123.95" fill="#4b6e6e" stroke="none" stroke-width="0" stroke-linejoin="miter"/>
<polygon points="1145.55,143.80 1155.26,138.55 1155.26,149.05" fill="#4b6e6e" stroke="none" stroke-width="0" stroke-linejoin="miter"/>
<polygon points="1157.15,169.80 1166.86,164.55 1166.86,175.05" fill="#4b6e6e" stroke="none" stroke-width="0" stroke-linejoin="miter"/>
<polygon points="1167.55,201.80 1177.26,196.55 1177.26,207.05" fill="#4b6e6e" stroke="none" stroke-width="0" stroke-linejoin="miter"/>
<polygon points="1176.65,227.50 1186.36,222.25 1186.36,232.75" fill="#4b6e6e" stroke="none" stroke-width="0" stroke-linejoin="miter"/>
<polygon points="1184.75,246.30 1194.46,241.05 1194.46,251.55" fill="#4b6e6e" stroke="none" stroke-width="0" stroke-linejoin="miter"/>
<polygon points="1194.35,276.80 1204.06,271.55 1204.06,282.05" fill="#4b6e6e" stroke="none" stroke-width="0" stroke-linejoin="miter"/>
<polygon points="1200.15,315.30 1209.86,310.05 1209.86,320.55" fill="#4b6e6e" stroke="none" stroke-width="0" stroke-linejoin="miter"/>
<polygon points="1205.65,359.20 1215.36,353.95 1215.36,364.45" fill="#4b6e6e" stroke="none" stroke-width="0" stroke-linejoin="miter"/>
<polygon points="1211.95,409.50 1221.66,404.25 1221.66,414.75" fill="#4b6e6e" stroke="none" stroke-width="0" stroke-linejoin="miter"/>
<polygon points="1225.75,451.30 1235.46,446.05 1235.46,456.55" fill="#4b6e6e" stroke="none" stroke-width="0" stroke-linejoin="miter"/>
<polygon points="1216.95,463.80 1226.66,458.55 1226.66,469.05" fill="#4b6e6e" stroke="none" stroke-width="0" stroke-linejoin="miter"/>
<polygon points="1222.35,470.10 1232.06,464.85 1232.06,475.35" fill="#4b6e6e" stroke="none" stroke-width="0" stroke-linejoin="miter"/>
<polygon points="815.80,33.75 821.05,43.46 810.55,43.46" fill="#6e5050" stroke="none" stroke-width="0" stroke-linejoin="miter"/>
<polygon points="841.90,38.75 847.15,48.46 836.65,48.46" fill="#6e5050" stroke="none" stroke-width="0" stroke-linejoin="miter"/>
<polygon points="868.80,51.75 874.05,61.46 863.55,61.46" fill="#6e5050" stroke="none" stroke-width="0" stroke-linejoin="miter"/>
<polygon points="905.00,52.75 910.25,62.46 899.75,62.46" fill="#6e5050" stroke="none" stroke-width="0" stroke-linejoin="miter"/>
<polygon points="939.70,52.75 944.95,62.46 934.45,62.46" fill="#6e5050" stroke="none" stroke-width="0" stroke-linejoin="miter"/>
<polygon points="976.30,52.75 981.55,62.46 971.05,62.46" fill="#6e5050" stroke="none" stroke-width="0" stroke-linejoin="miter"/>
<polygon points="1010.80,47.45 1016.05,57.16 1005.55,57.16" fill="#6e5050" stroke="none" stroke-width="0" stroke-linejoin="miter"/>
<polygon points="1037.30,47.15 1042.55,56.86 1032.05,56.86" fill="#6e5050" stroke="none" stroke-width="0" stroke-linejoin="miter"/>
<polygon points="1064.80,50.75 1070.05,60.46 1059.55,60.46" fill="#6e5050" stroke="none" stroke-width="0" stroke-linejoin="miter"/>
<polygon points="1097.20,58.65 1102.45,68.36 1091.95,68.36" fill="#6e5050" stroke="none" stroke-width="0" stroke-linejoin="miter"/>
<polygon points="1118.60,71.15 1123.85,80.86 1113.35,80.86" fill="#6e5050" stroke="none" stroke-width="0" stroke-linejoin="miter"/>
<polygon points="1136.40,91.55 1141.65,101.26 1131.15,101.26" fill="#6e5050" stroke="none" stroke-width="0" stroke-linejoin="miter"/>
<polygon points="1150.80,119.75 1156.05,129.46 1145.55,129.46" fill="#6e5050" stroke="none" stroke-width="0" stroke-linejoin="miter"/>
<polygon points="1162.40,132.35 1167.65,142.06 1157.15,142.06" fill="#6e5050" stroke="none" stroke-width="0" stroke-linejoin="miter"/>
<polygon points="1172.80,139.55 1178.05,149.26 1167.55,149.26" fill="#6e5050" stroke="none" stroke-width="0" stroke-linejoin="miter"/>
<polygon points="1181.90,156.45 1187.15,166.16 1176.65,166.16" fill="#6e5050" stroke="none" stroke-width="0" stroke-linejoin="miter"/>
<polygon points="1190.30,179.35 1195.55,189.06 1185.05,189.06" fill="#6e5050" stroke="none" stroke-width="0" stroke-linejoin="miter"/>
<polygon points="1197.60,209.15 1202.85,218.86 1192.35,218.86" fill="#6e5050" stroke="none" stroke-width="0" stroke-linejoin="miter"/>
<polygon points="1204.80,230.45 1210.05,240.16 1199.55,240.16" fill="#6e5050" stroke="none" stroke-width="0" stroke-linejoin="miter"/>
<polygon points="1211.00,246.75 1216.25,256.46 1205.75,256.46" fill="#6e5050" stroke="none" stroke-width="0" stroke-linejoin="miter"/>
<polygon points="1216.30,274.45 1221.55,284.16 1211.05,284.16" fill="#6e5050" stroke="none" stroke-width="0" stroke-linejoin="miter"/>
<polygon points="1222.20,320.55 1227.45,330.26 1216.95,330.26" fill="#6e5050" stroke="none" stroke-width="0" stroke-linejoin="miter"/>
<polygon points="1225.50,351.95 1230.75,361.66 1220.25,361.66" fill="#6e5050" stroke="none" stroke-width="0" stroke-linejoin="miter"/>
<polygon points="1230.50,351.05 1235.75,360.76 1225.25,360.76" fill="#6e5050" stroke="none" stroke-width="0" stroke-linejoin="miter"/>
<polygon points="815.80,31.25 821.05,21.54 810.55,21.54" fill="#ff0d0d" stroke="none" stroke-width="0" stroke-linejoin="miter"/>
<polygon points="841.90,41.25 847.15,31.54 836.65,31.54" fill="#ff0d0d" stroke="none" stroke-width="0" stroke-linejoin="miter"/>
<polygon points="868.80,57.75 874.05,48.04 863.55,48.04" fill="#ff0d0d" stroke="none" stroke-width="0" stroke-linejoin="miter"/>
<polygon points="905.00,59.25 910.25,49.54 899.75,49.54" fill="#ff0d0d" stroke="none" stroke-width="0" stroke-linejoin="miter"/>
<polygon points="939.70,58.25 944.95,48.54 934.45,48.54" fill="#ff0d0d" stroke="none" stroke-width="0" stroke-linejoin="miter"/>
<polygon points="976.30,55.25 981.55,45.54 971.05,45.54" fill="#ff0d0d" stroke="none" stroke-width="0" stroke-linejoin="miter"/>
<polygon points="1010.80,41.25 1016.05,31.54 1005.55,31.54" fill="#ff0d0d" stroke="none" stroke-width="0" stroke-linejoin="miter"/>
<polygon points="1037.30,44.55 1042.55,34.84 1032.05,34.84" fill="#ff0d0d" stroke="none" stroke-width="0" stroke-linejoin="miter"/>
<polygon points="1064.80,55.25 1070.05,45.54 1059.55,45.54" fill="#ff0d0d" stroke="none" stroke-width="0" stroke-linejoin="miter"/>
<polygon points="1096.60,65.75 1101.85,56.04 1091.35,56.04" fill="#ff0d0d" stroke="none" stroke-width="0" stroke-linejoin="miter"/>
<polygon points="1118.60,76.95 1123.85,67.24 1113.35,67.24" fill="#ff0d0d" stroke="none" stroke-width="0" stroke-linejoin="miter"/>
<polygon points="1136.40,95.75 1141.65,86.04 1131.15,86.04" fill="#ff0d0d" stroke="none" stroke-width="0" stroke-linejoin="miter"/>
<polygon points="1150.80,119.95 1156.05,110.24 1145.55,110.24" fill="#ff0d0d" stroke="none" stroke-width="0" stroke-linejoin="miter"/>
<polygon points="1162.40,149.05 1167.65,139.34 1157.15,139.34" fill="#ff0d0d" stroke="none" stroke-width="0" stroke-linejoin="miter"/>
<polygon points="1172.80,175.05 1178.05,165.34 1167.55,165.34" fill="#ff0d0d" stroke="none" stroke-width="0" stroke-linejoin="miter"/>
<polygon points="1181.90,194.55 1187.15,184.84 1176.65,184.84" fill="#ff0d0d" stroke="none" stroke-width="0" stroke-linejoin="miter"/>
<polygon points="1189.70,217.05 1194.95,207.34 1184.45,207.34" fill="#ff0d0d" stroke="none" stroke-width="0" stroke-linejoin="miter"/>
<polygon points="1198.50,251.55 1203.75,241.84 1193.25,241.84" fill="#ff0d0d" stroke="none" stroke-width="0" stroke-linejoin="miter"/>
<polygon points="1205.40,283.75 1210.65,274.04 1200.15,274.04" fill="#ff0d0d" stroke="none" stroke-width="0" stroke-linejoin="miter"/>
<polygon points="1210.90,312.25 1216.15,302.54 1205.65,302.54" fill="#ff0d0d" stroke="none" stroke-width="0" stroke-linejoin="miter"/>
<polygon points="1216.30,356.15 1221.55,346.44 1211.05,346.44" fill="#ff0d0d" stroke="none" stroke-width="0" stroke-linejoin="miter"/>
<polygon points="1222.60,406.35 1227.85,396.64 1217.35,396.64" fill="#ff0d0d" stroke="none" stroke-width="0" stroke-linejoin="miter"/>
<polygon points="1230.50,402.15 1235.75,392.44 1225.25,392.44" fill="#ff0d0d" stroke="none" stroke-width="0" stroke-linejoin="miter"/>
<polygon points="1226.40,416.75 1231.65,407.04 1221.15,407.04" fill="#ff0d0d" stroke="none" stroke-width="0" stroke-linejoin="miter"/>
<rect x="863.5" y="32.7" width="10.6" height="10.6" fill="#1e5a5a"/>
<rect x="899.7" y="49.7" width="10.6" height="10.6" fill="#1e5a5a"/>
<rect x="934.4000000000001" y="51.7" width="10.6" height="10.6" fill="#1e5a5a"/>
<rect x="971.0" y="44.7" width="10.6" height="10.6" fill="#1e5a5a"/>
<rect x="1005.5" y="37.300000000000004" width="10.6" height="10.6" fill="#1e5a5a"/>
<rect x="1032.0" y="37.400000000000006" width="10.6" height="10.6" fill="#1e5a5a"/>
<rect x="1059.5" y="49.300000000000004" width="10.6" height="10.6" fill="#1e5a5a"/>
<rect x="1091.3" y="54.7" width="10.6" height="10.6" fill="#1e5a5a"/>
<rect x="1113.3" y="51.7" width="10.6" height="10.6" fill="#1e5a5a"/>
<rect x="1131.1000000000001" y="60.2" width="10.6" height="10.6" fill="#1e5a5a"/>
<rect x="1145.5" y="79.60000000000001" width="10.6" height="10.6" fill="#1e5a5a"/>
<rect x="1157.1000000000001" y="90.9" width="10.6" height="10.6" fill="#1e5a5a"/>
<rect x="1167.5" y="106.2" width="10.6" height="10.6" fill="#1e5a5a"/>
<rect x="1177.5" y="128.2" width="10.6" height="10.6" fill="#1e5a5a"/>
<rect x="1184.4" y="141.7" width="10.6" height="10.6" fill="#1e5a5a"/>
<rect x="1192.3" y="152.7" width="10.6" height="10.6" fill="#1e5a5a"/>
<rect x="1199.5" y="165.2" width="10.6" height="10.6" fill="#1e5a5a"/>
<rect x="1205.7" y="175.5" width="10.6" height="10.6" fill="#1e5a5a"/>
<rect x="1210.4" y="203.1" width="10.6" height="10.6" fill="#1e5a5a"/>
<rect x="1217.3" y="237.89999999999998" width="10.6" height="10.6" fill="#1e5a5a"/>
<rect x="1224.5" y="230.39999999999998" width="10.6" height="10.6" fill="#1e5a5a"/>
<rect x="1219.5" y="240.39999999999998" width="10.6" height="10.6" fill="#1e5a5a"/>
</g>
<line x1="810.9" y1="26" x2="810.9" y2="648.5" stroke="#000" stroke-width="3.2"/>
<line x1="809.3" y1="647.6" x2="902" y2="647.6" stroke="#000" stroke-width="3.2"/>
<line x1="902" y1="647.8" x2="1254.3" y2="647.8" stroke="#000" stroke-width="2.2"/>
<line x1="812" y1="160.9" x2="826" y2="160.9" stroke="#555" stroke-width="1.1"/>
<line x1="812" y1="283.0" x2="826" y2="283.0" stroke="#555" stroke-width="1.1"/>
<line x1="812" y1="405.1" x2="826" y2="405.1" stroke="#555" stroke-width="1.1"/>
<line x1="812" y1="527.2" x2="826" y2="527.2" stroke="#555" stroke-width="1.1"/>
<line x1="821.0" y1="640" x2="821.0" y2="647" stroke="#000" stroke-width="1.2"/>
<line x1="838.3" y1="632.4" x2="838.3" y2="647" stroke="#000" stroke-width="1.2"/>
<line x1="923.7" y1="640" x2="923.7" y2="647" stroke="#000" stroke-width="1.2"/>
<line x1="946.1" y1="640" x2="946.1" y2="647" stroke="#000" stroke-width="1.2"/>
<line x1="963.4" y1="640" x2="963.4" y2="647" stroke="#000" stroke-width="1.2"/>
<line x1="977.6" y1="640" x2="977.6" y2="647" stroke="#000" stroke-width="1.2"/>
<line x1="989.6" y1="640" x2="989.6" y2="647" stroke="#000" stroke-width="1.2"/>
<line x1="1009.1" y1="640" x2="1009.1" y2="647" stroke="#000" stroke-width="1.2"/>
<line x1="1017.3" y1="632.4" x2="1017.3" y2="647" stroke="#000" stroke-width="1.2"/>
<line x1="1071.2" y1="640" x2="1071.2" y2="647" stroke="#000" stroke-width="1.2"/>
<line x1="1102.7" y1="640" x2="1102.7" y2="647" stroke="#000" stroke-width="1.2"/>
<line x1="1125.1" y1="640" x2="1125.1" y2="647" stroke="#000" stroke-width="1.2"/>
<line x1="1142.4" y1="640" x2="1142.4" y2="647" stroke="#000" stroke-width="1.2"/>
<line x1="1156.6" y1="640" x2="1156.6" y2="647" stroke="#000" stroke-width="1.2"/>
<line x1="1168.6" y1="640" x2="1168.6" y2="647" stroke="#000" stroke-width="1.2"/>
<line x1="1179.0" y1="640" x2="1179.0" y2="647" stroke="#000" stroke-width="1.2"/>
<line x1="1188.1" y1="640" x2="1188.1" y2="647" stroke="#000" stroke-width="1.2"/>
<line x1="1196.3" y1="632.4" x2="1196.3" y2="647" stroke="#000" stroke-width="1.2"/>
<text x="758.45" y="50.70" font-family="Liberation Sans" font-size="32" fill="#000" stroke="#000" stroke-width="0.45" textLength="43.32" lengthAdjust="spacingAndGlyphs" >1.0</text>
<text x="757.38" y="172.80" font-family="Liberation Sans" font-size="32" fill="#000" stroke="#000" stroke-width="0.45" textLength="45.44" lengthAdjust="spacingAndGlyphs" >0.8</text>
<text x="757.38" y="294.90" font-family="Liberation Sans" font-size="32" fill="#000" stroke="#000" stroke-width="0.45" textLength="45.44" lengthAdjust="spacingAndGlyphs" >0.6</text>
<text x="757.40" y="417.00" font-family="Liberation Sans" font-size="32" fill="#000" stroke="#000" stroke-width="0.45" textLength="44.38" lengthAdjust="spacingAndGlyphs" >0.4</text>
<text x="757.38" y="539.10" font-family="Liberation Sans" font-size="32" fill="#000" stroke="#000" stroke-width="0.45" textLength="45.44" lengthAdjust="spacingAndGlyphs" >0.2</text>
<text x="757.40" y="661.20" font-family="Liberation Sans" font-size="32" fill="#000" stroke="#000" stroke-width="0.45" textLength="44.38" lengthAdjust="spacingAndGlyphs" >0.0</text>
<text x="826.20" y="680.60" font-family="Liberation Sans" font-size="31" fill="#000" stroke="#000" stroke-width="0.45" textLength="17.25" lengthAdjust="spacingAndGlyphs" >1</text>
<text x="991.44" y="680.80" font-family="Liberation Sans" font-size="31" fill="#000" stroke="#000" stroke-width="0.45" textLength="35.56" lengthAdjust="spacingAndGlyphs" >10</text>
<text x="1167.66" y="680.30" font-family="Liberation Sans" font-size="31" fill="#000" stroke="#000" stroke-width="0.45" textLength="52.79" lengthAdjust="spacingAndGlyphs" >100</text>
<text x="961.50" y="729.50" font-family="Liberation Sans" font-size="43" fill="#000" stroke="#000" stroke-width="0.45" textLength="95.81" lengthAdjust="spacingAndGlyphs" >t (ns)</text>
<text transform="translate(727.10,484.62) rotate(-90)" x="0" y="0" font-family="Liberation Sans" font-size="43" fill="#000" stroke="#000" stroke-width="0.45" textLength="236.41" lengthAdjust="spacingAndGlyphs" >S(q,t)/S(q,0)</text>
<text x="851.50" y="496.60" font-family="Liberation Sans" font-size="31" fill="#000" stroke="#000" stroke-width="0.45" textLength="109.05" lengthAdjust="spacingAndGlyphs" >T=19°C</text>
<rect x="853" y="526.5" width="18" height="18" fill="#1e5a5a"/>
<text x="879.82" y="540.50" font-family="Liberation Sans" font-size="33" fill="#000" stroke="#000" stroke-width="0.45" textLength="17.90" lengthAdjust="spacingAndGlyphs" >q</text>
<line x1="902.3" y1="541" x2="902.3" y2="557.2" stroke="#333" stroke-width="1.1"/>
<line x1="906.5" y1="541" x2="906.5" y2="557.2" stroke="#333" stroke-width="1.1"/>
<text x="907.98" y="541.10" font-family="Liberation Sans" font-size="31" fill="#000" stroke="#000" stroke-width="0.45" textLength="97.93" lengthAdjust="spacingAndGlyphs" >=0.002</text>
<text x="1014.60" y="541.10" font-family="Liberation Sans" font-size="31" fill="#000" stroke="#000" stroke-width="0.45" textLength="18.52" lengthAdjust="spacingAndGlyphs" >Å</text>
<text x="1037.67" y="522.70" font-family="Liberation Sans" font-size="22" fill="#000" stroke="#000" stroke-width="0.45" textLength="18.15" lengthAdjust="spacingAndGlyphs" >-1</text>
<circle cx="862" cy="597.5" r="8.6" fill="#fff" stroke="#3a2a2a" stroke-width="1.1"/>
<text x="879.82" y="603.20" font-family="Liberation Sans" font-size="33" fill="#000" stroke="#000" stroke-width="0.45" textLength="17.90" lengthAdjust="spacingAndGlyphs" >q</text>
<line x1="902.3" y1="603.6" x2="902.3" y2="620" stroke="#333" stroke-width="1.1"/>
<line x1="906.5" y1="603.6" x2="906.5" y2="620" stroke="#333" stroke-width="1.1"/>
<text x="907.99" y="603.60" font-family="Liberation Sans" font-size="31" fill="#000" stroke="#000" stroke-width="0.45" textLength="96.20" lengthAdjust="spacingAndGlyphs" >=0.077</text>
<text x="1014.60" y="603.60" font-family="Liberation Sans" font-size="31" fill="#000" stroke="#000" stroke-width="0.45" textLength="18.52" lengthAdjust="spacingAndGlyphs" >Å</text>
<text x="1037.67" y="585.20" font-family="Liberation Sans" font-size="22" fill="#000" stroke="#000" stroke-width="0.45" textLength="18.15" lengthAdjust="spacingAndGlyphs" >-1</text>
<rect x="878.7" y="573.2" width="1.6" height="1.6" fill="#6b3a2a"/>
<rect x="885.0" y="573.2" width="1.6" height="1.6" fill="#6b3a2a"/>
<rect x="891.3000000000001" y="573.2" width="1.6" height="1.6" fill="#6b3a2a"/>
<text x="4.80" y="422.70" font-family="Liberation Sans" font-size="65" fill="#000" stroke="#000" stroke-width="0.45" textLength="48.44" lengthAdjust="spacingAndGlyphs" >C</text>
<polygon points="93.00,658.82 98.40,663.50 93.00,668.18 87.60,663.50" fill="none" stroke="#d37fc4" stroke-width="1.1"/>
<line x1="90.84" y1="663.5" x2="95.16" y2="663.5" stroke="#d37fc4" stroke-width="1"/>
<polygon points="97.80,659.32 103.20,664.00 97.80,668.68 92.40,664.00" fill="none" stroke="#d37fc4" stroke-width="1.1"/>
<line x1="95.64" y1="664" x2="99.96" y2="664" stroke="#d37fc4" stroke-width="1"/>
<polygon points="103.60,659.32 109.00,664.00 103.60,668.68 98.20,664.00" fill="none" stroke="#d37fc4" stroke-width="1.1"/>
<line x1="101.44" y1="664" x2="105.75999999999999" y2="664" stroke="#d37fc4" stroke-width="1"/>
<polygon points="109.50,659.32 114.90,664.00 109.50,668.68 104.10,664.00" fill="none" stroke="#d37fc4" stroke-width="1.1"/>
<line x1="107.34" y1="664" x2="111.66" y2="664" stroke="#d37fc4" stroke-width="1"/>
<polygon points="120.70,657.98 127.08,663.50 120.70,669.02 114.33,663.50" fill="none" stroke="#d37fc4" stroke-width="1.1"/>
<line x1="118.15" y1="663.5" x2="123.25" y2="663.5" stroke="#d37fc4" stroke-width="1"/>
<polygon points="130.10,657.98 136.47,663.50 130.10,669.02 123.72,663.50" fill="none" stroke="#d37fc4" stroke-width="1.1"/>
<line x1="127.55" y1="663.5" x2="132.65" y2="663.5" stroke="#d37fc4" stroke-width="1"/>
<polygon points="140.10,656.50 147.60,663.00 140.10,669.50 132.60,663.00" fill="none" stroke="#d37fc4" stroke-width="1.1"/>
<line x1="137.1" y1="663" x2="143.1" y2="663" stroke="#d37fc4" stroke-width="1"/>
<polygon points="151.90,656.50 159.40,663.00 151.90,669.50 144.40,663.00" fill="none" stroke="#d37fc4" stroke-width="1.1"/>
<line x1="148.9" y1="663" x2="154.9" y2="663" stroke="#d37fc4" stroke-width="1"/>
<polygon points="166.00,655.50 173.50,662.00 166.00,668.50 158.50,662.00" fill="none" stroke="#d37fc4" stroke-width="1.1"/>
<line x1="163.0" y1="662" x2="169.0" y2="662" stroke="#d37fc4" stroke-width="1"/>
<polygon points="185.70,650.50 193.20,657.00 185.70,663.50 178.20,657.00" fill="none" stroke="#d37fc4" stroke-width="1.1"/>
<line x1="182.7" y1="657" x2="188.7" y2="657" stroke="#d37fc4" stroke-width="1"/>
<polygon points="204.90,651.60 212.40,658.10 204.90,664.60 197.40,658.10" fill="none" stroke="#d37fc4" stroke-width="1.1"/>
<line x1="201.9" y1="658.1" x2="207.9" y2="658.1" stroke="#d37fc4" stroke-width="1"/>
<polygon points="225.40,651.60 232.90,658.10 225.40,664.60 217.90,658.10" fill="none" stroke="#d37fc4" stroke-width="1.1"/>
<line x1="222.4" y1="658.1" x2="228.4" y2="658.1" stroke="#d37fc4" stroke-width="1"/>
<polygon points="249.90,650.50 257.40,657.00 249.90,663.50 242.40,657.00" fill="none" stroke="#d37fc4" stroke-width="1.1"/>
<line x1="246.9" y1="657" x2="252.9" y2="657" stroke="#d37fc4" stroke-width="1"/>
<polygon points="276.30,647.40 283.80,653.90 276.30,660.40 268.80,653.90" fill="none" stroke="#d37fc4" stroke-width="1.1"/>
<line x1="273.3" y1="653.9" x2="279.3" y2="653.9" stroke="#d37fc4" stroke-width="1"/>
<polygon points="294.50,641.10 302.00,647.60 294.50,654.10 287.00,647.60" fill="none" stroke="#d37fc4" stroke-width="1.1"/>
<line x1="291.5" y1="647.6" x2="297.5" y2="647.6" stroke="#d37fc4" stroke-width="1"/>
<polygon points="326.50,643.20 334.00,649.70 326.50,656.20 319.00,649.70" fill="none" stroke="#d37fc4" stroke-width="1.1"/>
<line x1="323.5" y1="649.7" x2="329.5" y2="649.7" stroke="#d37fc4" stroke-width="1"/>
<polygon points="360.40,645.30 367.90,651.80 360.40,658.30 352.90,651.80" fill="none" stroke="#d37fc4" stroke-width="1.1"/>
<line x1="357.4" y1="651.8" x2="363.4" y2="651.8" stroke="#d37fc4" stroke-width="1"/>
<polygon points="397.00,634.80 404.50,641.30 397.00,647.80 389.50,641.30" fill="none" stroke="#d37fc4" stroke-width="1.1"/>
<line x1="394.0" y1="641.3" x2="400.0" y2="641.3" stroke="#d37fc4" stroke-width="1"/>
<polygon points="437.20,635.20 444.70,641.70 437.20,648.20 429.70,641.70" fill="none" stroke="#d37fc4" stroke-width="1.1"/>
<line x1="434.2" y1="641.7" x2="440.2" y2="641.7" stroke="#d37fc4" stroke-width="1"/>
<polygon points="489.60,653.50 497.10,660.00 489.60,666.50 482.10,660.00" fill="none" stroke="#d37fc4" stroke-width="1.1"/>
<line x1="486.6" y1="660" x2="492.6" y2="660" stroke="#d37fc4" stroke-width="1"/>
<polygon points="537.90,650.90 545.40,657.40 537.90,663.90 530.40,657.40" fill="none" stroke="#d37fc4" stroke-width="1.1"/>
<line x1="534.9" y1="657.4" x2="540.9" y2="657.4" stroke="#d37fc4" stroke-width="1"/>
<polygon points="589.50,646.20 597.00,652.70 589.50,659.20 582.00,652.70" fill="none" stroke="#d37fc4" stroke-width="1.1"/>
<line x1="586.5" y1="652.7" x2="592.5" y2="652.7" stroke="#d37fc4" stroke-width="1"/>
<polygon points="645.90,653.50 653.40,660.00 645.90,666.50 638.40,660.00" fill="none" stroke="#d37fc4" stroke-width="1.1"/>
<line x1="642.9" y1="660" x2="648.9" y2="660" stroke="#d37fc4" stroke-width="1"/>
<path d="M93.0,656.8 V661.2 M90.8,656.8 H95.2 M90.8,661.2 H95.2" stroke="#cc2020" stroke-width="1.1" fill="none"/>
<rect x="88.68" y="654.68" width="8.64" height="8.64" fill="none" stroke="#cc2020" stroke-width="1.3"/>
<path d="M97.8,656.8 V661.2 M95.6,656.8 H100.0 M95.6,661.2 H100.0" stroke="#cc2020" stroke-width="1.1" fill="none"/>
<rect x="93.48" y="654.68" width="8.64" height="8.64" fill="none" stroke="#cc2020" stroke-width="1.3"/>
<path d="M103.6,656.8 V661.2 M101.4,656.8 H105.8 M101.4,661.2 H105.8" stroke="#cc2020" stroke-width="1.1" fill="none"/>
<rect x="99.28" y="654.68" width="8.64" height="8.64" fill="none" stroke="#cc2020" stroke-width="1.3"/>
<path d="M109.5,657.2 V661.6 M107.3,657.2 H111.7 M107.3,661.6 H111.7" stroke="#cc2020" stroke-width="1.1" fill="none"/>
<rect x="105.18" y="655.08" width="8.64" height="8.64" fill="none" stroke="#cc2020" stroke-width="1.3"/>
<path d="M120.7,655.5 V660.5 M118.2,655.5 H123.2 M118.2,660.5 H123.2" stroke="#cc2020" stroke-width="1.1" fill="none"/>
<rect x="115.60" y="652.90" width="10.20" height="10.20" fill="none" stroke="#cc2020" stroke-width="1.3"/>
<path d="M130.1,655.0 V660.0 M127.5,655.0 H132.7 M127.5,660.0 H132.7" stroke="#cc2020" stroke-width="1.1" fill="none"/>
<rect x="125.00" y="652.40" width="10.20" height="10.20" fill="none" stroke="#cc2020" stroke-width="1.3"/>
<path d="M140.1,652.9 V658.9 M137.1,652.9 H143.1 M137.1,658.9 H143.1" stroke="#cc2020" stroke-width="1.1" fill="none"/>
<rect x="134.10" y="649.90" width="12.00" height="12.00" fill="none" stroke="#cc2020" stroke-width="1.3"/>
<path d="M151.9,652.9 V658.9 M148.9,652.9 H154.9 M148.9,658.9 H154.9" stroke="#cc2020" stroke-width="1.1" fill="none"/>
<rect x="145.90" y="649.90" width="12.00" height="12.00" fill="none" stroke="#cc2020" stroke-width="1.3"/>
<path d="M166.0,649.4 V655.4 M163.0,649.4 H169.0 M163.0,655.4 H169.0" stroke="#cc2020" stroke-width="1.1" fill="none"/>
<rect x="160.00" y="646.40" width="12.00" height="12.00" fill="none" stroke="#cc2020" stroke-width="1.3"/>
<path d="M185.7,651.9 V657.9 M182.7,651.9 H188.7 M182.7,657.9 H188.7" stroke="#cc2020" stroke-width="1.1" fill="none"/>
<rect x="179.70" y="648.90" width="12.00" height="12.00" fill="none" stroke="#cc2020" stroke-width="1.3"/>
<path d="M204.9,651.9 V657.9 M201.9,651.9 H207.9 M201.9,657.9 H207.9" stroke="#cc2020" stroke-width="1.1" fill="none"/>
<rect x="198.90" y="648.90" width="12.00" height="12.00" fill="none" stroke="#cc2020" stroke-width="1.3"/>
<path d="M225.4,648.8 V654.8 M222.4,648.8 H228.4 M222.4,654.8 H228.4" stroke="#cc2020" stroke-width="1.1" fill="none"/>
<rect x="219.40" y="645.80" width="12.00" height="12.00" fill="none" stroke="#cc2020" stroke-width="1.3"/>
<path d="M249.9,645.7 V651.7 M246.9,645.7 H252.9 M246.9,651.7 H252.9" stroke="#cc2020" stroke-width="1.1" fill="none"/>
<rect x="243.90" y="642.70" width="12.00" height="12.00" fill="none" stroke="#cc2020" stroke-width="1.3"/>
<path d="M276.3,640.4 V646.4 M273.3,640.4 H279.3 M273.3,646.4 H279.3" stroke="#cc2020" stroke-width="1.1" fill="none"/>
<rect x="270.30" y="637.40" width="12.00" height="12.00" fill="none" stroke="#cc2020" stroke-width="1.3"/>
<path d="M294.5,649.8 V655.8 M291.5,649.8 H297.5 M291.5,655.8 H297.5" stroke="#cc2020" stroke-width="1.1" fill="none"/>
<rect x="288.50" y="646.80" width="12.00" height="12.00" fill="none" stroke="#cc2020" stroke-width="1.3"/>
<path d="M326.5,643.6 V649.6 M323.5,643.6 H329.5 M323.5,649.6 H329.5" stroke="#cc2020" stroke-width="1.1" fill="none"/>
<rect x="320.50" y="640.60" width="12.00" height="12.00" fill="none" stroke="#cc2020" stroke-width="1.3"/>
<path d="M360.4,647.8 V653.8 M357.4,647.8 H363.4 M357.4,653.8 H363.4" stroke="#cc2020" stroke-width="1.1" fill="none"/>
<rect x="354.40" y="644.80" width="12.00" height="12.00" fill="none" stroke="#cc2020" stroke-width="1.3"/>
<path d="M397.0,638.3 V644.3 M394.0,638.3 H400.0 M394.0,644.3 H400.0" stroke="#cc2020" stroke-width="1.1" fill="none"/>
<rect x="391.00" y="635.30" width="12.00" height="12.00" fill="none" stroke="#cc2020" stroke-width="1.3"/>
<path d="M437.2,638.7 V644.7 M434.2,638.7 H440.2 M434.2,644.7 H440.2" stroke="#cc2020" stroke-width="1.1" fill="none"/>
<rect x="431.20" y="635.70" width="12.00" height="12.00" fill="none" stroke="#cc2020" stroke-width="1.3"/>
<path d="M489.6,636.8 V642.8 M486.6,636.8 H492.6 M486.6,642.8 H492.6" stroke="#cc2020" stroke-width="1.1" fill="none"/>
<rect x="483.60" y="633.80" width="12.00" height="12.00" fill="none" stroke="#cc2020" stroke-width="1.3"/>
<path d="M537.9,639.4 V645.4 M534.9,639.4 H540.9 M534.9,645.4 H540.9" stroke="#cc2020" stroke-width="1.1" fill="none"/>
<rect x="531.90" y="636.40" width="12.00" height="12.00" fill="none" stroke="#cc2020" stroke-width="1.3"/>
<path d="M589.5,645.3 V651.3 M586.5,645.3 H592.5 M586.5,651.3 H592.5" stroke="#cc2020" stroke-width="1.1" fill="none"/>
<rect x="583.50" y="642.30" width="12.00" height="12.00" fill="none" stroke="#cc2020" stroke-width="1.3"/>
<path d="M645.9,617.0 V637.0 M642.9,617.0 H648.9 M642.9,637.0 H648.9" stroke="#cc2020" stroke-width="1.1" fill="none"/>
<rect x="639.90" y="621.00" width="12.00" height="12.00" fill="none" stroke="#cc2020" stroke-width="1.3"/>
<path d="M93.0,652.2 V655.8 M90.5,652.2 H95.5 M90.5,655.8 H95.5" stroke="#80c4e4" stroke-width="1.1" fill="none"/>
<polygon points="93.00,649.54 97.25,652.62 95.62,657.61 90.38,657.61 88.75,652.62" fill="none" stroke="#80c4e4" stroke-width="1.2"/>
<path d="M97.8,651.2 V654.8 M95.3,651.2 H100.3 M95.3,654.8 H100.3" stroke="#80c4e4" stroke-width="1.1" fill="none"/>
<polygon points="97.80,648.54 102.05,651.62 100.42,656.61 95.18,656.61 93.55,651.62" fill="none" stroke="#80c4e4" stroke-width="1.2"/>
<path d="M103.6,650.2 V653.8 M101.1,650.2 H106.1 M101.1,653.8 H106.1" stroke="#80c4e4" stroke-width="1.1" fill="none"/>
<polygon points="103.60,647.54 107.85,650.62 106.22,655.61 100.98,655.61 99.35,650.62" fill="none" stroke="#80c4e4" stroke-width="1.2"/>
<path d="M109.5,649.2 V652.8 M107.0,649.2 H112.0 M107.0,652.8 H112.0" stroke="#80c4e4" stroke-width="1.1" fill="none"/>
<polygon points="109.50,646.54 113.75,649.62 112.12,654.61 106.88,654.61 105.25,649.62" fill="none" stroke="#80c4e4" stroke-width="1.2"/>
<path d="M120.7,645.9 V650.1 M117.7,645.9 H123.7 M117.7,650.1 H123.7" stroke="#80c4e4" stroke-width="1.1" fill="none"/>
<polygon points="120.70,642.73 125.71,646.37 123.80,652.26 117.60,652.26 115.69,646.37" fill="none" stroke="#80c4e4" stroke-width="1.2"/>
<path d="M130.1,642.9 V647.1 M127.1,642.9 H133.1 M127.1,647.1 H133.1" stroke="#80c4e4" stroke-width="1.1" fill="none"/>
<polygon points="130.10,639.73 135.11,643.37 133.20,649.26 127.00,649.26 125.09,643.37" fill="none" stroke="#80c4e4" stroke-width="1.2"/>
<path d="M140.1,641.6 V646.6 M136.6,641.6 H143.6 M136.6,646.6 H143.6" stroke="#80c4e4" stroke-width="1.1" fill="none"/>
<polygon points="140.10,637.90 146.00,642.18 143.74,649.12 136.46,649.12 134.20,642.18" fill="none" stroke="#80c4e4" stroke-width="1.2"/>
<path d="M151.9,638.1 V643.1 M148.4,638.1 H155.4 M148.4,643.1 H155.4" stroke="#80c4e4" stroke-width="1.1" fill="none"/>
<polygon points="151.90,634.40 157.80,638.68 155.54,645.62 148.26,645.62 146.00,638.68" fill="none" stroke="#80c4e4" stroke-width="1.2"/>
<path d="M166.0,632.8 V637.8 M162.5,632.8 H169.5 M162.5,637.8 H169.5" stroke="#80c4e4" stroke-width="1.1" fill="none"/>
<polygon points="166.00,629.10 171.90,633.38 169.64,640.32 162.36,640.32 160.10,633.38" fill="none" stroke="#80c4e4" stroke-width="1.2"/>
<path d="M185.7,633.6 V638.6 M182.2,633.6 H189.2 M182.2,638.6 H189.2" stroke="#80c4e4" stroke-width="1.1" fill="none"/>
<polygon points="185.70,629.90 191.60,634.18 189.34,641.12 182.06,641.12 179.80,634.18" fill="none" stroke="#80c4e4" stroke-width="1.2"/>
<path d="M204.9,633.6 V638.6 M201.4,633.6 H208.4 M201.4,638.6 H208.4" stroke="#80c4e4" stroke-width="1.1" fill="none"/>
<polygon points="204.90,629.90 210.80,634.18 208.54,641.12 201.26,641.12 199.00,634.18" fill="none" stroke="#80c4e4" stroke-width="1.2"/>
<path d="M225.4,628.4 V633.4 M221.9,628.4 H228.9 M221.9,633.4 H228.9" stroke="#80c4e4" stroke-width="1.1" fill="none"/>
<polygon points="225.40,624.70 231.30,628.98 229.04,635.92 221.76,635.92 219.50,628.98" fill="none" stroke="#80c4e4" stroke-width="1.2"/>
<path d="M249.9,620.0 V625.0 M246.4,620.0 H253.4 M246.4,625.0 H253.4" stroke="#80c4e4" stroke-width="1.1" fill="none"/>
<polygon points="249.90,616.30 255.80,620.58 253.54,627.52 246.26,627.52 244.00,620.58" fill="none" stroke="#80c4e4" stroke-width="1.2"/>
<path d="M276.3,616.9 V621.9 M272.8,616.9 H279.8 M272.8,621.9 H279.8" stroke="#80c4e4" stroke-width="1.1" fill="none"/>
<polygon points="276.30,613.20 282.20,617.48 279.94,624.42 272.66,624.42 270.40,617.48" fill="none" stroke="#80c4e4" stroke-width="1.2"/>
<path d="M294.5,621.1 V626.1 M291.0,621.1 H298.0 M291.0,626.1 H298.0" stroke="#80c4e4" stroke-width="1.1" fill="none"/>
<polygon points="294.50,617.40 300.40,621.68 298.14,628.62 290.86,628.62 288.60,621.68" fill="none" stroke="#80c4e4" stroke-width="1.2"/>
<path d="M326.5,603.9 V613.9 M323.0,603.9 H330.0 M323.0,613.9 H330.0" stroke="#80c4e4" stroke-width="1.1" fill="none"/>
<polygon points="326.50,602.70 332.40,606.98 330.14,613.92 322.86,613.92 320.60,606.98" fill="none" stroke="#80c4e4" stroke-width="1.2"/>
<path d="M360.4,594.5 V606.5 M356.9,594.5 H363.9 M356.9,606.5 H363.9" stroke="#80c4e4" stroke-width="1.1" fill="none"/>
<polygon points="360.40,594.30 366.30,598.58 364.04,605.52 356.76,605.52 354.50,598.58" fill="none" stroke="#80c4e4" stroke-width="1.2"/>
<path d="M397.0,590.4 V602.4 M393.5,590.4 H400.5 M393.5,602.4 H400.5" stroke="#80c4e4" stroke-width="1.1" fill="none"/>
<polygon points="397.00,590.20 402.90,594.48 400.64,601.42 393.36,601.42 391.10,594.48" fill="none" stroke="#80c4e4" stroke-width="1.2"/>
<path d="M437.2,574.7 V598.7 M433.7,574.7 H440.7 M433.7,598.7 H440.7" stroke="#80c4e4" stroke-width="1.1" fill="none"/>
<polygon points="437.20,580.50 443.10,584.78 440.84,591.72 433.56,591.72 431.30,584.78" fill="none" stroke="#80c4e4" stroke-width="1.2"/>
<path d="M489.6,581.2 V603.2 M486.1,581.2 H493.1 M486.1,603.2 H493.1" stroke="#80c4e4" stroke-width="1.1" fill="none"/>
<polygon points="489.60,586.00 495.50,590.28 493.24,597.22 485.96,597.22 483.70,590.28" fill="none" stroke="#80c4e4" stroke-width="1.2"/>
<path d="M537.9,583.2 V601.2 M534.4,583.2 H541.4 M534.4,601.2 H541.4" stroke="#80c4e4" stroke-width="1.1" fill="none"/>
<polygon points="537.90,586.00 543.80,590.28 541.54,597.22 534.26,597.22 532.00,590.28" fill="none" stroke="#80c4e4" stroke-width="1.2"/>
<path d="M589.5,583.8 V613.8 M586.0,583.8 H593.0 M586.0,613.8 H593.0" stroke="#80c4e4" stroke-width="1.1" fill="none"/>
<polygon points="589.50,592.60 595.40,596.88 593.14,603.82 585.86,603.82 583.60,596.88" fill="none" stroke="#80c4e4" stroke-width="1.2"/>
<path d="M645.9,590.0 V620.0 M642.4,590.0 H649.4 M642.4,620.0 H649.4" stroke="#80c4e4" stroke-width="1.1" fill="none"/>
<polygon points="645.90,598.80 651.80,603.08 649.54,610.02 642.26,610.02 640.00,603.08" fill="none" stroke="#80c4e4" stroke-width="1.2"/>
<path d="M93.0,648.8 V653.2 M90.1,648.8 H95.9 M90.1,653.2 H95.9" stroke="#5b5bbd" stroke-width="1.1" fill="none"/>
<polygon points="88.32,647.04 97.68,647.04 93.00,655.32" fill="none" stroke="#5b5bbd" stroke-width="1.3"/>
<path d="M97.8,645.8 V650.2 M94.9,645.8 H100.7 M94.9,650.2 H100.7" stroke="#5b5bbd" stroke-width="1.1" fill="none"/>
<polygon points="93.12,644.04 102.48,644.04 97.80,652.32" fill="none" stroke="#5b5bbd" stroke-width="1.3"/>
<path d="M103.6,643.3 V647.7 M100.7,643.3 H106.5 M100.7,647.7 H106.5" stroke="#5b5bbd" stroke-width="1.1" fill="none"/>
<polygon points="98.92,641.54 108.28,641.54 103.60,649.82" fill="none" stroke="#5b5bbd" stroke-width="1.3"/>
<path d="M109.5,640.8 V645.2 M106.6,640.8 H112.4 M106.6,645.2 H112.4" stroke="#5b5bbd" stroke-width="1.1" fill="none"/>
<polygon points="104.82,639.04 114.18,639.04 109.50,647.32" fill="none" stroke="#5b5bbd" stroke-width="1.3"/>
<path d="M120.7,637.5 V642.5 M117.3,637.5 H124.1 M117.3,642.5 H124.1" stroke="#5b5bbd" stroke-width="1.1" fill="none"/>
<polygon points="115.17,635.33 126.23,635.33 120.70,645.10" fill="none" stroke="#5b5bbd" stroke-width="1.3"/>
<path d="M130.1,631.0 V636.0 M126.7,631.0 H133.5 M126.7,636.0 H133.5" stroke="#5b5bbd" stroke-width="1.1" fill="none"/>
<polygon points="124.57,628.83 135.62,628.83 130.10,638.60" fill="none" stroke="#5b5bbd" stroke-width="1.3"/>
<path d="M140.1,629.4 V635.4 M136.1,629.4 H144.1 M136.1,635.4 H144.1" stroke="#5b5bbd" stroke-width="1.1" fill="none"/>
<polygon points="133.60,626.90 146.60,626.90 140.10,638.40" fill="none" stroke="#5b5bbd" stroke-width="1.3"/>
<path d="M151.9,619.4 V625.4 M147.9,619.4 H155.9 M147.9,625.4 H155.9" stroke="#5b5bbd" stroke-width="1.1" fill="none"/>
<polygon points="145.40,616.90 158.40,616.90 151.90,628.40" fill="none" stroke="#5b5bbd" stroke-width="1.3"/>
<path d="M166.0,622.3 V628.3 M162.0,622.3 H170.0 M162.0,628.3 H170.0" stroke="#5b5bbd" stroke-width="1.1" fill="none"/>
<polygon points="159.50,619.80 172.50,619.80 166.00,631.30" fill="none" stroke="#5b5bbd" stroke-width="1.3"/>
<path d="M185.7,603.9 V613.9 M181.7,603.9 H189.7 M181.7,613.9 H189.7" stroke="#5b5bbd" stroke-width="1.1" fill="none"/>
<polygon points="179.20,603.40 192.20,603.40 185.70,614.90" fill="none" stroke="#5b5bbd" stroke-width="1.3"/>
<path d="M204.9,595.5 V605.5 M200.9,595.5 H208.9 M200.9,605.5 H208.9" stroke="#5b5bbd" stroke-width="1.1" fill="none"/>
<polygon points="198.40,595.00 211.40,595.00 204.90,606.50" fill="none" stroke="#5b5bbd" stroke-width="1.3"/>
<path d="M225.4,578.8 V588.8 M221.4,578.8 H229.4 M221.4,588.8 H229.4" stroke="#5b5bbd" stroke-width="1.1" fill="none"/>
<polygon points="218.90,578.30 231.90,578.30 225.40,589.80" fill="none" stroke="#5b5bbd" stroke-width="1.3"/>
<path d="M249.9,561.1 V573.1 M245.9,561.1 H253.9 M245.9,573.1 H253.9" stroke="#5b5bbd" stroke-width="1.1" fill="none"/>
<polygon points="243.40,561.60 256.40,561.60 249.90,573.10" fill="none" stroke="#5b5bbd" stroke-width="1.3"/>
<path d="M276.3,549.6 V563.6 M272.3,549.6 H280.3 M272.3,563.6 H280.3" stroke="#5b5bbd" stroke-width="1.1" fill="none"/>
<polygon points="269.80,551.10 282.80,551.10 276.30,562.60" fill="none" stroke="#5b5bbd" stroke-width="1.3"/>
<path d="M294.5,544.4 V558.4 M290.5,544.4 H298.5 M290.5,558.4 H298.5" stroke="#5b5bbd" stroke-width="1.1" fill="none"/>
<polygon points="288.00,545.90 301.00,545.90 294.50,557.40" fill="none" stroke="#5b5bbd" stroke-width="1.3"/>
<path d="M326.5,535.0 V549.0 M322.5,535.0 H330.5 M322.5,549.0 H330.5" stroke="#5b5bbd" stroke-width="1.1" fill="none"/>
<polygon points="320.00,536.50 333.00,536.50 326.50,548.00" fill="none" stroke="#5b5bbd" stroke-width="1.3"/>
<path d="M360.4,532.9 V546.9 M356.4,532.9 H364.4 M356.4,546.9 H364.4" stroke="#5b5bbd" stroke-width="1.1" fill="none"/>
<polygon points="353.90,534.40 366.90,534.40 360.40,545.90" fill="none" stroke="#5b5bbd" stroke-width="1.3"/>
<path d="M397.0,529.7 V543.7 M393.0,529.7 H401.0 M393.0,543.7 H401.0" stroke="#5b5bbd" stroke-width="1.1" fill="none"/>
<polygon points="390.50,531.20 403.50,531.20 397.00,542.70" fill="none" stroke="#5b5bbd" stroke-width="1.3"/>
<path d="M437.2,511.2 V523.2 M433.2,511.2 H441.2 M433.2,523.2 H441.2" stroke="#5b5bbd" stroke-width="1.1" fill="none"/>
<polygon points="430.70,511.70 443.70,511.70 437.20,523.20" fill="none" stroke="#5b5bbd" stroke-width="1.3"/>
<path d="M489.6,499.5 V522.5 M485.6,499.5 H493.6 M485.6,522.5 H493.6" stroke="#5b5bbd" stroke-width="1.1" fill="none"/>
<polygon points="483.10,505.50 496.10,505.50 489.60,517.00" fill="none" stroke="#5b5bbd" stroke-width="1.3"/>
<path d="M537.9,475.9 V499.9 M533.9,475.9 H541.9 M533.9,499.9 H541.9" stroke="#5b5bbd" stroke-width="1.1" fill="none"/>
<polygon points="531.40,482.40 544.40,482.40 537.90,493.90" fill="none" stroke="#5b5bbd" stroke-width="1.3"/>
<path d="M589.5,436.2 V472.2 M585.5,436.2 H593.5 M585.5,472.2 H593.5" stroke="#5b5bbd" stroke-width="1.1" fill="none"/>
<polygon points="583.00,448.70 596.00,448.70 589.50,460.20" fill="none" stroke="#5b5bbd" stroke-width="1.3"/>
<path d="M645.9,441.1 V476.1 M641.9,441.1 H649.9 M641.9,476.1 H649.9" stroke="#5b5bbd" stroke-width="1.1" fill="none"/>
<polygon points="639.40,453.10 652.40,453.10 645.90,464.60" fill="none" stroke="#5b5bbd" stroke-width="1.3"/>
<path d="M93.0,648.5 V653.5 M90.1,648.5 H95.9 M90.1,653.5 H95.9" stroke="#7fbf6f" stroke-width="1.1" fill="none"/>
<polygon points="93.00,646.32 97.90,654.96 88.10,654.96" fill="#3d8b37"/>
<path d="M97.8,646.5 V651.5 M94.9,646.5 H100.7 M94.9,651.5 H100.7" stroke="#7fbf6f" stroke-width="1.1" fill="none"/>
<polygon points="97.80,644.32 102.70,652.96 92.90,652.96" fill="#3d8b37"/>
<path d="M103.6,644.0 V649.0 M100.7,644.0 H106.5 M100.7,649.0 H106.5" stroke="#7fbf6f" stroke-width="1.1" fill="none"/>
<polygon points="103.60,641.82 108.50,650.46 98.70,650.46" fill="#3d8b37"/>
<path d="M109.5,641.7 V646.7 M106.6,641.7 H112.4 M106.6,646.7 H112.4" stroke="#7fbf6f" stroke-width="1.1" fill="none"/>
<polygon points="109.50,639.52 114.40,648.16 104.60,648.16" fill="#3d8b37"/>
<path d="M120.7,636.3 V642.3 M117.3,636.3 H124.1 M117.3,642.3 H124.1" stroke="#7fbf6f" stroke-width="1.1" fill="none"/>
<polygon points="120.70,633.77 126.48,643.97 114.92,643.97" fill="#3d8b37"/>
<path d="M130.1,632.7 V638.7 M126.7,632.7 H133.5 M126.7,638.7 H133.5" stroke="#7fbf6f" stroke-width="1.1" fill="none"/>
<polygon points="130.10,630.18 135.88,640.38 124.32,640.38" fill="#3d8b37"/>
<path d="M140.1,630.0 V637.0 M136.1,630.0 H144.1 M136.1,637.0 H144.1" stroke="#7fbf6f" stroke-width="1.1" fill="none"/>
<polygon points="140.10,627.00 146.90,639.00 133.30,639.00" fill="#3d8b37"/>
<path d="M151.9,622.4 V629.4 M147.9,622.4 H155.9 M147.9,629.4 H155.9" stroke="#7fbf6f" stroke-width="1.1" fill="none"/>
<polygon points="151.90,619.40 158.70,631.40 145.10,631.40" fill="#3d8b37"/>
<path d="M166.0,613.6 V620.6 M162.0,613.6 H170.0 M162.0,620.6 H170.0" stroke="#7fbf6f" stroke-width="1.1" fill="none"/>
<polygon points="166.00,610.60 172.80,622.60 159.20,622.60" fill="#3d8b37"/>
<path d="M185.7,594.6 V610.6 M181.7,594.6 H189.7 M181.7,610.6 H189.7" stroke="#7fbf6f" stroke-width="1.1" fill="none"/>
<polygon points="185.70,596.10 192.50,608.10 178.90,608.10" fill="#3d8b37"/>
<path d="M204.9,593.6 V609.6 M200.9,593.6 H208.9 M200.9,609.6 H208.9" stroke="#7fbf6f" stroke-width="1.1" fill="none"/>
<polygon points="204.90,595.10 211.70,607.10 198.10,607.10" fill="#3d8b37"/>
<path d="M225.4,579.4 V595.4 M221.4,579.4 H229.4 M221.4,595.4 H229.4" stroke="#7fbf6f" stroke-width="1.1" fill="none"/>
<polygon points="225.40,580.90 232.20,592.90 218.60,592.90" fill="#3d8b37"/>
<path d="M249.9,567.4 V583.4 M245.9,567.4 H253.9 M245.9,583.4 H253.9" stroke="#7fbf6f" stroke-width="1.1" fill="none"/>
<polygon points="249.90,568.90 256.70,580.90 243.10,580.90" fill="#3d8b37"/>
<path d="M276.3,569.5 V585.5 M272.3,569.5 H280.3 M272.3,585.5 H280.3" stroke="#7fbf6f" stroke-width="1.1" fill="none"/>
<polygon points="276.30,571.00 283.10,583.00 269.50,583.00" fill="#3d8b37"/>
<path d="M294.5,558.0 V574.0 M290.5,558.0 H298.5 M290.5,574.0 H298.5" stroke="#7fbf6f" stroke-width="1.1" fill="none"/>
<polygon points="294.50,559.50 301.30,571.50 287.70,571.50" fill="#3d8b37"/>
<path d="M326.5,544.4 V560.4 M322.5,544.4 H330.5 M322.5,560.4 H330.5" stroke="#7fbf6f" stroke-width="1.1" fill="none"/>
<polygon points="326.50,545.90 333.30,557.90 319.70,557.90" fill="#3d8b37"/>
<path d="M360.4,530.4 V546.4 M356.4,530.4 H364.4 M356.4,546.4 H364.4" stroke="#7fbf6f" stroke-width="1.1" fill="none"/>
<polygon points="360.40,531.90 367.20,543.90 353.60,543.90" fill="#3d8b37"/>
<path d="M397.0,522.5 V538.5 M393.0,522.5 H401.0 M393.0,538.5 H401.0" stroke="#7fbf6f" stroke-width="1.1" fill="none"/>
<polygon points="397.00,524.00 403.80,536.00 390.20,536.00" fill="#3d8b37"/>
<path d="M437.2,509.0 V526.0 M432.7,509.0 H441.7 M432.7,526.0 H441.7" stroke="#7fbf6f" stroke-width="1.3" fill="none"/>
<polygon points="437.20,510.70 444.00,522.70 430.40,522.70" fill="#3d8b37"/>
<path d="M489.6,409.2 V455.7 M485.1,409.2 H494.1 M485.1,455.7 H494.1" stroke="#7fbf6f" stroke-width="1.3" fill="none"/>
<polygon points="489.60,425.70 496.40,437.70 482.80,437.70" fill="#3d8b37"/>
<path d="M537.9,440.3 V486.0 M533.4,440.3 H542.4 M533.4,486.0 H542.4" stroke="#7fbf6f" stroke-width="1.3" fill="none"/>
<polygon points="537.90,458.70 544.70,470.70 531.10,470.70" fill="#3d8b37"/>
<path d="M589.5,412.8 V454.9 M585.0,412.8 H594.0 M585.0,454.9 H594.0" stroke="#7fbf6f" stroke-width="1.3" fill="none"/>
<polygon points="589.50,427.60 596.30,439.60 582.70,439.60" fill="#3d8b37"/>
<line x1="86.6" y1="392.4" x2="86.6" y2="674" stroke="#000" stroke-width="2.6"/>
<line x1="85.3" y1="672.8" x2="679.2" y2="672.8" stroke="#000" stroke-width="2.6"/>
<line x1="87.5" y1="611.8" x2="96.5" y2="611.8" stroke="#333" stroke-width="1.5"/>
<line x1="87.5" y1="562.7" x2="96.5" y2="562.7" stroke="#333" stroke-width="1.5"/>
<line x1="87.5" y1="513.6" x2="96.5" y2="513.6" stroke="#333" stroke-width="1.5"/>
<line x1="87.5" y1="464.5" x2="96.5" y2="464.5" stroke="#333" stroke-width="1.5"/>
<line x1="87.5" y1="415.4" x2="96.5" y2="415.4" stroke="#333" stroke-width="1.5"/>
<line x1="166.4" y1="664.4" x2="166.4" y2="672" stroke="#000" stroke-width="2"/>
<line x1="242.8" y1="664.4" x2="242.8" y2="672" stroke="#000" stroke-width="2"/>
<line x1="319.2" y1="664.4" x2="319.2" y2="672" stroke="#000" stroke-width="2"/>
<line x1="395.6" y1="664.4" x2="395.6" y2="672" stroke="#000" stroke-width="2"/>
<line x1="472.0" y1="664.4" x2="472.0" y2="672" stroke="#000" stroke-width="2"/>
<line x1="548.4" y1="664.4" x2="548.4" y2="672" stroke="#000" stroke-width="2"/>
<line x1="624.8" y1="664.4" x2="624.8" y2="672" stroke="#000" stroke-width="2"/>
<text x="64.91" y="427.70" font-family="Liberation Sans" font-size="31" fill="#000" stroke="#000" stroke-width="0.45" textLength="18.86" lengthAdjust="spacingAndGlyphs" >5</text>
<text x="66.00" y="477.00" font-family="Liberation Sans" font-size="31" fill="#000" stroke="#000" stroke-width="0.45" textLength="17.15" lengthAdjust="spacingAndGlyphs" >4</text>
<text x="64.50" y="526.00" font-family="Liberation Sans" font-size="31" fill="#000" stroke="#000" stroke-width="0.45" textLength="18.98" lengthAdjust="spacingAndGlyphs" >3</text>
<text x="64.50" y="574.30" font-family="Liberation Sans" font-size="31" fill="#000" stroke="#000" stroke-width="0.45" textLength="18.98" lengthAdjust="spacingAndGlyphs" >2</text>
<text x="67.20" y="623.80" font-family="Liberation Sans" font-size="31" fill="#000" stroke="#000" stroke-width="0.45" textLength="17.25" lengthAdjust="spacingAndGlyphs" >1</text>
<text x="64.86" y="672.30" font-family="Liberation Sans" font-size="33.5" fill="#000" stroke="#000" stroke-width="0.45" textLength="17.54" lengthAdjust="spacingAndGlyphs" >0</text>
<text x="143.26" y="701.00" font-family="Liberation Sans" font-size="30" fill="#000" stroke="#000" stroke-width="0.45" textLength="47.60" lengthAdjust="spacingAndGlyphs" >0.2</text>
<text x="218.83" y="701.00" font-family="Liberation Sans" font-size="30" fill="#000" stroke="#000" stroke-width="0.45" textLength="48.81" lengthAdjust="spacingAndGlyphs" >0.4</text>
<text x="294.59" y="701.00" font-family="Liberation Sans" font-size="30" fill="#000" stroke="#000" stroke-width="0.45" textLength="46.41" lengthAdjust="spacingAndGlyphs" >0.6</text>
<text x="370.19" y="701.00" font-family="Liberation Sans" font-size="30" fill="#000" stroke="#000" stroke-width="0.45" textLength="46.41" lengthAdjust="spacingAndGlyphs" >0.8</text>
<text x="448.65" y="701.00" font-family="Liberation Sans" font-size="30" fill="#000" stroke="#000" stroke-width="0.45" textLength="42.68" lengthAdjust="spacingAndGlyphs" >1.0</text>
<text x="524.58" y="701.00" font-family="Liberation Sans" font-size="30" fill="#000" stroke="#000" stroke-width="0.45" textLength="44.24" lengthAdjust="spacingAndGlyphs" >1.2</text>
<text x="601.08" y="701.00" font-family="Liberation Sans" font-size="30" fill="#000" stroke="#000" stroke-width="0.45" textLength="44.18" lengthAdjust="spacingAndGlyphs" >1.4</text>
<polygon points="111.50,384.50 126.60,384.50 119.00,395.50" fill="none" stroke="#5b5bbd" stroke-width="1.3"/>
<polygon points="119.00,402.80 126.80,414.10 111.30,414.10" fill="#3d8b37"/>
<polygon points="118.80,426.40 124.32,430.41 122.21,436.89 115.39,436.89 113.28,430.41" fill="none" stroke="#80c4e4" stroke-width="1.2"/>
<rect x="112.5" y="448.5" width="12" height="12" fill="none" stroke="#cc2020" stroke-width="1.3"/>
<polygon points="118.80,466.00 126.50,473.20 118.80,480.40 111.10,473.20" fill="none" stroke="#d37fc4" stroke-width="1.2"/>
<text x="135.81" y="399.30" font-family="Liberation Sans" font-size="31" fill="#000" stroke="#000" stroke-width="0.45" textLength="333.04" lengthAdjust="spacingAndGlyphs" >DMPC standard (30°C)</text>
<text x="135.86" y="423.10" font-family="Liberation Sans" font-size="31" fill="#000" stroke="#000" stroke-width="0.45" textLength="306.09" lengthAdjust="spacingAndGlyphs" >+ trehalose (25mol%)</text>
<text x="135.86" y="446.20" font-family="Liberation Sans" font-size="31" fill="#000" stroke="#000" stroke-width="0.45" textLength="331.11" lengthAdjust="spacingAndGlyphs" >+ cholesterol (20mol%)</text>
<text x="135.86" y="470.20" font-family="Liberation Sans" font-size="31" fill="#000" stroke="#000" stroke-width="0.45" textLength="331.11" lengthAdjust="spacingAndGlyphs" >+ cholesterol (30mol%)</text>
<text x="135.86" y="494.50" font-family="Liberation Sans" font-size="31" fill="#000" stroke="#000" stroke-width="0.45" textLength="331.11" lengthAdjust="spacingAndGlyphs" >+ cholesterol (40mol%)</text>
<text x="317.14" y="750.30" font-family="Liberation Sans" font-size="43" fill="#000" stroke="#000" stroke-width="0.45" textLength="45.67" lengthAdjust="spacingAndGlyphs" >10</text>
<text x="362.80" y="733.80" font-family="Liberation Sans" font-size="29" fill="#000" stroke="#000" stroke-width="0.45" textLength="28.48" lengthAdjust="spacingAndGlyphs" >-3</text>
<text x="399.18" y="750.30" font-family="Liberation Sans" font-size="43" fill="#000" stroke="#000" stroke-width="0.45" textLength="25.31" lengthAdjust="spacingAndGlyphs" >q</text>
<text x="423.09" y="733.80" font-family="Liberation Sans" font-size="29" fill="#000" stroke="#000" stroke-width="0.45" textLength="17.87" lengthAdjust="spacingAndGlyphs" >3</text>
<text x="449.93" y="750.30" font-family="Liberation Sans" font-size="43" fill="#000" stroke="#000" stroke-width="0.45" textLength="11.94" lengthAdjust="spacingAndGlyphs" >(</text>
<text x="463.50" y="750.30" font-family="Liberation Sans" font-size="43" fill="#000" stroke="#000" stroke-width="0.45" textLength="27.10" lengthAdjust="spacingAndGlyphs" >Å</text>
<text x="487.93" y="733.80" font-family="Liberation Sans" font-size="29" fill="#000" stroke="#000" stroke-width="0.45" textLength="27.52" lengthAdjust="spacingAndGlyphs" >-3</text>
<text x="513.70" y="750.30" font-family="Liberation Sans" font-size="43" fill="#000" stroke="#000" stroke-width="0.45" textLength="13.01" lengthAdjust="spacingAndGlyphs" >)</text>
<text transform="translate(41.30,665.44) rotate(-90)" x="0" y="0" font-family="Liberation Sans" font-size="43" fill="#000" stroke="#000" stroke-width="0.45" textLength="43.71" lengthAdjust="spacingAndGlyphs" >10</text>
<text transform="translate(41.80,607.31) rotate(-90)" x="0" y="0" font-family="Liberation Serif" font-size="43" fill="#000" stroke="#000" stroke-width="0.45" textLength="25.18" lengthAdjust="spacingAndGlyphs" >Γ</text>
<text transform="translate(28.40,576.17) rotate(-90)" x="0" y="0" font-family="Liberation Sans" font-size="29" fill="#000" stroke="#000" stroke-width="0.45" textLength="30.10" lengthAdjust="spacingAndGlyphs" >-3</text>
<text transform="translate(41.60,547.60) rotate(-90)" x="0" y="0" font-family="Liberation Sans" font-size="43" fill="#000" stroke="#000" stroke-width="0.45" textLength="59.84" lengthAdjust="spacingAndGlyphs" >(ns</text>
<text transform="translate(28.90,486.12) rotate(-90)" x="0" y="0" font-family="Liberation Sans" font-size="29" fill="#000" stroke="#000" stroke-width="0.45" textLength="23.75" lengthAdjust="spacingAndGlyphs" >-1</text>
<text transform="translate(41.60,460.50) rotate(-90)" x="0" y="0" font-family="Liberation Sans" font-size="43" fill="#000" stroke="#000" stroke-width="0.45" textLength="10.03" lengthAdjust="spacingAndGlyphs" >)</text>
</svg>
</body></html>
